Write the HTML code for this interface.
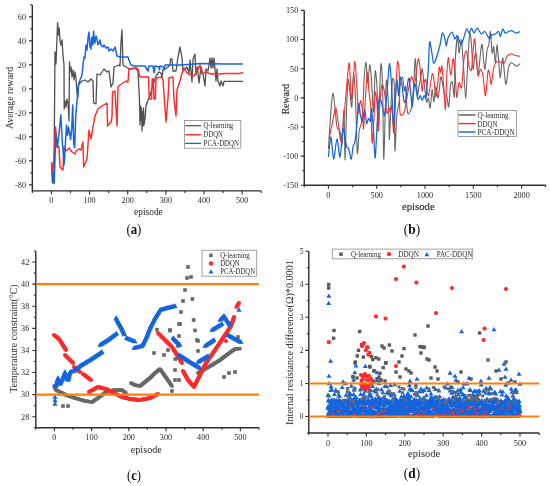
<!DOCTYPE html>
<html><head><meta charset="utf-8"><style>
html,body{margin:0;padding:0;background:#fff;width:550px;height:486px;overflow:hidden}
svg{display:block;filter:blur(0.25px)}
text{font-family:'Liberation Serif', serif}
</style></head><body>
<svg width="550" height="486" viewBox="0 0 550 486">
<path d="M32.33 4.90V190.90H261.23" fill="none" stroke="#2e2e2e" stroke-width="1.4"/>
<text x="26.00" y="187.70" font-size="8.2" text-anchor="end" fill="#2a2a2a">-80</text>
<text x="26.00" y="163.70" font-size="8.2" text-anchor="end" fill="#2a2a2a">-60</text>
<text x="26.00" y="139.70" font-size="8.2" text-anchor="end" fill="#2a2a2a">-40</text>
<text x="26.00" y="115.70" font-size="8.2" text-anchor="end" fill="#2a2a2a">-20</text>
<text x="26.00" y="91.70" font-size="8.2" text-anchor="end" fill="#2a2a2a">0</text>
<text x="26.00" y="67.70" font-size="8.2" text-anchor="end" fill="#2a2a2a">20</text>
<text x="26.00" y="43.70" font-size="8.2" text-anchor="end" fill="#2a2a2a">40</text>
<text x="26.00" y="19.70" font-size="8.2" text-anchor="end" fill="#2a2a2a">60</text>
<text x="51.40" y="203.30" font-size="8.2" text-anchor="middle" fill="#2a2a2a">0</text>
<text x="89.55" y="203.30" font-size="8.2" text-anchor="middle" fill="#2a2a2a">100</text>
<text x="127.70" y="203.30" font-size="8.2" text-anchor="middle" fill="#2a2a2a">200</text>
<text x="165.85" y="203.30" font-size="8.2" text-anchor="middle" fill="#2a2a2a">300</text>
<text x="204.00" y="203.30" font-size="8.2" text-anchor="middle" fill="#2a2a2a">400</text>
<text x="242.15" y="203.30" font-size="8.2" text-anchor="middle" fill="#2a2a2a">500</text>
<path d="M32.33 184.90h-3.5 M32.33 172.90h-2.0 M32.33 160.90h-3.5 M32.33 148.90h-2.0 M32.33 136.90h-3.5 M32.33 124.90h-2.0 M32.33 112.90h-3.5 M32.33 100.90h-2.0 M32.33 88.90h-3.5 M32.33 76.90h-2.0 M32.33 64.90h-3.5 M32.33 52.90h-2.0 M32.33 40.90h-3.5 M32.33 28.90h-2.0 M32.33 16.90h-3.5 M32.33 4.90h-2.0 M32.33 190.90v2.0 M51.40 190.90v3.5 M70.47 190.90v2.0 M89.55 190.90v3.5 M108.62 190.90v2.0 M127.70 190.90v3.5 M146.78 190.90v2.0 M165.85 190.90v3.5 M184.93 190.90v2.0 M204.00 190.90v3.5 M223.08 190.90v2.0 M242.15 190.90v3.5 M261.23 190.90v2.0" stroke="#2e2e2e" stroke-width="1.1" fill="none"/>
<text x="13.10" y="97.90" font-size="9.6" text-anchor="middle" font-weight="normal" fill="#2a2a2a" transform="rotate(-90 13.10 97.90)" textLength="62.3" lengthAdjust="spacingAndGlyphs">Average reward</text>
<text x="148.40" y="214.50" font-size="9.6" text-anchor="middle" font-weight="normal" fill="#2a2a2a" textLength="28.8" lengthAdjust="spacingAndGlyphs">episode</text>
<text x="133.90" y="234.40" font-size="13.6" text-anchor="middle" font-weight="normal" fill="#111" textLength="15" lengthAdjust="spacingAndGlyphs">(<tspan font-weight='bold'>a</tspan>)</text>
<path d="M51.6 163.0 L52.4 183.0 L53.0 177.0 L54.0 170.0 L55.0 52.0 L55.5 60.0 L56.0 64.0 L57.6 22.6 L58.4 35.0 L59.2 28.0 L60.0 41.0 L61.0 45.0 L62.0 40.0 L63.0 55.0 L64.0 65.0 L64.2 109.0 L65.0 101.0 L66.0 107.0 L67.0 99.0 L68.0 103.0 L69.0 121.0 L69.5 62.0 L70.0 72.0 L71.0 67.0 L72.0 77.0 L73.0 70.0 L74.0 80.0 L75.0 72.0 L76.0 78.0 L77.0 94.0 L78.0 88.0 L79.0 84.0 L82.0 81.0 L85.0 80.0 L88.0 82.0 L91.0 79.0 L93.0 81.0 L93.6 103.0 L96.0 104.0 L97.0 74.0 L100.0 75.0 L104.0 69.0 L107.0 72.0 L109.0 71.0 L111.0 87.0 L113.0 83.0 L114.0 67.0 L119.0 65.0 L120.0 66.0 L121.0 42.0 L122.0 30.0 L123.0 65.0 L126.0 67.0 L128.0 68.0 L129.0 69.0 L136.0 68.0 L138.0 72.0 L139.5 100.0 L140.0 125.0 L140.5 106.0 L141.0 120.0 L141.5 108.0 L142.0 131.0 L142.5 112.0 L143.0 126.0 L143.5 108.0 L144.0 125.0 L145.0 119.0 L146.0 106.0 L148.0 100.0 L150.0 96.0 L152.0 88.0 L154.0 82.0 L156.0 76.0 L159.0 72.0 L161.0 73.0 L162.0 77.0 L163.0 69.0 L165.0 69.0 L167.0 68.0 L170.0 65.0 L170.5 59.0 L172.0 59.0 L173.0 71.0 L176.0 71.0 L178.0 57.0 L180.0 47.0 L182.0 58.0 L183.0 71.0 L185.0 69.0 L187.0 67.0 L189.0 73.0 L190.0 60.0 L192.0 82.0 L193.0 59.0 L195.0 54.0 L196.0 75.0 L197.4 67.0 L199.0 83.0 L201.0 67.0 L203.0 74.0 L205.0 86.0 L206.0 69.0 L208.0 71.0 L210.0 58.0 L211.0 68.0 L212.0 58.0 L213.0 68.0 L214.0 58.0 L215.0 69.0 L216.0 81.0 L217.0 69.0 L218.0 81.0 L220.0 86.0 L221.0 81.0 L223.0 86.0 L224.0 81.3 L243.0 81.3" fill="none" stroke="#505050" stroke-width="1.3" stroke-linejoin="round"/>
<path d="M51.6 162.0 L52.4 177.0 L54.0 157.0 L55.6 127.0 L57.0 145.0 L59.0 147.0 L60.0 167.0 L63.0 170.0 L64.0 147.0 L66.0 151.0 L69.0 148.0 L72.0 152.0 L75.0 154.0 L76.0 151.0 L79.0 149.0 L81.0 150.0 L83.0 142.0 L83.6 167.0 L87.0 159.0 L89.0 130.0 L91.0 139.0 L93.0 127.0 L95.0 116.0 L98.0 109.0 L102.0 106.0 L107.0 103.0 L107.6 126.0 L111.0 122.0 L112.0 117.0 L112.5 92.0 L115.0 91.0 L117.0 126.0 L118.0 87.0 L120.0 85.0 L126.0 81.0 L128.0 82.0 L129.0 69.0 L137.0 68.0 L138.0 69.0 L140.0 77.0 L145.0 77.0 L148.5 77.0 L149.2 99.0 L151.6 99.0 L152.2 79.0 L153.4 79.0 L154.0 99.0 L155.4 99.0 L156.0 78.0 L162.0 77.0 L163.0 80.0 L166.0 122.0 L168.0 98.0 L169.0 78.0 L173.0 77.0 L174.0 100.0 L176.0 116.0 L177.0 90.0 L180.0 81.0 L182.0 73.0 L184.0 68.0 L187.0 73.0 L191.0 75.0 L194.0 76.0 L198.0 69.0 L200.0 65.0 L202.0 74.0 L205.0 72.0 L211.0 74.0 L215.0 74.0 L219.0 74.0 L225.0 73.5 L240.0 73.5 L243.0 72.5" fill="none" stroke="#ff2a2a" stroke-width="1.45" stroke-linejoin="round"/>
<path d="M52.1 172.3 L54.2 183.6 L55.2 151.7 L56.2 135.3 L57.3 147.6 L59.3 131.2 L60.8 114.7 L62.4 143.5 L63.4 155.0 L64.0 165.0 L64.5 160.0 L65.5 141.4 L66.5 125.0 L67.5 135.3 L68.6 127.0 L70.6 139.4 L71.7 129.0 L72.7 105.0 L73.7 143.5 L74.7 147.6 L75.8 114.7 L77.8 92.0 L78.0 97.0 L78.5 85.0 L80.0 80.0 L82.0 75.0 L83.0 65.0 L84.0 57.0 L85.0 58.0 L86.0 45.0 L87.0 50.0 L88.0 38.0 L89.0 32.0 L90.0 47.0 L91.0 49.0 L91.6 38.0 L92.4 37.0 L93.0 45.0 L93.6 31.0 L94.4 41.0 L95.0 43.0 L96.0 36.0 L97.0 39.0 L98.0 45.0 L99.0 43.0 L100.0 40.0 L101.0 45.0 L103.0 47.0 L104.0 45.0 L106.0 48.0 L108.0 47.0 L109.0 51.0 L111.0 49.0 L113.0 51.0 L115.0 47.0 L117.0 56.0 L120.0 57.0 L128.0 57.0 L129.0 60.0 L131.0 65.0 L134.0 66.0 L145.0 66.0 L148.0 71.0 L149.0 66.0 L153.0 66.0 L154.0 73.0 L155.0 66.0 L159.0 67.0 L159.5 70.0 L160.0 66.0 L164.0 67.0 L164.5 70.0 L165.0 65.0 L181.0 65.0 L200.0 63.5 L225.0 64.0 L243.0 64.0" fill="none" stroke="#1565dc" stroke-width="1.5" stroke-linejoin="round"/>
<rect x="184.5" y="120.5" width="56.3" height="27.7" fill="#fff" stroke="#8a8a8a" stroke-width="0.8"/>
<path d="M185.2 125.7H201.2" stroke="#5a5a5a" stroke-width="1.3"/>
<text x="203.60" y="128.30" font-size="7.5" text-anchor="start" font-weight="normal" fill="#2a2a2a" textLength="29.7" lengthAdjust="spacingAndGlyphs">Q-learning</text>
<path d="M185.2 134.7H201.2" stroke="#ff2a2a" stroke-width="1.3"/>
<text x="203.60" y="137.30" font-size="7.5" text-anchor="start" font-weight="normal" fill="#2a2a2a" textLength="19.2" lengthAdjust="spacingAndGlyphs">DDQN</text>
<path d="M185.2 143.4H201.2" stroke="#1565dc" stroke-width="1.3"/>
<text x="203.60" y="146.00" font-size="7.5" text-anchor="start" font-weight="normal" fill="#2a2a2a" textLength="35.3" lengthAdjust="spacingAndGlyphs">PCA-DDQN</text>
<path d="M304.25 10.40V185.30H545.75" fill="none" stroke="#2e2e2e" stroke-width="1.4"/>
<text x="298.30" y="188.10" font-size="8.2" text-anchor="end" fill="#2a2a2a">-150</text>
<text x="298.30" y="158.95" font-size="8.2" text-anchor="end" fill="#2a2a2a">-100</text>
<text x="298.30" y="129.80" font-size="8.2" text-anchor="end" fill="#2a2a2a">-50</text>
<text x="298.30" y="100.65" font-size="8.2" text-anchor="end" fill="#2a2a2a">0</text>
<text x="298.30" y="71.50" font-size="8.2" text-anchor="end" fill="#2a2a2a">50</text>
<text x="298.30" y="42.35" font-size="8.2" text-anchor="end" fill="#2a2a2a">100</text>
<text x="298.30" y="13.20" font-size="8.2" text-anchor="end" fill="#2a2a2a">150</text>
<text x="328.40" y="198.10" font-size="8.2" text-anchor="middle" fill="#2a2a2a">0</text>
<text x="376.70" y="198.10" font-size="8.2" text-anchor="middle" fill="#2a2a2a">500</text>
<text x="425.00" y="198.10" font-size="8.2" text-anchor="middle" fill="#2a2a2a">1000</text>
<text x="473.30" y="198.10" font-size="8.2" text-anchor="middle" fill="#2a2a2a">1500</text>
<text x="521.60" y="198.10" font-size="8.2" text-anchor="middle" fill="#2a2a2a">2000</text>
<path d="M304.25 185.30h-3.5 M304.25 170.72h-2.0 M304.25 156.15h-3.5 M304.25 141.57h-2.0 M304.25 127.00h-3.5 M304.25 112.42h-2.0 M304.25 97.85h-3.5 M304.25 83.27h-2.0 M304.25 68.70h-3.5 M304.25 54.12h-2.0 M304.25 39.55h-3.5 M304.25 24.97h-2.0 M304.25 10.40h-3.5 M304.25 185.30v2.0 M328.40 185.30v3.5 M352.55 185.30v2.0 M376.70 185.30v3.5 M400.85 185.30v2.0 M425.00 185.30v3.5 M449.15 185.30v2.0 M473.30 185.30v3.5 M497.45 185.30v2.0 M521.60 185.30v3.5 M545.75 185.30v2.0" stroke="#2e2e2e" stroke-width="1.1" fill="none"/>
<text x="288.80" y="99.10" font-size="9.8" text-anchor="middle" font-weight="normal" fill="#2a2a2a" transform="rotate(-90 288.80 99.10)" textLength="30.4" lengthAdjust="spacingAndGlyphs" stroke="#2a2a2a" stroke-width="0.12">Reward</text>
<text x="418.30" y="209.90" font-size="10.5" text-anchor="middle" font-weight="normal" fill="#2a2a2a" textLength="32.8" lengthAdjust="spacingAndGlyphs" stroke="#2a2a2a" stroke-width="0.15">episode</text>
<text x="412.00" y="234.30" font-size="13.6" text-anchor="middle" font-weight="normal" fill="#111" textLength="16.3" lengthAdjust="spacingAndGlyphs">(<tspan font-weight='bold'>b</tspan>)</text>
<path d="M328.4 149.0 C328.7 143.8 330.4 117.5 331.0 110.0 C331.6 102.5 332.5 93.3 333.0 93.0 C333.5 92.7 334.5 103.5 335.0 108.0 C335.5 112.5 336.3 123.9 337.0 127.0 C337.7 130.1 339.3 128.6 340.0 131.0 C340.7 133.4 341.5 147.8 342.0 145.0 C342.5 142.2 343.6 108.0 344.0 110.0 C344.4 112.0 344.7 159.7 345.0 160.0 C345.3 160.3 346.1 122.7 346.5 112.0 C346.9 101.3 347.6 82.4 348.1 79.7 C348.6 77.0 349.4 88.4 349.9 92.0 C350.4 95.6 351.3 109.3 351.8 106.8 C352.3 104.3 353.1 74.6 353.6 73.5 C354.1 72.4 355.0 87.6 355.5 98.2 C356.0 108.8 356.8 148.7 357.3 153.0 C357.8 157.3 358.7 134.6 359.2 130.8 C359.7 127.0 360.5 127.7 361.0 124.7 C361.5 121.7 362.5 114.8 362.9 108.6 C363.3 102.4 363.7 84.6 364.1 78.4 C364.5 72.2 365.5 61.7 366.0 62.4 C366.5 63.1 367.3 83.1 367.8 83.4 C368.3 83.7 369.2 65.4 369.7 64.9 C370.2 64.4 371.0 73.5 371.5 79.7 C372.0 85.9 372.9 112.9 373.4 111.7 C373.9 110.5 374.7 74.0 375.2 71.0 C375.7 68.0 376.7 81.5 377.1 89.5 C377.5 97.5 377.8 134.1 378.3 130.8 C378.8 127.5 380.2 70.7 380.8 64.9 C381.4 59.1 382.2 74.4 382.6 87.0 C383.0 99.6 383.3 160.0 383.8 159.2 C384.3 158.4 385.6 87.1 386.3 80.9 C387.0 74.7 388.4 105.2 388.8 113.0 C389.2 120.8 389.1 141.2 389.4 139.5 C389.7 137.8 390.8 108.0 391.2 100.0 C391.6 92.0 392.1 81.6 392.5 79.7 C392.9 77.8 394.0 76.3 394.3 85.8 C394.6 95.3 394.6 146.6 394.9 150.6 C395.2 154.6 396.2 122.7 396.8 116.0 C397.4 109.3 398.9 103.9 399.3 100.0 C399.7 96.1 399.6 90.0 400.0 87.0 C400.4 84.0 401.9 76.7 402.5 77.2 C403.1 77.7 403.9 89.5 404.3 90.8 C404.7 92.1 405.1 84.2 405.5 87.0 C405.9 89.8 406.9 108.2 407.4 111.7 C407.9 115.2 408.6 113.7 409.2 113.0 C409.8 112.3 411.1 110.4 411.7 106.8 C412.3 103.2 413.1 92.2 413.6 85.8 C414.1 79.4 414.9 57.5 415.4 58.7 C415.9 59.9 416.8 90.9 417.3 94.5 C417.8 98.1 418.6 88.3 419.1 85.8 C419.6 83.3 420.6 78.3 421.0 76.0 C421.4 73.7 421.8 67.8 422.2 68.6 C422.6 69.4 423.4 77.7 424.0 82.1 C424.6 86.5 425.9 99.8 426.5 101.9 C427.1 104.0 427.9 97.2 428.4 98.0 C428.9 98.8 429.7 109.1 430.2 108.0 C430.7 106.9 431.6 90.3 432.1 89.5 C432.6 88.7 433.4 102.2 433.9 101.9 C434.4 101.6 435.2 87.5 435.8 87.0 C436.4 86.5 437.5 99.3 438.2 98.0 C438.9 96.7 440.1 79.1 440.7 77.2 C441.3 75.3 442.0 81.1 442.5 83.4 C443.0 85.7 443.8 92.7 444.4 94.5 C445.0 96.3 446.3 95.3 446.9 96.9 C447.5 98.5 448.2 108.4 448.7 106.8 C449.2 105.2 450.1 87.9 450.6 84.6 C451.1 81.3 451.9 80.5 452.4 82.1 C452.9 83.7 454.0 99.2 454.3 96.9 C454.6 94.6 454.6 72.6 455.0 64.5 C455.4 56.4 457.0 38.0 457.5 36.5 C458.0 35.0 458.6 52.6 459.1 53.0 C459.6 53.4 460.8 38.7 461.3 39.8 C461.8 40.9 462.6 53.3 463.2 61.2 C463.8 69.1 465.1 99.0 465.7 99.0 C466.3 99.0 467.3 69.8 467.8 61.0 C468.3 52.2 469.3 35.4 469.8 33.2 C470.3 31.0 471.1 39.9 471.5 44.7 C471.9 49.5 472.6 68.3 473.1 69.4 C473.6 70.5 474.9 52.3 475.6 53.0 C476.3 53.7 477.4 74.4 478.1 74.4 C478.8 74.4 480.0 57.0 480.5 53.0 C481.0 49.0 481.6 42.5 482.2 44.7 C482.8 46.9 484.0 68.7 484.7 69.4 C485.4 70.1 486.6 53.0 487.1 49.7 C487.6 46.4 488.4 47.4 488.8 45.0 C489.2 42.6 490.0 30.4 490.4 31.5 C490.8 32.6 491.7 51.0 492.1 53.0 C492.5 55.0 493.3 45.1 493.7 46.4 C494.1 47.7 495.0 63.0 495.4 62.8 C495.8 62.6 496.6 44.9 497.0 44.7 C497.4 44.5 498.3 56.8 498.7 61.2 C499.1 65.6 499.8 78.1 500.3 77.7 C500.8 77.3 502.1 57.0 502.8 57.9 C503.5 58.8 504.9 83.0 505.7 84.3 C506.5 85.6 507.8 70.7 508.5 67.8 C509.2 64.9 510.2 63.2 511.0 62.8 C511.8 62.4 513.5 64.1 514.3 64.5 C515.1 64.9 516.0 66.2 516.8 66.1 C517.6 66.0 519.6 64.0 520.0 63.7" fill="none" stroke="#666666" stroke-width="1.1" stroke-linejoin="round"/>
<path d="M329.0 139.0 C329.4 137.1 331.1 129.1 332.0 125.0 C332.9 120.9 334.8 108.5 335.6 108.0 C336.4 107.5 337.3 116.6 338.0 121.0 C338.7 125.4 340.1 142.3 341.0 141.0 C341.9 139.7 343.7 118.5 344.5 111.0 C345.3 103.5 346.2 91.0 346.8 84.6 C347.4 78.2 348.7 61.0 349.3 63.0 C349.9 65.0 350.7 96.7 351.2 99.4 C351.7 102.1 352.5 88.5 353.0 83.4 C353.5 78.3 354.4 61.0 354.9 61.2 C355.4 61.4 356.2 77.7 356.7 84.6 C357.2 91.5 358.1 110.9 358.6 113.0 C359.1 115.1 359.9 101.1 360.4 100.6 C360.9 100.1 361.9 105.5 362.3 109.3 C362.7 113.1 363.1 130.2 363.5 129.0 C363.9 127.8 364.8 107.6 365.3 100.0 C365.8 92.4 366.7 73.4 367.2 72.3 C367.7 71.2 368.5 87.2 369.0 92.0 C369.5 96.8 370.5 101.2 370.9 108.0 C371.3 114.8 371.7 141.6 372.1 143.0 C372.5 144.4 373.6 125.3 374.0 118.5 C374.4 111.7 374.8 93.9 375.2 92.0 C375.6 90.1 376.7 99.1 377.1 104.3 C377.5 109.5 377.9 131.4 378.3 130.8 C378.7 130.2 379.6 106.2 380.1 100.0 C380.6 93.8 381.4 85.7 382.0 84.6 C382.6 83.5 383.8 88.2 384.5 92.0 C385.2 95.8 386.2 110.9 386.9 113.0 C387.6 115.1 388.9 108.1 389.4 108.0 C389.9 107.9 390.3 112.3 390.6 112.0 C390.9 111.7 391.6 103.2 392.0 106.0 C392.4 108.8 393.2 133.8 393.7 133.0 C394.2 132.2 395.0 109.5 395.5 100.0 C396.0 90.5 396.9 65.5 397.4 62.0 C397.9 58.5 399.0 66.7 399.3 73.5 C399.6 80.3 399.3 107.9 400.0 113.0 C400.7 118.1 403.5 113.5 404.3 112.0 C405.1 110.5 405.7 104.6 406.2 101.9 C406.7 99.2 407.5 94.7 408.0 92.0 C408.5 89.3 409.4 84.1 409.9 82.0 C410.4 79.9 411.3 76.7 411.7 76.6 C412.1 76.5 412.7 79.6 413.0 81.0 C413.3 82.4 413.9 87.2 414.2 87.0 C414.5 86.8 415.1 82.0 415.4 79.7 C415.7 77.4 416.2 72.6 416.6 69.8 C417.0 67.0 417.8 59.4 418.2 58.7 C418.6 58.0 419.3 62.1 419.7 64.9 C420.1 67.7 420.7 76.1 421.0 79.7 C421.3 83.3 421.9 92.0 422.2 92.0 C422.5 92.0 423.1 81.0 423.4 79.7 C423.7 78.4 424.4 82.0 424.7 82.0 C425.0 82.0 425.6 78.4 425.9 79.7 C426.2 81.0 426.7 89.9 427.1 92.0 C427.5 94.1 428.2 96.5 428.6 95.7 C429.0 94.9 429.7 88.8 430.2 85.8 C430.7 82.8 431.8 74.3 432.3 73.5 C432.8 72.7 433.4 76.6 433.9 79.7 C434.4 82.8 435.3 96.2 435.8 96.9 C436.3 97.6 437.1 88.5 437.6 84.6 C438.1 80.7 438.8 68.9 439.2 67.3 C439.6 65.7 440.3 72.5 440.7 72.3 C441.1 72.1 441.5 64.1 441.9 66.1 C442.3 68.1 443.3 81.2 443.8 87.0 C444.3 92.8 445.0 111.1 445.4 109.3 C445.8 107.5 446.5 80.4 446.9 73.5 C447.3 66.6 447.9 58.0 448.3 57.5 C448.7 57.0 449.5 67.5 449.9 69.8 C450.3 72.1 450.8 76.2 451.2 74.7 C451.6 73.2 452.5 59.4 453.0 58.7 C453.5 58.0 454.5 64.2 455.0 69.4 C455.5 74.6 456.1 95.6 456.6 97.4 C457.1 99.2 458.4 83.9 459.1 82.6 C459.8 81.3 460.9 90.8 461.6 87.5 C462.3 84.2 463.4 62.7 464.1 57.9 C464.8 53.1 465.8 50.2 466.5 51.3 C467.2 52.4 468.3 63.7 469.0 66.1 C469.7 68.5 470.8 73.0 471.5 69.4 C472.2 65.8 473.7 40.2 474.4 38.9 C475.1 37.6 475.9 54.6 476.4 59.5 C476.9 64.4 477.6 74.7 478.1 76.0 C478.6 77.3 479.8 69.4 480.5 69.4 C481.2 69.4 482.3 72.5 483.0 76.0 C483.7 79.5 484.8 96.5 485.5 95.8 C486.2 95.1 487.5 73.9 488.0 71.0 C488.5 68.1 489.2 72.2 489.6 74.0 C490.0 75.8 490.7 85.1 491.2 84.3 C491.7 83.5 492.9 70.9 493.7 67.8 C494.5 64.7 496.1 62.0 497.0 61.2 C497.9 60.4 499.3 61.8 500.3 62.0 C501.3 62.2 503.3 63.6 504.2 62.8 C505.1 62.0 506.2 57.4 507.2 56.2 C508.2 55.0 510.7 53.9 511.7 53.8 C512.7 53.7 513.9 55.2 515.0 55.5 C516.1 55.8 519.3 56.1 520.0 56.2" fill="none" stroke="#ff2a2a" stroke-width="1.1" stroke-linejoin="round"/>
<path d="M328.4 157.0 C328.7 154.3 330.3 136.7 331.0 137.0 C331.7 137.3 332.8 158.7 333.6 159.0 C334.4 159.3 336.1 139.3 337.0 139.0 C337.9 138.7 339.2 158.3 340.0 157.0 C340.8 155.7 342.3 131.5 343.0 129.0 C343.7 126.5 344.5 135.8 345.0 138.2 C345.5 140.6 346.3 145.5 346.8 146.9 C347.3 148.3 348.1 147.4 348.7 149.0 C349.3 150.6 350.6 159.5 351.2 159.2 C351.8 158.9 352.5 149.2 353.0 146.9 C353.5 144.6 354.4 144.5 354.9 141.9 C355.4 139.3 356.2 132.2 356.7 127.1 C357.2 122.0 358.1 105.3 358.6 103.7 C359.1 102.1 359.9 112.5 360.4 114.8 C360.9 117.1 361.7 121.7 362.3 121.0 C362.9 120.3 364.1 109.6 364.7 109.9 C365.3 110.2 366.1 122.3 366.6 123.4 C367.1 124.5 367.9 118.8 368.4 118.5 C368.9 118.2 369.9 122.3 370.3 121.0 C370.7 119.7 371.1 107.5 371.5 108.6 C371.9 109.7 372.9 123.0 373.4 129.6 C373.9 136.2 374.7 158.7 375.2 158.0 C375.7 157.3 376.6 132.4 377.1 124.7 C377.6 117.0 378.4 103.3 378.9 100.0 C379.4 96.7 380.2 98.6 380.8 100.0 C381.4 101.4 382.7 108.4 383.2 110.5 C383.7 112.6 384.2 116.5 384.5 116.0 C384.8 115.5 385.3 110.8 385.7 106.8 C386.1 102.8 387.0 91.6 387.5 85.8 C388.0 80.0 388.9 64.4 389.4 63.6 C389.9 62.8 390.8 74.2 391.2 79.7 C391.6 85.2 392.2 98.8 392.5 105.0 C392.8 111.2 393.3 126.7 393.7 126.0 C394.1 125.3 394.8 106.2 395.2 100.0 C395.6 93.8 396.3 80.3 396.8 79.7 C397.3 79.1 398.2 96.0 398.6 95.7 C399.0 95.4 399.6 78.8 400.0 77.2 C400.4 75.6 401.3 80.4 401.8 83.4 C402.3 86.4 403.2 96.9 403.7 99.4 C404.2 101.9 405.0 103.9 405.5 101.9 C406.0 99.9 406.9 87.7 407.4 84.6 C407.9 81.5 408.7 76.7 409.2 78.4 C409.7 80.1 410.7 93.2 411.1 97.0 C411.5 100.8 411.9 108.1 412.3 106.8 C412.7 105.5 413.8 90.0 414.2 87.0 C414.6 84.0 415.0 83.3 415.4 84.6 C415.8 85.9 416.9 95.0 417.3 97.0 C417.7 99.0 418.1 99.6 418.5 99.4 C418.9 99.2 419.8 95.5 420.3 95.7 C420.8 95.9 421.7 100.6 422.2 100.6 C422.7 100.6 423.5 96.0 424.0 95.7 C424.5 95.4 425.5 99.5 425.9 98.2 C426.3 96.9 426.8 89.9 427.1 85.8 C427.4 81.7 428.1 73.1 428.4 67.3 C428.7 61.5 429.2 44.2 429.6 42.0 C430.0 39.8 431.1 48.2 431.6 51.0 C432.1 53.8 433.0 61.9 433.6 63.0 C434.2 64.1 435.1 61.4 436.0 59.0 C436.9 56.6 439.1 48.5 440.0 45.0 C440.9 41.5 441.7 33.8 442.4 33.0 C443.1 32.2 444.5 37.3 445.0 39.0 C445.5 40.7 446.0 46.1 446.4 46.0 C446.8 45.9 447.3 39.9 448.0 38.0 C448.7 36.1 451.2 32.1 452.0 32.0 C452.8 31.9 453.6 36.1 454.0 37.0 C454.4 37.9 454.5 39.1 455.0 38.9 C455.5 38.7 456.7 34.9 457.5 35.7 C458.3 36.5 460.0 44.2 460.8 44.7 C461.6 45.2 462.4 41.9 463.2 39.8 C464.0 37.7 465.7 30.0 466.5 29.1 C467.3 28.2 468.3 33.3 469.0 33.2 C469.7 33.1 470.8 28.2 471.5 28.2 C472.2 28.2 473.2 33.0 474.0 33.0 C474.8 33.0 476.2 28.1 477.2 28.2 C478.2 28.3 480.4 33.6 481.4 34.0 C482.4 34.4 483.8 31.2 484.7 31.5 C485.6 31.8 487.3 35.5 488.0 36.5 C488.7 37.5 489.1 39.1 489.6 38.9 C490.1 38.7 491.3 35.5 492.1 34.8 C492.9 34.1 494.5 34.4 495.4 34.0 C496.3 33.6 498.0 31.2 498.7 31.5 C499.4 31.8 499.8 36.8 500.3 36.5 C500.8 36.2 502.1 29.5 502.8 29.1 C503.5 28.7 504.4 32.9 505.2 33.2 C506.0 33.5 507.6 31.8 508.5 31.5 C509.4 31.2 510.8 30.5 511.8 30.7 C512.8 30.9 514.9 33.1 516.0 33.2 C517.1 33.3 519.5 31.7 520.0 31.5" fill="none" stroke="#1565dc" stroke-width="1.25" stroke-linejoin="round"/>
<rect x="458" y="110.6" width="58.6" height="25.8" fill="#fff" stroke="#8a8a8a" stroke-width="0.8"/>
<path d="M458.6 115.0H475.5" stroke="#5a5a5a" stroke-width="1.4"/>
<text x="477.60" y="117.90" font-size="7.6" text-anchor="start" font-weight="normal" fill="#2a2a2a" textLength="31.0" lengthAdjust="spacingAndGlyphs">Q-learning</text>
<path d="M458.6 123.6H475.5" stroke="#ff2a2a" stroke-width="1.4"/>
<text x="477.60" y="126.50" font-size="7.6" text-anchor="start" font-weight="normal" fill="#2a2a2a" textLength="20.0" lengthAdjust="spacingAndGlyphs">DDQN</text>
<path d="M458.6 132.0H475.5" stroke="#1565dc" stroke-width="1.4"/>
<text x="477.60" y="134.90" font-size="7.6" text-anchor="start" font-weight="normal" fill="#2a2a2a" textLength="37.1" lengthAdjust="spacingAndGlyphs">PCA-DDQN</text>
<path d="M35.80 251.00V427.80H259.00" fill="none" stroke="#2e2e2e" stroke-width="1.4"/>
<text x="29.30" y="419.55" font-size="8.2" text-anchor="end" fill="#2a2a2a">28</text>
<text x="29.30" y="397.45" font-size="8.2" text-anchor="end" fill="#2a2a2a">30</text>
<text x="29.30" y="375.35" font-size="8.2" text-anchor="end" fill="#2a2a2a">32</text>
<text x="29.30" y="353.25" font-size="8.2" text-anchor="end" fill="#2a2a2a">34</text>
<text x="29.30" y="331.15" font-size="8.2" text-anchor="end" fill="#2a2a2a">36</text>
<text x="29.30" y="309.05" font-size="8.2" text-anchor="end" fill="#2a2a2a">38</text>
<text x="29.30" y="286.95" font-size="8.2" text-anchor="end" fill="#2a2a2a">40</text>
<text x="29.30" y="264.85" font-size="8.2" text-anchor="end" fill="#2a2a2a">42</text>
<text x="54.40" y="439.50" font-size="8.2" text-anchor="middle" fill="#2a2a2a">0</text>
<text x="91.60" y="439.50" font-size="8.2" text-anchor="middle" fill="#2a2a2a">100</text>
<text x="128.80" y="439.50" font-size="8.2" text-anchor="middle" fill="#2a2a2a">200</text>
<text x="166.00" y="439.50" font-size="8.2" text-anchor="middle" fill="#2a2a2a">300</text>
<text x="203.20" y="439.50" font-size="8.2" text-anchor="middle" fill="#2a2a2a">400</text>
<text x="240.40" y="439.50" font-size="8.2" text-anchor="middle" fill="#2a2a2a">500</text>
<path d="M35.80 427.80h-2.0 M35.80 416.75h-3.5 M35.80 405.70h-2.0 M35.80 394.65h-3.5 M35.80 383.60h-2.0 M35.80 372.55h-3.5 M35.80 361.50h-2.0 M35.80 350.45h-3.5 M35.80 339.40h-2.0 M35.80 328.35h-3.5 M35.80 317.30h-2.0 M35.80 306.25h-3.5 M35.80 295.20h-2.0 M35.80 284.15h-3.5 M35.80 273.10h-2.0 M35.80 262.05h-3.5 M35.80 251.00h-2.0 M35.80 427.80v2.0 M54.40 427.80v3.5 M73.00 427.80v2.0 M91.60 427.80v3.5 M110.20 427.80v2.0 M128.80 427.80v3.5 M147.40 427.80v2.0 M166.00 427.80v3.5 M184.60 427.80v2.0 M203.20 427.80v3.5 M221.80 427.80v2.0 M240.40 427.80v3.5 M259.00 427.80v2.0" stroke="#2e2e2e" stroke-width="1.1" fill="none"/>
<text x="17.00" y="338.60" font-size="9.4" text-anchor="middle" font-weight="normal" fill="#2a2a2a" transform="rotate(-90 17.00 338.60)" textLength="108.4" lengthAdjust="spacingAndGlyphs">Temperature constraint(°C)</text>
<text x="146.30" y="452.50" font-size="10.1" text-anchor="middle" font-weight="normal" fill="#2a2a2a" textLength="31" lengthAdjust="spacingAndGlyphs">episode</text>
<text x="134.00" y="479.50" font-size="13.6" text-anchor="middle" font-weight="normal" fill="#111" textLength="14.1" lengthAdjust="spacingAndGlyphs">(<tspan font-weight='bold'>c</tspan>)</text>
<rect x="52.4" y="384.4" width="3.3" height="3.3" fill="#686868"/><rect x="52.9" y="385.4" width="3.3" height="3.3" fill="#686868"/><rect x="53.4" y="386.4" width="3.3" height="3.3" fill="#686868"/><rect x="53.9" y="387.4" width="3.3" height="3.3" fill="#686868"/><rect x="54.4" y="388.4" width="3.3" height="3.3" fill="#686868"/><rect x="55.4" y="388.9" width="3.3" height="3.3" fill="#686868"/><rect x="56.4" y="389.4" width="3.3" height="3.3" fill="#686868"/><rect x="57.4" y="389.9" width="3.3" height="3.3" fill="#686868"/><rect x="58.4" y="390.4" width="3.3" height="3.3" fill="#686868"/><rect x="59.2" y="390.8" width="3.3" height="3.3" fill="#686868"/><rect x="60.1" y="391.2" width="3.3" height="3.3" fill="#686868"/><rect x="60.9" y="391.6" width="3.3" height="3.3" fill="#686868"/><rect x="61.8" y="392.1" width="3.3" height="3.3" fill="#686868"/><rect x="62.6" y="392.5" width="3.3" height="3.3" fill="#686868"/><rect x="63.5" y="392.9" width="3.3" height="3.3" fill="#686868"/><rect x="64.3" y="393.4" width="3.3" height="3.3" fill="#686868"/><rect x="65.2" y="393.7" width="3.3" height="3.3" fill="#686868"/><rect x="66.1" y="394.0" width="3.3" height="3.3" fill="#686868"/><rect x="67.0" y="394.2" width="3.3" height="3.3" fill="#686868"/><rect x="67.9" y="394.6" width="3.3" height="3.3" fill="#686868"/><rect x="68.8" y="394.9" width="3.3" height="3.3" fill="#686868"/><rect x="69.8" y="395.2" width="3.3" height="3.3" fill="#686868"/><rect x="70.6" y="395.5" width="3.3" height="3.3" fill="#686868"/><rect x="71.5" y="395.8" width="3.3" height="3.3" fill="#686868"/><rect x="72.4" y="396.1" width="3.3" height="3.3" fill="#686868"/><rect x="73.3" y="396.4" width="3.3" height="3.3" fill="#686868"/><rect x="74.3" y="396.6" width="3.3" height="3.3" fill="#686868"/><rect x="75.2" y="396.9" width="3.3" height="3.3" fill="#686868"/><rect x="76.1" y="397.2" width="3.3" height="3.3" fill="#686868"/><rect x="77.0" y="397.4" width="3.3" height="3.3" fill="#686868"/><rect x="77.9" y="397.7" width="3.3" height="3.3" fill="#686868"/><rect x="78.8" y="398.0" width="3.3" height="3.3" fill="#686868"/><rect x="79.7" y="398.3" width="3.3" height="3.3" fill="#686868"/><rect x="80.6" y="398.5" width="3.3" height="3.3" fill="#686868"/><rect x="81.5" y="398.8" width="3.3" height="3.3" fill="#686868"/><rect x="82.4" y="399.1" width="3.3" height="3.3" fill="#686868"/><rect x="83.3" y="399.4" width="3.3" height="3.3" fill="#686868"/><rect x="84.3" y="399.5" width="3.3" height="3.3" fill="#686868"/><rect x="85.3" y="399.6" width="3.3" height="3.3" fill="#686868"/><rect x="86.3" y="399.8" width="3.3" height="3.3" fill="#686868"/><rect x="87.3" y="399.9" width="3.3" height="3.3" fill="#686868"/><rect x="88.3" y="400.1" width="3.3" height="3.3" fill="#686868"/><rect x="89.3" y="400.2" width="3.3" height="3.3" fill="#686868"/><rect x="90.3" y="400.4" width="3.3" height="3.3" fill="#686868"/><rect x="91.1" y="399.9" width="3.3" height="3.3" fill="#686868"/><rect x="91.8" y="399.4" width="3.3" height="3.3" fill="#686868"/><rect x="92.6" y="398.9" width="3.3" height="3.3" fill="#686868"/><rect x="93.3" y="398.4" width="3.3" height="3.3" fill="#686868"/><rect x="94.1" y="397.9" width="3.3" height="3.3" fill="#686868"/><rect x="94.8" y="397.4" width="3.3" height="3.3" fill="#686868"/><rect x="95.6" y="396.9" width="3.3" height="3.3" fill="#686868"/><rect x="96.3" y="396.4" width="3.3" height="3.3" fill="#686868"/><rect x="97.1" y="395.8" width="3.3" height="3.3" fill="#686868"/><rect x="97.8" y="395.3" width="3.3" height="3.3" fill="#686868"/><rect x="98.5" y="394.7" width="3.3" height="3.3" fill="#686868"/><rect x="99.3" y="394.2" width="3.3" height="3.3" fill="#686868"/><rect x="100.0" y="393.6" width="3.3" height="3.3" fill="#686868"/><rect x="100.7" y="393.1" width="3.3" height="3.3" fill="#686868"/><rect x="101.4" y="392.5" width="3.3" height="3.3" fill="#686868"/><rect x="102.2" y="392.0" width="3.3" height="3.3" fill="#686868"/><rect x="102.9" y="391.4" width="3.3" height="3.3" fill="#686868"/><rect x="103.6" y="390.9" width="3.3" height="3.3" fill="#686868"/><rect x="104.3" y="390.4" width="3.3" height="3.3" fill="#686868"/><rect x="105.2" y="390.1" width="3.3" height="3.3" fill="#686868"/><rect x="106.1" y="389.9" width="3.3" height="3.3" fill="#686868"/><rect x="107.0" y="389.7" width="3.3" height="3.3" fill="#686868"/><rect x="107.9" y="389.5" width="3.3" height="3.3" fill="#686868"/><rect x="108.8" y="389.2" width="3.3" height="3.3" fill="#686868"/><rect x="109.7" y="389.0" width="3.3" height="3.3" fill="#686868"/><rect x="110.6" y="388.8" width="3.3" height="3.3" fill="#686868"/><rect x="111.5" y="388.6" width="3.3" height="3.3" fill="#686868"/><rect x="112.3" y="388.4" width="3.3" height="3.3" fill="#686868"/><rect x="113.3" y="388.4" width="3.3" height="3.3" fill="#686868"/><rect x="114.3" y="388.4" width="3.3" height="3.3" fill="#686868"/><rect x="115.3" y="388.4" width="3.3" height="3.3" fill="#686868"/><rect x="116.3" y="388.4" width="3.3" height="3.3" fill="#686868"/><rect x="117.3" y="388.4" width="3.3" height="3.3" fill="#686868"/><rect x="118.3" y="388.4" width="3.3" height="3.3" fill="#686868"/><rect x="119.3" y="388.4" width="3.3" height="3.3" fill="#686868"/><rect x="120.3" y="388.4" width="3.3" height="3.3" fill="#686868"/><rect x="121.1" y="389.0" width="3.3" height="3.3" fill="#686868"/><rect x="121.9" y="389.6" width="3.3" height="3.3" fill="#686868"/><rect x="122.8" y="390.2" width="3.3" height="3.3" fill="#686868"/><rect x="123.5" y="390.8" width="3.3" height="3.3" fill="#686868"/><rect x="124.3" y="391.4" width="3.3" height="3.3" fill="#686868"/>
<rect x="129.3" y="381.4" width="3.3" height="3.3" fill="#686868"/><rect x="130.3" y="381.9" width="3.3" height="3.3" fill="#686868"/><rect x="131.3" y="382.4" width="3.3" height="3.3" fill="#686868"/><rect x="132.3" y="382.9" width="3.3" height="3.3" fill="#686868"/><rect x="133.3" y="383.4" width="3.3" height="3.3" fill="#686868"/><rect x="134.3" y="383.6" width="3.3" height="3.3" fill="#686868"/><rect x="135.3" y="383.8" width="3.3" height="3.3" fill="#686868"/><rect x="136.3" y="384.0" width="3.3" height="3.3" fill="#686868"/><rect x="137.3" y="384.2" width="3.3" height="3.3" fill="#686868"/><rect x="138.3" y="384.4" width="3.3" height="3.3" fill="#686868"/><rect x="139.1" y="383.8" width="3.3" height="3.3" fill="#686868"/><rect x="139.8" y="383.2" width="3.3" height="3.3" fill="#686868"/><rect x="140.5" y="382.6" width="3.3" height="3.3" fill="#686868"/><rect x="141.2" y="382.1" width="3.3" height="3.3" fill="#686868"/><rect x="141.9" y="381.5" width="3.3" height="3.3" fill="#686868"/><rect x="142.6" y="380.9" width="3.3" height="3.3" fill="#686868"/><rect x="143.3" y="380.4" width="3.3" height="3.3" fill="#686868"/><rect x="144.1" y="379.8" width="3.3" height="3.3" fill="#686868"/><rect x="144.8" y="379.2" width="3.3" height="3.3" fill="#686868"/><rect x="145.5" y="378.6" width="3.3" height="3.3" fill="#686868"/><rect x="146.2" y="378.1" width="3.3" height="3.3" fill="#686868"/><rect x="146.9" y="377.5" width="3.3" height="3.3" fill="#686868"/><rect x="147.6" y="376.9" width="3.3" height="3.3" fill="#686868"/><rect x="148.3" y="376.4" width="3.3" height="3.3" fill="#686868"/><rect x="149.1" y="375.6" width="3.3" height="3.3" fill="#686868"/><rect x="149.8" y="374.9" width="3.3" height="3.3" fill="#686868"/><rect x="150.5" y="374.2" width="3.3" height="3.3" fill="#686868"/><rect x="151.2" y="373.5" width="3.3" height="3.3" fill="#686868"/><rect x="151.9" y="372.8" width="3.3" height="3.3" fill="#686868"/><rect x="152.6" y="372.1" width="3.3" height="3.3" fill="#686868"/><rect x="153.3" y="371.4" width="3.3" height="3.3" fill="#686868"/><rect x="154.1" y="370.8" width="3.3" height="3.3" fill="#686868"/><rect x="154.8" y="370.2" width="3.3" height="3.3" fill="#686868"/><rect x="155.5" y="369.6" width="3.3" height="3.3" fill="#686868"/><rect x="156.2" y="369.1" width="3.3" height="3.3" fill="#686868"/><rect x="156.9" y="368.5" width="3.3" height="3.3" fill="#686868"/><rect x="157.6" y="367.9" width="3.3" height="3.3" fill="#686868"/><rect x="158.3" y="367.4" width="3.3" height="3.3" fill="#686868"/><rect x="158.9" y="368.1" width="3.3" height="3.3" fill="#686868"/><rect x="159.5" y="368.9" width="3.3" height="3.3" fill="#686868"/><rect x="160.0" y="369.7" width="3.3" height="3.3" fill="#686868"/><rect x="160.6" y="370.5" width="3.3" height="3.3" fill="#686868"/><rect x="161.1" y="371.2" width="3.3" height="3.3" fill="#686868"/><rect x="161.7" y="372.0" width="3.3" height="3.3" fill="#686868"/><rect x="162.2" y="372.8" width="3.3" height="3.3" fill="#686868"/><rect x="162.8" y="373.6" width="3.3" height="3.3" fill="#686868"/><rect x="163.3" y="374.4" width="3.3" height="3.3" fill="#686868"/><rect x="163.9" y="375.1" width="3.3" height="3.3" fill="#686868"/><rect x="164.4" y="375.9" width="3.3" height="3.3" fill="#686868"/><rect x="165.0" y="376.7" width="3.3" height="3.3" fill="#686868"/><rect x="165.5" y="377.4" width="3.3" height="3.3" fill="#686868"/><rect x="166.0" y="378.2" width="3.3" height="3.3" fill="#686868"/><rect x="166.6" y="379.0" width="3.3" height="3.3" fill="#686868"/><rect x="167.1" y="379.7" width="3.3" height="3.3" fill="#686868"/><rect x="167.7" y="380.5" width="3.3" height="3.3" fill="#686868"/><rect x="168.2" y="381.3" width="3.3" height="3.3" fill="#686868"/><rect x="168.7" y="382.0" width="3.3" height="3.3" fill="#686868"/><rect x="169.3" y="382.8" width="3.3" height="3.3" fill="#686868"/><rect x="169.8" y="383.6" width="3.3" height="3.3" fill="#686868"/><rect x="170.3" y="384.4" width="3.3" height="3.3" fill="#686868"/>
<rect x="196.3" y="371.4" width="3.3" height="3.3" fill="#686868"/><rect x="197.2" y="370.9" width="3.3" height="3.3" fill="#686868"/><rect x="198.1" y="370.4" width="3.3" height="3.3" fill="#686868"/><rect x="199.0" y="369.9" width="3.3" height="3.3" fill="#686868"/><rect x="199.8" y="369.4" width="3.3" height="3.3" fill="#686868"/><rect x="200.7" y="368.9" width="3.3" height="3.3" fill="#686868"/><rect x="201.6" y="368.4" width="3.3" height="3.3" fill="#686868"/><rect x="202.5" y="367.9" width="3.3" height="3.3" fill="#686868"/><rect x="203.3" y="367.4" width="3.3" height="3.3" fill="#686868"/><rect x="204.2" y="366.9" width="3.3" height="3.3" fill="#686868"/><rect x="205.1" y="366.4" width="3.3" height="3.3" fill="#686868"/><rect x="206.0" y="365.9" width="3.3" height="3.3" fill="#686868"/><rect x="206.8" y="365.4" width="3.3" height="3.3" fill="#686868"/><rect x="207.7" y="364.9" width="3.3" height="3.3" fill="#686868"/><rect x="208.6" y="364.4" width="3.3" height="3.3" fill="#686868"/><rect x="209.5" y="363.9" width="3.3" height="3.3" fill="#686868"/><rect x="210.3" y="363.4" width="3.3" height="3.3" fill="#686868"/><rect x="211.2" y="362.9" width="3.3" height="3.3" fill="#686868"/><rect x="211.9" y="362.4" width="3.3" height="3.3" fill="#686868"/><rect x="212.8" y="361.9" width="3.3" height="3.3" fill="#686868"/><rect x="213.5" y="361.4" width="3.3" height="3.3" fill="#686868"/><rect x="214.3" y="360.9" width="3.3" height="3.3" fill="#686868"/><rect x="215.2" y="360.4" width="3.3" height="3.3" fill="#686868"/><rect x="215.9" y="359.9" width="3.3" height="3.3" fill="#686868"/><rect x="216.8" y="359.4" width="3.3" height="3.3" fill="#686868"/><rect x="217.5" y="358.9" width="3.3" height="3.3" fill="#686868"/><rect x="218.3" y="358.4" width="3.3" height="3.3" fill="#686868"/><rect x="219.1" y="357.8" width="3.3" height="3.3" fill="#686868"/><rect x="219.8" y="357.3" width="3.3" height="3.3" fill="#686868"/><rect x="220.5" y="356.7" width="3.3" height="3.3" fill="#686868"/><rect x="221.3" y="356.2" width="3.3" height="3.3" fill="#686868"/><rect x="222.0" y="355.6" width="3.3" height="3.3" fill="#686868"/><rect x="222.7" y="355.1" width="3.3" height="3.3" fill="#686868"/><rect x="223.4" y="354.5" width="3.3" height="3.3" fill="#686868"/><rect x="224.2" y="354.0" width="3.3" height="3.3" fill="#686868"/><rect x="224.9" y="353.4" width="3.3" height="3.3" fill="#686868"/><rect x="225.6" y="352.9" width="3.3" height="3.3" fill="#686868"/><rect x="226.3" y="352.4" width="3.3" height="3.3" fill="#686868"/><rect x="227.1" y="351.8" width="3.3" height="3.3" fill="#686868"/><rect x="227.9" y="351.2" width="3.3" height="3.3" fill="#686868"/><rect x="228.7" y="350.7" width="3.3" height="3.3" fill="#686868"/><rect x="229.5" y="350.1" width="3.3" height="3.3" fill="#686868"/><rect x="230.2" y="349.6" width="3.3" height="3.3" fill="#686868"/><rect x="231.0" y="349.0" width="3.3" height="3.3" fill="#686868"/><rect x="231.8" y="348.5" width="3.3" height="3.3" fill="#686868"/><rect x="232.6" y="347.9" width="3.3" height="3.3" fill="#686868"/><rect x="233.3" y="347.4" width="3.3" height="3.3" fill="#686868"/><rect x="234.3" y="347.2" width="3.3" height="3.3" fill="#686868"/><rect x="235.3" y="347.2" width="3.3" height="3.3" fill="#686868"/><rect x="236.3" y="347.1" width="3.3" height="3.3" fill="#686868"/><rect x="237.3" y="347.0" width="3.3" height="3.3" fill="#686868"/><rect x="238.3" y="346.9" width="3.3" height="3.3" fill="#686868"/>
<rect x="173.5" y="357.2" width="3.6" height="3.6" fill="#666"/><rect x="61.2" y="404.2" width="3.6" height="3.6" fill="#666"/><rect x="66.2" y="404.2" width="3.6" height="3.6" fill="#666"/><rect x="186.2" y="265.2" width="3.6" height="3.6" fill="#666"/><rect x="185.2" y="276.2" width="3.6" height="3.6" fill="#666"/><rect x="189.2" y="275.2" width="3.6" height="3.6" fill="#666"/><rect x="183.2" y="288.2" width="3.6" height="3.6" fill="#666"/><rect x="181.2" y="299.2" width="3.6" height="3.6" fill="#666"/><rect x="190.6" y="297.2" width="3.6" height="3.6" fill="#666"/><rect x="179.2" y="310.2" width="3.6" height="3.6" fill="#666"/><rect x="191.8" y="318.2" width="3.6" height="3.6" fill="#666"/><rect x="178.2" y="322.2" width="3.6" height="3.6" fill="#666"/><rect x="155.2" y="327.8" width="3.6" height="3.6" fill="#666"/><rect x="168.2" y="328.8" width="3.6" height="3.6" fill="#666"/><rect x="193.2" y="328.6" width="3.6" height="3.6" fill="#666"/><rect x="177.2" y="334.2" width="3.6" height="3.6" fill="#666"/><rect x="196.2" y="339.2" width="3.6" height="3.6" fill="#666"/><rect x="236.2" y="335.2" width="3.6" height="3.6" fill="#666"/><rect x="170.2" y="389.2" width="3.6" height="3.6" fill="#666"/><rect x="173.2" y="378.2" width="3.6" height="3.6" fill="#666"/><rect x="177.2" y="378.2" width="3.6" height="3.6" fill="#666"/><rect x="173.2" y="368.2" width="3.6" height="3.6" fill="#666"/><rect x="176.2" y="344.2" width="3.6" height="3.6" fill="#666"/><rect x="152.2" y="351.2" width="3.6" height="3.6" fill="#666"/><rect x="162.2" y="353.2" width="3.6" height="3.6" fill="#666"/><rect x="166.2" y="348.2" width="3.6" height="3.6" fill="#666"/><rect x="168.2" y="328.2" width="3.6" height="3.6" fill="#666"/><rect x="177.2" y="322.2" width="3.6" height="3.6" fill="#666"/><rect x="195.2" y="338.2" width="3.6" height="3.6" fill="#666"/><rect x="196.2" y="349.2" width="3.6" height="3.6" fill="#666"/><rect x="222.2" y="375.2" width="3.6" height="3.6" fill="#666"/><rect x="227.2" y="371.2" width="3.6" height="3.6" fill="#666"/><rect x="233.2" y="370.2" width="3.6" height="3.6" fill="#666"/>
<circle cx="54.0" cy="335.0" r="2.05" fill="#ff2a2a"/><circle cx="54.7" cy="335.6" r="2.05" fill="#ff2a2a"/><circle cx="55.4" cy="336.1" r="2.05" fill="#ff2a2a"/><circle cx="56.1" cy="336.7" r="2.05" fill="#ff2a2a"/><circle cx="56.9" cy="337.3" r="2.05" fill="#ff2a2a"/><circle cx="57.6" cy="337.9" r="2.05" fill="#ff2a2a"/><circle cx="58.3" cy="338.4" r="2.05" fill="#ff2a2a"/><circle cx="59.0" cy="339.0" r="2.05" fill="#ff2a2a"/><circle cx="59.5" cy="339.8" r="2.05" fill="#ff2a2a"/><circle cx="60.0" cy="340.6" r="2.05" fill="#ff2a2a"/><circle cx="60.5" cy="341.4" r="2.05" fill="#ff2a2a"/><circle cx="61.0" cy="342.1" r="2.05" fill="#ff2a2a"/><circle cx="61.5" cy="342.9" r="2.05" fill="#ff2a2a"/><circle cx="62.0" cy="343.7" r="2.05" fill="#ff2a2a"/><circle cx="62.5" cy="344.5" r="2.05" fill="#ff2a2a"/><circle cx="63.0" cy="345.3" r="2.05" fill="#ff2a2a"/><circle cx="63.5" cy="346.1" r="2.05" fill="#ff2a2a"/><circle cx="64.0" cy="346.9" r="2.05" fill="#ff2a2a"/><circle cx="64.5" cy="347.6" r="2.05" fill="#ff2a2a"/><circle cx="65.0" cy="348.4" r="2.05" fill="#ff2a2a"/><circle cx="65.5" cy="349.2" r="2.05" fill="#ff2a2a"/><circle cx="66.0" cy="350.0" r="2.05" fill="#ff2a2a"/>
<circle cx="65.0" cy="355.0" r="2.05" fill="#ff2a2a"/><circle cx="65.7" cy="355.7" r="2.05" fill="#ff2a2a"/><circle cx="66.3" cy="356.3" r="2.05" fill="#ff2a2a"/><circle cx="67.0" cy="357.0" r="2.05" fill="#ff2a2a"/><circle cx="67.7" cy="357.7" r="2.05" fill="#ff2a2a"/><circle cx="68.3" cy="358.3" r="2.05" fill="#ff2a2a"/><circle cx="69.0" cy="359.0" r="2.05" fill="#ff2a2a"/><circle cx="69.7" cy="359.7" r="2.05" fill="#ff2a2a"/><circle cx="70.3" cy="360.3" r="2.05" fill="#ff2a2a"/><circle cx="71.0" cy="361.0" r="2.05" fill="#ff2a2a"/><circle cx="71.7" cy="361.7" r="2.05" fill="#ff2a2a"/><circle cx="72.3" cy="362.3" r="2.05" fill="#ff2a2a"/><circle cx="73.0" cy="363.0" r="2.05" fill="#ff2a2a"/>
<circle cx="74.0" cy="367.0" r="2.05" fill="#ff2a2a"/><circle cx="74.8" cy="367.6" r="2.05" fill="#ff2a2a"/><circle cx="75.5" cy="368.2" r="2.05" fill="#ff2a2a"/><circle cx="76.2" cy="368.9" r="2.05" fill="#ff2a2a"/><circle cx="77.0" cy="369.5" r="2.05" fill="#ff2a2a"/><circle cx="77.8" cy="370.1" r="2.05" fill="#ff2a2a"/><circle cx="78.5" cy="370.8" r="2.05" fill="#ff2a2a"/><circle cx="79.2" cy="371.4" r="2.05" fill="#ff2a2a"/><circle cx="80.0" cy="372.0" r="2.05" fill="#ff2a2a"/>
<circle cx="83.0" cy="374.0" r="2.05" fill="#ff2a2a"/><circle cx="83.7" cy="374.5" r="2.05" fill="#ff2a2a"/><circle cx="84.5" cy="375.1" r="2.05" fill="#ff2a2a"/><circle cx="85.2" cy="375.6" r="2.05" fill="#ff2a2a"/><circle cx="85.9" cy="376.2" r="2.05" fill="#ff2a2a"/><circle cx="86.6" cy="376.7" r="2.05" fill="#ff2a2a"/><circle cx="87.4" cy="377.3" r="2.05" fill="#ff2a2a"/><circle cx="88.1" cy="377.8" r="2.05" fill="#ff2a2a"/><circle cx="88.8" cy="378.4" r="2.05" fill="#ff2a2a"/><circle cx="89.5" cy="378.9" r="2.05" fill="#ff2a2a"/><circle cx="90.3" cy="379.5" r="2.05" fill="#ff2a2a"/><circle cx="91.0" cy="380.0" r="2.05" fill="#ff2a2a"/>
<circle cx="89.0" cy="392.0" r="2.05" fill="#ff2a2a"/><circle cx="89.8" cy="391.5" r="2.05" fill="#ff2a2a"/><circle cx="90.6" cy="391.1" r="2.05" fill="#ff2a2a"/><circle cx="91.5" cy="390.6" r="2.05" fill="#ff2a2a"/><circle cx="92.3" cy="390.2" r="2.05" fill="#ff2a2a"/><circle cx="93.1" cy="389.7" r="2.05" fill="#ff2a2a"/><circle cx="93.9" cy="389.3" r="2.05" fill="#ff2a2a"/><circle cx="94.7" cy="388.8" r="2.05" fill="#ff2a2a"/><circle cx="95.5" cy="388.4" r="2.05" fill="#ff2a2a"/><circle cx="96.4" cy="387.9" r="2.05" fill="#ff2a2a"/><circle cx="97.2" cy="387.5" r="2.05" fill="#ff2a2a"/><circle cx="98.0" cy="387.0" r="2.05" fill="#ff2a2a"/><circle cx="98.9" cy="387.2" r="2.05" fill="#ff2a2a"/><circle cx="99.8" cy="387.4" r="2.05" fill="#ff2a2a"/><circle cx="100.7" cy="387.7" r="2.05" fill="#ff2a2a"/><circle cx="101.6" cy="387.9" r="2.05" fill="#ff2a2a"/><circle cx="102.4" cy="388.1" r="2.05" fill="#ff2a2a"/><circle cx="103.3" cy="388.3" r="2.05" fill="#ff2a2a"/><circle cx="104.2" cy="388.6" r="2.05" fill="#ff2a2a"/><circle cx="105.1" cy="388.8" r="2.05" fill="#ff2a2a"/><circle cx="106.0" cy="389.0" r="2.05" fill="#ff2a2a"/><circle cx="106.9" cy="389.4" r="2.05" fill="#ff2a2a"/><circle cx="107.8" cy="389.9" r="2.05" fill="#ff2a2a"/><circle cx="108.7" cy="390.3" r="2.05" fill="#ff2a2a"/><circle cx="109.6" cy="390.8" r="2.05" fill="#ff2a2a"/><circle cx="110.4" cy="391.2" r="2.05" fill="#ff2a2a"/><circle cx="111.3" cy="391.7" r="2.05" fill="#ff2a2a"/><circle cx="112.2" cy="392.1" r="2.05" fill="#ff2a2a"/><circle cx="113.1" cy="392.6" r="2.05" fill="#ff2a2a"/><circle cx="114.0" cy="393.0" r="2.05" fill="#ff2a2a"/><circle cx="114.9" cy="393.4" r="2.05" fill="#ff2a2a"/><circle cx="115.8" cy="393.9" r="2.05" fill="#ff2a2a"/><circle cx="116.7" cy="394.3" r="2.05" fill="#ff2a2a"/><circle cx="117.6" cy="394.8" r="2.05" fill="#ff2a2a"/><circle cx="118.4" cy="395.2" r="2.05" fill="#ff2a2a"/><circle cx="119.3" cy="395.7" r="2.05" fill="#ff2a2a"/><circle cx="120.2" cy="396.1" r="2.05" fill="#ff2a2a"/><circle cx="121.1" cy="396.6" r="2.05" fill="#ff2a2a"/><circle cx="122.0" cy="397.0" r="2.05" fill="#ff2a2a"/><circle cx="122.9" cy="397.2" r="2.05" fill="#ff2a2a"/><circle cx="123.8" cy="397.4" r="2.05" fill="#ff2a2a"/><circle cx="124.7" cy="397.7" r="2.05" fill="#ff2a2a"/><circle cx="125.6" cy="397.9" r="2.05" fill="#ff2a2a"/><circle cx="126.4" cy="398.1" r="2.05" fill="#ff2a2a"/><circle cx="127.3" cy="398.3" r="2.05" fill="#ff2a2a"/><circle cx="128.2" cy="398.6" r="2.05" fill="#ff2a2a"/><circle cx="129.1" cy="398.8" r="2.05" fill="#ff2a2a"/><circle cx="130.0" cy="399.0" r="2.05" fill="#ff2a2a"/><circle cx="130.9" cy="399.1" r="2.05" fill="#ff2a2a"/><circle cx="131.8" cy="399.2" r="2.05" fill="#ff2a2a"/><circle cx="132.7" cy="399.3" r="2.05" fill="#ff2a2a"/><circle cx="133.6" cy="399.4" r="2.05" fill="#ff2a2a"/><circle cx="134.5" cy="399.5" r="2.05" fill="#ff2a2a"/><circle cx="135.5" cy="399.5" r="2.05" fill="#ff2a2a"/><circle cx="136.4" cy="399.6" r="2.05" fill="#ff2a2a"/><circle cx="137.3" cy="399.7" r="2.05" fill="#ff2a2a"/><circle cx="138.2" cy="399.8" r="2.05" fill="#ff2a2a"/><circle cx="139.1" cy="399.9" r="2.05" fill="#ff2a2a"/><circle cx="140.0" cy="400.0" r="2.05" fill="#ff2a2a"/><circle cx="140.9" cy="399.8" r="2.05" fill="#ff2a2a"/><circle cx="141.8" cy="399.6" r="2.05" fill="#ff2a2a"/><circle cx="142.7" cy="399.5" r="2.05" fill="#ff2a2a"/><circle cx="143.6" cy="399.3" r="2.05" fill="#ff2a2a"/><circle cx="144.5" cy="399.1" r="2.05" fill="#ff2a2a"/><circle cx="145.5" cy="398.9" r="2.05" fill="#ff2a2a"/><circle cx="146.4" cy="398.7" r="2.05" fill="#ff2a2a"/><circle cx="147.3" cy="398.5" r="2.05" fill="#ff2a2a"/><circle cx="148.2" cy="398.4" r="2.05" fill="#ff2a2a"/><circle cx="149.1" cy="398.2" r="2.05" fill="#ff2a2a"/><circle cx="150.0" cy="398.0" r="2.05" fill="#ff2a2a"/><circle cx="150.9" cy="397.6" r="2.05" fill="#ff2a2a"/><circle cx="151.8" cy="397.1" r="2.05" fill="#ff2a2a"/><circle cx="152.7" cy="396.7" r="2.05" fill="#ff2a2a"/><circle cx="153.6" cy="396.2" r="2.05" fill="#ff2a2a"/><circle cx="154.4" cy="395.8" r="2.05" fill="#ff2a2a"/><circle cx="155.3" cy="395.3" r="2.05" fill="#ff2a2a"/><circle cx="156.2" cy="394.9" r="2.05" fill="#ff2a2a"/><circle cx="157.1" cy="394.4" r="2.05" fill="#ff2a2a"/><circle cx="158.0" cy="394.0" r="2.05" fill="#ff2a2a"/>
<circle cx="158.0" cy="333.0" r="2.05" fill="#ff2a2a"/><circle cx="158.7" cy="333.7" r="2.05" fill="#ff2a2a"/><circle cx="159.4" cy="334.4" r="2.05" fill="#ff2a2a"/><circle cx="160.1" cy="335.1" r="2.05" fill="#ff2a2a"/><circle cx="160.8" cy="335.8" r="2.05" fill="#ff2a2a"/><circle cx="161.5" cy="336.5" r="2.05" fill="#ff2a2a"/><circle cx="162.2" cy="337.2" r="2.05" fill="#ff2a2a"/><circle cx="162.9" cy="337.9" r="2.05" fill="#ff2a2a"/><circle cx="163.6" cy="338.6" r="2.05" fill="#ff2a2a"/><circle cx="164.3" cy="339.3" r="2.05" fill="#ff2a2a"/><circle cx="165.0" cy="340.0" r="2.05" fill="#ff2a2a"/><circle cx="165.7" cy="340.7" r="2.05" fill="#ff2a2a"/><circle cx="166.4" cy="341.4" r="2.05" fill="#ff2a2a"/><circle cx="167.1" cy="342.1" r="2.05" fill="#ff2a2a"/><circle cx="167.8" cy="342.8" r="2.05" fill="#ff2a2a"/><circle cx="168.5" cy="343.5" r="2.05" fill="#ff2a2a"/><circle cx="169.2" cy="344.2" r="2.05" fill="#ff2a2a"/><circle cx="169.9" cy="344.9" r="2.05" fill="#ff2a2a"/><circle cx="170.6" cy="345.6" r="2.05" fill="#ff2a2a"/><circle cx="171.3" cy="346.3" r="2.05" fill="#ff2a2a"/><circle cx="172.0" cy="347.0" r="2.05" fill="#ff2a2a"/><circle cx="172.5" cy="347.8" r="2.05" fill="#ff2a2a"/><circle cx="173.0" cy="348.6" r="2.05" fill="#ff2a2a"/><circle cx="173.5" cy="349.4" r="2.05" fill="#ff2a2a"/><circle cx="174.0" cy="350.2" r="2.05" fill="#ff2a2a"/><circle cx="174.5" cy="351.0" r="2.05" fill="#ff2a2a"/><circle cx="175.0" cy="351.8" r="2.05" fill="#ff2a2a"/><circle cx="175.5" cy="352.6" r="2.05" fill="#ff2a2a"/><circle cx="176.0" cy="353.4" r="2.05" fill="#ff2a2a"/><circle cx="176.5" cy="354.2" r="2.05" fill="#ff2a2a"/><circle cx="177.0" cy="355.0" r="2.05" fill="#ff2a2a"/><circle cx="177.5" cy="355.8" r="2.05" fill="#ff2a2a"/><circle cx="178.0" cy="356.6" r="2.05" fill="#ff2a2a"/><circle cx="178.5" cy="357.4" r="2.05" fill="#ff2a2a"/><circle cx="179.0" cy="358.2" r="2.05" fill="#ff2a2a"/><circle cx="179.5" cy="359.0" r="2.05" fill="#ff2a2a"/><circle cx="180.0" cy="359.8" r="2.05" fill="#ff2a2a"/><circle cx="180.5" cy="360.6" r="2.05" fill="#ff2a2a"/><circle cx="181.0" cy="361.4" r="2.05" fill="#ff2a2a"/><circle cx="181.5" cy="362.2" r="2.05" fill="#ff2a2a"/><circle cx="182.0" cy="363.0" r="2.05" fill="#ff2a2a"/>
<circle cx="183.0" cy="371.0" r="2.05" fill="#ff2a2a"/><circle cx="183.5" cy="371.8" r="2.05" fill="#ff2a2a"/><circle cx="183.9" cy="372.6" r="2.05" fill="#ff2a2a"/><circle cx="184.4" cy="373.5" r="2.05" fill="#ff2a2a"/><circle cx="184.8" cy="374.3" r="2.05" fill="#ff2a2a"/><circle cx="185.3" cy="375.1" r="2.05" fill="#ff2a2a"/><circle cx="185.7" cy="375.9" r="2.05" fill="#ff2a2a"/><circle cx="186.2" cy="376.7" r="2.05" fill="#ff2a2a"/><circle cx="186.6" cy="377.5" r="2.05" fill="#ff2a2a"/><circle cx="187.1" cy="378.4" r="2.05" fill="#ff2a2a"/><circle cx="187.5" cy="379.2" r="2.05" fill="#ff2a2a"/><circle cx="188.0" cy="380.0" r="2.05" fill="#ff2a2a"/><circle cx="188.6" cy="380.7" r="2.05" fill="#ff2a2a"/><circle cx="189.2" cy="381.4" r="2.05" fill="#ff2a2a"/><circle cx="189.8" cy="382.1" r="2.05" fill="#ff2a2a"/><circle cx="190.4" cy="382.8" r="2.05" fill="#ff2a2a"/><circle cx="191.0" cy="383.5" r="2.05" fill="#ff2a2a"/><circle cx="191.6" cy="384.2" r="2.05" fill="#ff2a2a"/><circle cx="192.2" cy="384.9" r="2.05" fill="#ff2a2a"/><circle cx="192.8" cy="385.6" r="2.05" fill="#ff2a2a"/><circle cx="193.4" cy="386.3" r="2.05" fill="#ff2a2a"/><circle cx="194.0" cy="387.0" r="2.05" fill="#ff2a2a"/><circle cx="194.4" cy="386.1" r="2.05" fill="#ff2a2a"/><circle cx="194.9" cy="385.3" r="2.05" fill="#ff2a2a"/><circle cx="195.3" cy="384.4" r="2.05" fill="#ff2a2a"/><circle cx="195.7" cy="383.6" r="2.05" fill="#ff2a2a"/><circle cx="196.1" cy="382.7" r="2.05" fill="#ff2a2a"/><circle cx="196.6" cy="381.9" r="2.05" fill="#ff2a2a"/><circle cx="197.0" cy="381.0" r="2.05" fill="#ff2a2a"/><circle cx="197.4" cy="380.1" r="2.05" fill="#ff2a2a"/><circle cx="197.9" cy="379.3" r="2.05" fill="#ff2a2a"/><circle cx="198.3" cy="378.4" r="2.05" fill="#ff2a2a"/><circle cx="198.7" cy="377.6" r="2.05" fill="#ff2a2a"/><circle cx="199.1" cy="376.7" r="2.05" fill="#ff2a2a"/><circle cx="199.6" cy="375.9" r="2.05" fill="#ff2a2a"/><circle cx="200.0" cy="375.0" r="2.05" fill="#ff2a2a"/><circle cx="200.4" cy="374.1" r="2.05" fill="#ff2a2a"/><circle cx="200.9" cy="373.3" r="2.05" fill="#ff2a2a"/><circle cx="201.3" cy="372.4" r="2.05" fill="#ff2a2a"/><circle cx="201.7" cy="371.6" r="2.05" fill="#ff2a2a"/><circle cx="202.1" cy="370.7" r="2.05" fill="#ff2a2a"/><circle cx="202.6" cy="369.9" r="2.05" fill="#ff2a2a"/><circle cx="203.0" cy="369.0" r="2.05" fill="#ff2a2a"/><circle cx="203.4" cy="368.1" r="2.05" fill="#ff2a2a"/><circle cx="203.9" cy="367.3" r="2.05" fill="#ff2a2a"/><circle cx="204.3" cy="366.4" r="2.05" fill="#ff2a2a"/><circle cx="204.7" cy="365.6" r="2.05" fill="#ff2a2a"/><circle cx="205.1" cy="364.7" r="2.05" fill="#ff2a2a"/><circle cx="205.6" cy="363.9" r="2.05" fill="#ff2a2a"/><circle cx="206.0" cy="363.0" r="2.05" fill="#ff2a2a"/><circle cx="206.5" cy="362.2" r="2.05" fill="#ff2a2a"/><circle cx="207.1" cy="361.5" r="2.05" fill="#ff2a2a"/><circle cx="207.6" cy="360.7" r="2.05" fill="#ff2a2a"/><circle cx="208.1" cy="359.9" r="2.05" fill="#ff2a2a"/><circle cx="208.6" cy="359.2" r="2.05" fill="#ff2a2a"/><circle cx="209.2" cy="358.4" r="2.05" fill="#ff2a2a"/><circle cx="209.7" cy="357.6" r="2.05" fill="#ff2a2a"/><circle cx="210.2" cy="356.9" r="2.05" fill="#ff2a2a"/><circle cx="210.8" cy="356.1" r="2.05" fill="#ff2a2a"/><circle cx="211.3" cy="355.4" r="2.05" fill="#ff2a2a"/><circle cx="211.8" cy="354.6" r="2.05" fill="#ff2a2a"/><circle cx="212.4" cy="353.8" r="2.05" fill="#ff2a2a"/><circle cx="212.9" cy="353.1" r="2.05" fill="#ff2a2a"/><circle cx="213.4" cy="352.3" r="2.05" fill="#ff2a2a"/><circle cx="213.9" cy="351.5" r="2.05" fill="#ff2a2a"/><circle cx="214.5" cy="350.8" r="2.05" fill="#ff2a2a"/><circle cx="215.0" cy="350.0" r="2.05" fill="#ff2a2a"/><circle cx="215.5" cy="349.2" r="2.05" fill="#ff2a2a"/><circle cx="216.0" cy="348.5" r="2.05" fill="#ff2a2a"/><circle cx="216.5" cy="347.8" r="2.05" fill="#ff2a2a"/><circle cx="217.0" cy="347.0" r="2.05" fill="#ff2a2a"/><circle cx="217.5" cy="346.2" r="2.05" fill="#ff2a2a"/><circle cx="218.0" cy="345.5" r="2.05" fill="#ff2a2a"/><circle cx="218.5" cy="344.8" r="2.05" fill="#ff2a2a"/><circle cx="219.0" cy="344.0" r="2.05" fill="#ff2a2a"/><circle cx="219.5" cy="343.2" r="2.05" fill="#ff2a2a"/><circle cx="220.0" cy="342.5" r="2.05" fill="#ff2a2a"/><circle cx="220.5" cy="341.8" r="2.05" fill="#ff2a2a"/><circle cx="221.0" cy="341.0" r="2.05" fill="#ff2a2a"/><circle cx="221.5" cy="340.2" r="2.05" fill="#ff2a2a"/><circle cx="222.0" cy="339.5" r="2.05" fill="#ff2a2a"/><circle cx="222.5" cy="338.8" r="2.05" fill="#ff2a2a"/><circle cx="223.0" cy="338.0" r="2.05" fill="#ff2a2a"/><circle cx="223.5" cy="337.2" r="2.05" fill="#ff2a2a"/><circle cx="224.0" cy="336.5" r="2.05" fill="#ff2a2a"/><circle cx="224.5" cy="335.8" r="2.05" fill="#ff2a2a"/><circle cx="225.0" cy="335.0" r="2.05" fill="#ff2a2a"/><circle cx="225.5" cy="334.2" r="2.05" fill="#ff2a2a"/><circle cx="226.0" cy="333.5" r="2.05" fill="#ff2a2a"/><circle cx="226.5" cy="332.8" r="2.05" fill="#ff2a2a"/><circle cx="227.0" cy="332.0" r="2.05" fill="#ff2a2a"/><circle cx="227.5" cy="331.2" r="2.05" fill="#ff2a2a"/><circle cx="228.0" cy="330.5" r="2.05" fill="#ff2a2a"/><circle cx="228.5" cy="329.8" r="2.05" fill="#ff2a2a"/><circle cx="229.0" cy="329.0" r="2.05" fill="#ff2a2a"/><circle cx="229.5" cy="328.2" r="2.05" fill="#ff2a2a"/><circle cx="230.0" cy="327.5" r="2.05" fill="#ff2a2a"/><circle cx="230.5" cy="326.8" r="2.05" fill="#ff2a2a"/><circle cx="231.0" cy="326.0" r="2.05" fill="#ff2a2a"/><circle cx="231.3" cy="325.1" r="2.05" fill="#ff2a2a"/><circle cx="231.6" cy="324.2" r="2.05" fill="#ff2a2a"/><circle cx="231.9" cy="323.3" r="2.05" fill="#ff2a2a"/><circle cx="232.2" cy="322.4" r="2.05" fill="#ff2a2a"/><circle cx="232.5" cy="321.5" r="2.05" fill="#ff2a2a"/><circle cx="232.8" cy="320.6" r="2.05" fill="#ff2a2a"/><circle cx="233.1" cy="319.7" r="2.05" fill="#ff2a2a"/><circle cx="233.4" cy="318.8" r="2.05" fill="#ff2a2a"/><circle cx="233.7" cy="317.9" r="2.05" fill="#ff2a2a"/><circle cx="234.0" cy="317.0" r="2.05" fill="#ff2a2a"/>
<circle cx="236.5" cy="307.0" r="2.05" fill="#ff2a2a"/><circle cx="237.0" cy="306.2" r="2.05" fill="#ff2a2a"/><circle cx="237.5" cy="305.4" r="2.05" fill="#ff2a2a"/><circle cx="238.0" cy="304.6" r="2.05" fill="#ff2a2a"/><circle cx="238.5" cy="303.8" r="2.05" fill="#ff2a2a"/><circle cx="239.0" cy="303.0" r="2.05" fill="#ff2a2a"/>
<circle cx="226.0" cy="341.0" r="2.1" fill="#ff2a2a"/>
<path d="M56.0 383.3L58.6 387.8H53.4Z" fill="#1565dc"/><path d="M56.2 382.4L58.8 386.9H53.6Z" fill="#1565dc"/><path d="M56.4 381.5L59.0 386.0H53.8Z" fill="#1565dc"/><path d="M56.7 380.6L59.3 385.1H54.1Z" fill="#1565dc"/><path d="M56.9 379.7L59.5 384.2H54.3Z" fill="#1565dc"/><path d="M57.1 378.9L59.7 383.4H54.5Z" fill="#1565dc"/><path d="M57.3 378.0L59.9 382.5H54.7Z" fill="#1565dc"/><path d="M57.6 377.1L60.2 381.6H55.0Z" fill="#1565dc"/><path d="M57.8 376.2L60.4 380.7H55.2Z" fill="#1565dc"/><path d="M58.0 375.3L60.6 379.8H55.4Z" fill="#1565dc"/><path d="M58.3 376.2L60.9 380.7H55.7Z" fill="#1565dc"/><path d="M58.6 377.0L61.2 381.5H56.0Z" fill="#1565dc"/><path d="M58.9 377.9L61.5 382.4H56.3Z" fill="#1565dc"/><path d="M59.1 378.7L61.7 383.2H56.5Z" fill="#1565dc"/><path d="M59.4 379.6L62.0 384.1H56.8Z" fill="#1565dc"/><path d="M59.7 380.4L62.3 384.9H57.1Z" fill="#1565dc"/><path d="M60.0 381.3L62.6 385.8H57.4Z" fill="#1565dc"/><path d="M60.5 380.3L63.1 384.8H57.9Z" fill="#1565dc"/><path d="M61.0 379.3L63.6 383.8H58.4Z" fill="#1565dc"/><path d="M61.5 378.3L64.1 382.8H58.9Z" fill="#1565dc"/><path d="M62.0 377.3L64.6 381.8H59.4Z" fill="#1565dc"/><path d="M62.3 376.4L64.9 380.9H59.7Z" fill="#1565dc"/><path d="M62.7 375.5L65.3 380.0H60.1Z" fill="#1565dc"/><path d="M63.0 374.6L65.6 379.1H60.4Z" fill="#1565dc"/><path d="M63.3 373.7L65.9 378.2H60.7Z" fill="#1565dc"/><path d="M63.7 372.9L66.3 377.4H61.1Z" fill="#1565dc"/><path d="M64.0 372.0L66.6 376.5H61.4Z" fill="#1565dc"/><path d="M64.3 371.1L66.9 375.6H61.7Z" fill="#1565dc"/><path d="M64.7 370.2L67.3 374.7H62.1Z" fill="#1565dc"/><path d="M65.0 369.3L67.6 373.8H62.4Z" fill="#1565dc"/><path d="M65.3 370.2L67.9 374.7H62.7Z" fill="#1565dc"/><path d="M65.7 371.1L68.3 375.6H63.1Z" fill="#1565dc"/><path d="M66.0 372.0L68.6 376.5H63.4Z" fill="#1565dc"/><path d="M66.3 372.9L68.9 377.4H63.7Z" fill="#1565dc"/><path d="M66.7 373.7L69.3 378.2H64.1Z" fill="#1565dc"/><path d="M67.0 374.6L69.6 379.1H64.4Z" fill="#1565dc"/><path d="M67.3 375.5L69.9 380.0H64.7Z" fill="#1565dc"/><path d="M67.7 376.4L70.3 380.9H65.1Z" fill="#1565dc"/><path d="M68.0 377.3L70.6 381.8H65.4Z" fill="#1565dc"/><path d="M68.2 376.4L70.8 380.9H65.6Z" fill="#1565dc"/><path d="M68.4 375.5L71.0 380.0H65.8Z" fill="#1565dc"/><path d="M68.7 374.6L71.3 379.1H66.1Z" fill="#1565dc"/><path d="M68.9 373.7L71.5 378.2H66.3Z" fill="#1565dc"/><path d="M69.1 372.9L71.7 377.4H66.5Z" fill="#1565dc"/><path d="M69.3 372.0L71.9 376.5H66.7Z" fill="#1565dc"/><path d="M69.6 371.1L72.2 375.6H67.0Z" fill="#1565dc"/><path d="M69.8 370.2L72.4 374.7H67.2Z" fill="#1565dc"/><path d="M70.0 369.3L72.6 373.8H67.4Z" fill="#1565dc"/><path d="M71.0 369.1L73.6 373.6H68.4Z" fill="#1565dc"/><path d="M72.0 368.8L74.6 373.3H69.4Z" fill="#1565dc"/><path d="M73.0 368.6L75.6 373.1H70.4Z" fill="#1565dc"/><path d="M74.0 368.3L76.6 372.8H71.4Z" fill="#1565dc"/><path d="M74.8 367.7L77.3 372.2H72.2Z" fill="#1565dc"/><path d="M75.5 367.1L78.1 371.6H72.9Z" fill="#1565dc"/><path d="M76.2 366.4L78.8 370.9H73.7Z" fill="#1565dc"/><path d="M77.0 365.8L79.6 370.3H74.4Z" fill="#1565dc"/><path d="M77.8 365.2L80.3 369.7H75.2Z" fill="#1565dc"/><path d="M78.5 364.6L81.1 369.1H75.9Z" fill="#1565dc"/><path d="M79.2 363.9L81.8 368.4H76.7Z" fill="#1565dc"/><path d="M80.0 363.3L82.6 367.8H77.4Z" fill="#1565dc"/><path d="M80.8 362.8L83.4 367.3H78.2Z" fill="#1565dc"/><path d="M81.7 362.3L84.3 366.8H79.1Z" fill="#1565dc"/><path d="M82.5 361.8L85.1 366.3H79.9Z" fill="#1565dc"/><path d="M83.3 361.3L85.9 365.8H80.7Z" fill="#1565dc"/><path d="M84.2 360.8L86.8 365.3H81.6Z" fill="#1565dc"/><path d="M85.0 360.3L87.6 364.8H82.4Z" fill="#1565dc"/><path d="M85.8 359.8L88.4 364.3H83.2Z" fill="#1565dc"/><path d="M86.7 359.3L89.3 363.8H84.1Z" fill="#1565dc"/><path d="M87.5 358.8L90.1 363.3H84.9Z" fill="#1565dc"/><path d="M88.3 358.3L90.9 362.8H85.7Z" fill="#1565dc"/><path d="M89.2 357.8L91.8 362.3H86.6Z" fill="#1565dc"/><path d="M90.0 357.3L92.6 361.8H87.4Z" fill="#1565dc"/><path d="M90.8 356.8L93.3 361.3H88.2Z" fill="#1565dc"/><path d="M91.5 356.3L94.1 360.8H88.9Z" fill="#1565dc"/><path d="M92.2 355.8L94.8 360.3H89.7Z" fill="#1565dc"/><path d="M93.0 355.3L95.6 359.8H90.4Z" fill="#1565dc"/><path d="M93.8 354.8L96.3 359.3H91.2Z" fill="#1565dc"/><path d="M94.5 354.3L97.1 358.8H91.9Z" fill="#1565dc"/><path d="M95.2 353.8L97.8 358.3H92.7Z" fill="#1565dc"/><path d="M96.0 353.3L98.6 357.8H93.4Z" fill="#1565dc"/><path d="M96.8 352.8L99.3 357.3H94.2Z" fill="#1565dc"/><path d="M97.5 352.3L100.1 356.8H94.9Z" fill="#1565dc"/><path d="M98.2 351.8L100.8 356.3H95.7Z" fill="#1565dc"/><path d="M99.0 351.3L101.6 355.8H96.4Z" fill="#1565dc"/><path d="M99.8 350.8L102.3 355.3H97.2Z" fill="#1565dc"/><path d="M100.5 350.3L103.1 354.8H97.9Z" fill="#1565dc"/><path d="M101.2 349.8L103.8 354.3H98.7Z" fill="#1565dc"/><path d="M102.0 349.3L104.6 353.8H99.4Z" fill="#1565dc"/>
<path d="M100.0 342.3L102.6 346.8H97.4Z" fill="#1565dc"/><path d="M100.8 341.8L103.4 346.3H98.2Z" fill="#1565dc"/><path d="M101.6 341.3L104.2 345.8H99.0Z" fill="#1565dc"/><path d="M102.4 340.8L105.0 345.3H99.8Z" fill="#1565dc"/><path d="M103.2 340.3L105.8 344.8H100.6Z" fill="#1565dc"/><path d="M104.0 339.8L106.6 344.3H101.4Z" fill="#1565dc"/><path d="M104.8 339.3L107.4 343.8H102.2Z" fill="#1565dc"/><path d="M105.6 338.8L108.2 343.3H103.0Z" fill="#1565dc"/><path d="M106.4 338.3L109.0 342.8H103.8Z" fill="#1565dc"/><path d="M107.2 337.8L109.8 342.3H104.6Z" fill="#1565dc"/><path d="M108.0 337.3L110.6 341.8H105.4Z" fill="#1565dc"/><path d="M108.8 336.7L111.4 341.2H106.2Z" fill="#1565dc"/><path d="M109.5 336.1L112.1 340.6H106.9Z" fill="#1565dc"/><path d="M110.3 335.5L112.9 340.0H107.7Z" fill="#1565dc"/><path d="M111.1 334.9L113.7 339.4H108.5Z" fill="#1565dc"/><path d="M111.9 334.3L114.5 338.8H109.3Z" fill="#1565dc"/><path d="M112.6 333.8L115.2 338.3H110.0Z" fill="#1565dc"/><path d="M113.4 333.2L116.0 337.7H110.8Z" fill="#1565dc"/><path d="M114.2 332.6L116.8 337.1H111.6Z" fill="#1565dc"/><path d="M115.0 332.0L117.6 336.5H112.4Z" fill="#1565dc"/><path d="M115.7 331.4L118.3 335.9H113.1Z" fill="#1565dc"/><path d="M116.5 330.8L119.1 335.3H113.9Z" fill="#1565dc"/>
<path d="M116.0 315.3L118.6 319.8H113.4Z" fill="#1565dc"/><path d="M116.5 316.1L119.1 320.6H113.9Z" fill="#1565dc"/><path d="M116.9 316.9L119.5 321.4H114.3Z" fill="#1565dc"/><path d="M117.4 317.8L120.0 322.3H114.8Z" fill="#1565dc"/><path d="M117.8 318.6L120.4 323.1H115.2Z" fill="#1565dc"/><path d="M118.3 319.4L120.9 323.9H115.7Z" fill="#1565dc"/><path d="M118.7 320.2L121.3 324.7H116.1Z" fill="#1565dc"/><path d="M119.2 321.0L121.8 325.5H116.6Z" fill="#1565dc"/><path d="M119.6 321.8L122.2 326.3H117.0Z" fill="#1565dc"/><path d="M120.1 322.7L122.7 327.2H117.5Z" fill="#1565dc"/><path d="M120.5 323.5L123.1 328.0H117.9Z" fill="#1565dc"/><path d="M121.0 324.3L123.6 328.8H118.4Z" fill="#1565dc"/><path d="M121.4 325.1L124.0 329.6H118.8Z" fill="#1565dc"/><path d="M121.8 326.0L124.4 330.5H119.2Z" fill="#1565dc"/><path d="M122.2 326.8L124.8 331.3H119.6Z" fill="#1565dc"/><path d="M122.6 327.6L125.2 332.1H120.0Z" fill="#1565dc"/><path d="M122.9 328.5L125.5 333.0H120.3Z" fill="#1565dc"/><path d="M123.3 329.3L125.9 333.8H120.7Z" fill="#1565dc"/><path d="M123.7 330.1L126.3 334.6H121.1Z" fill="#1565dc"/><path d="M124.1 331.0L126.7 335.5H121.5Z" fill="#1565dc"/><path d="M124.5 331.8L127.1 336.3H121.9Z" fill="#1565dc"/>
<path d="M126.5 335.3L129.1 339.8H123.9Z" fill="#1565dc"/><path d="M127.4 335.7L130.0 340.2H124.8Z" fill="#1565dc"/><path d="M128.2 336.1L130.8 340.6H125.7Z" fill="#1565dc"/><path d="M129.1 336.4L131.7 340.9H126.5Z" fill="#1565dc"/><path d="M130.0 336.8L132.6 341.3H127.4Z" fill="#1565dc"/><path d="M131.0 337.2L133.6 341.7H128.4Z" fill="#1565dc"/><path d="M132.0 337.6L134.6 342.1H129.4Z" fill="#1565dc"/><path d="M133.0 338.0L135.6 342.5H130.4Z" fill="#1565dc"/><path d="M134.0 338.4L136.6 342.9H131.4Z" fill="#1565dc"/><path d="M135.0 338.8L137.6 343.3H132.4Z" fill="#1565dc"/>
<path d="M134.0 345.3L136.6 349.8H131.4Z" fill="#1565dc"/><path d="M135.0 345.1L137.6 349.6H132.4Z" fill="#1565dc"/><path d="M136.0 344.8L138.6 349.3H133.4Z" fill="#1565dc"/><path d="M137.0 344.6L139.6 349.1H134.4Z" fill="#1565dc"/><path d="M138.0 344.3L140.6 348.8H135.4Z" fill="#1565dc"/><path d="M139.0 344.1L141.6 348.6H136.4Z" fill="#1565dc"/><path d="M140.0 343.8L142.6 348.3H137.4Z" fill="#1565dc"/><path d="M141.0 343.6L143.6 348.1H138.4Z" fill="#1565dc"/><path d="M142.0 343.3L144.6 347.8H139.4Z" fill="#1565dc"/><path d="M142.4 342.4L145.0 346.9H139.8Z" fill="#1565dc"/><path d="M142.9 341.5L145.5 346.0H140.3Z" fill="#1565dc"/><path d="M143.3 340.6L145.9 345.1H140.7Z" fill="#1565dc"/><path d="M143.8 339.7L146.4 344.2H141.2Z" fill="#1565dc"/><path d="M144.2 338.9L146.8 343.4H141.6Z" fill="#1565dc"/><path d="M144.7 338.0L147.3 342.5H142.1Z" fill="#1565dc"/><path d="M145.1 337.1L147.7 341.6H142.5Z" fill="#1565dc"/><path d="M145.6 336.2L148.2 340.7H143.0Z" fill="#1565dc"/><path d="M146.0 335.3L148.6 339.8H143.4Z" fill="#1565dc"/><path d="M146.4 334.4L149.0 338.9H143.8Z" fill="#1565dc"/><path d="M146.7 333.5L149.3 338.0H144.1Z" fill="#1565dc"/><path d="M147.1 332.6L149.7 337.1H144.5Z" fill="#1565dc"/><path d="M147.5 331.7L150.1 336.2H144.9Z" fill="#1565dc"/><path d="M147.8 330.8L150.4 335.3H145.2Z" fill="#1565dc"/><path d="M148.2 329.8L150.8 334.3H145.6Z" fill="#1565dc"/><path d="M148.5 328.9L151.1 333.4H145.9Z" fill="#1565dc"/><path d="M148.9 328.0L151.5 332.5H146.3Z" fill="#1565dc"/><path d="M149.3 327.1L151.9 331.6H146.7Z" fill="#1565dc"/><path d="M149.6 326.2L152.2 330.7H147.0Z" fill="#1565dc"/><path d="M150.0 325.3L152.6 329.8H147.4Z" fill="#1565dc"/><path d="M150.4 324.5L153.0 329.0H147.8Z" fill="#1565dc"/><path d="M150.8 323.6L153.4 328.1H148.2Z" fill="#1565dc"/><path d="M151.2 322.8L153.8 327.3H148.7Z" fill="#1565dc"/><path d="M151.7 322.0L154.3 326.5H149.1Z" fill="#1565dc"/><path d="M152.1 321.1L154.7 325.6H149.5Z" fill="#1565dc"/><path d="M152.5 320.3L155.1 324.8H149.9Z" fill="#1565dc"/><path d="M152.9 319.5L155.5 324.0H150.3Z" fill="#1565dc"/><path d="M153.3 318.6L155.9 323.1H150.7Z" fill="#1565dc"/><path d="M153.8 317.8L156.3 322.3H151.2Z" fill="#1565dc"/><path d="M154.2 317.0L156.8 321.5H151.6Z" fill="#1565dc"/><path d="M154.6 316.1L157.2 320.6H152.0Z" fill="#1565dc"/><path d="M155.0 315.3L157.6 319.8H152.4Z" fill="#1565dc"/><path d="M155.5 314.5L158.1 319.0H152.9Z" fill="#1565dc"/><path d="M156.0 313.7L158.6 318.2H153.4Z" fill="#1565dc"/><path d="M156.5 312.9L159.1 317.4H153.9Z" fill="#1565dc"/><path d="M157.0 312.1L159.6 316.6H154.4Z" fill="#1565dc"/><path d="M157.5 311.3L160.1 315.8H154.9Z" fill="#1565dc"/><path d="M158.0 310.5L160.6 315.0H155.4Z" fill="#1565dc"/><path d="M158.5 309.7L161.1 314.2H155.9Z" fill="#1565dc"/><path d="M159.0 308.9L161.6 313.4H156.4Z" fill="#1565dc"/><path d="M159.5 308.1L162.1 312.6H156.9Z" fill="#1565dc"/><path d="M160.0 307.3L162.6 311.8H157.4Z" fill="#1565dc"/><path d="M160.9 307.1L163.5 311.6H158.3Z" fill="#1565dc"/><path d="M161.8 306.8L164.3 311.3H159.2Z" fill="#1565dc"/><path d="M162.6 306.6L165.2 311.1H160.0Z" fill="#1565dc"/><path d="M163.5 306.3L166.1 310.8H160.9Z" fill="#1565dc"/><path d="M164.4 306.1L167.0 310.6H161.8Z" fill="#1565dc"/><path d="M165.2 305.8L167.8 310.3H162.7Z" fill="#1565dc"/><path d="M166.1 305.6L168.7 310.1H163.5Z" fill="#1565dc"/><path d="M167.0 305.3L169.6 309.8H164.4Z" fill="#1565dc"/><path d="M167.9 305.1L170.5 309.6H165.3Z" fill="#1565dc"/><path d="M168.8 304.9L171.4 309.4H166.2Z" fill="#1565dc"/><path d="M169.7 304.6L172.3 309.1H167.1Z" fill="#1565dc"/><path d="M170.6 304.4L173.2 308.9H168.0Z" fill="#1565dc"/><path d="M171.4 304.2L174.0 308.7H168.8Z" fill="#1565dc"/><path d="M172.3 304.0L174.9 308.5H169.7Z" fill="#1565dc"/><path d="M173.2 303.7L175.8 308.2H170.6Z" fill="#1565dc"/><path d="M174.1 303.5L176.7 308.0H171.5Z" fill="#1565dc"/><path d="M175.0 303.3L177.6 307.8H172.4Z" fill="#1565dc"/>
<path d="M173.0 335.3L175.6 339.8H170.4Z" fill="#1565dc"/><path d="M173.7 336.0L176.3 340.5H171.1Z" fill="#1565dc"/><path d="M174.4 336.7L177.0 341.2H171.8Z" fill="#1565dc"/><path d="M175.1 337.4L177.7 341.9H172.5Z" fill="#1565dc"/><path d="M175.8 338.1L178.4 342.6H173.2Z" fill="#1565dc"/><path d="M176.5 338.8L179.1 343.3H173.9Z" fill="#1565dc"/><path d="M177.2 339.5L179.8 344.0H174.6Z" fill="#1565dc"/><path d="M177.9 340.2L180.5 344.7H175.3Z" fill="#1565dc"/><path d="M178.6 340.9L181.2 345.4H176.0Z" fill="#1565dc"/><path d="M179.3 341.6L181.9 346.1H176.7Z" fill="#1565dc"/><path d="M180.0 342.3L182.6 346.8H177.4Z" fill="#1565dc"/>
<path d="M179.0 352.3L181.6 356.8H176.4Z" fill="#1565dc"/><path d="M179.8 352.8L182.4 357.3H177.2Z" fill="#1565dc"/><path d="M180.6 353.3L183.2 357.8H178.0Z" fill="#1565dc"/><path d="M181.4 353.8L184.0 358.3H178.8Z" fill="#1565dc"/><path d="M182.1 354.3L184.7 358.8H179.5Z" fill="#1565dc"/><path d="M182.9 354.8L185.5 359.3H180.3Z" fill="#1565dc"/><path d="M183.7 355.3L186.3 359.8H181.1Z" fill="#1565dc"/><path d="M184.5 355.8L187.1 360.3H181.9Z" fill="#1565dc"/><path d="M185.3 356.3L187.9 360.8H182.7Z" fill="#1565dc"/><path d="M186.1 356.8L188.7 361.3H183.5Z" fill="#1565dc"/><path d="M186.9 357.3L189.5 361.8H184.3Z" fill="#1565dc"/><path d="M187.6 357.8L190.2 362.3H185.0Z" fill="#1565dc"/><path d="M188.4 358.3L191.0 362.8H185.8Z" fill="#1565dc"/><path d="M189.2 358.8L191.8 363.3H186.6Z" fill="#1565dc"/><path d="M190.0 359.3L192.6 363.8H187.4Z" fill="#1565dc"/><path d="M190.8 359.8L193.4 364.3H188.2Z" fill="#1565dc"/><path d="M191.7 360.3L194.3 364.8H189.1Z" fill="#1565dc"/><path d="M192.5 360.8L195.1 365.3H189.9Z" fill="#1565dc"/><path d="M193.3 361.3L195.9 365.8H190.7Z" fill="#1565dc"/><path d="M194.2 361.8L196.8 366.3H191.6Z" fill="#1565dc"/><path d="M195.0 362.3L197.6 366.8H192.4Z" fill="#1565dc"/><path d="M195.8 362.8L198.4 367.3H193.2Z" fill="#1565dc"/><path d="M196.7 363.3L199.3 367.8H194.1Z" fill="#1565dc"/><path d="M197.5 363.8L200.1 368.3H194.9Z" fill="#1565dc"/><path d="M198.3 364.3L200.9 368.8H195.7Z" fill="#1565dc"/><path d="M199.2 364.8L201.8 369.3H196.6Z" fill="#1565dc"/><path d="M200.0 365.3L202.6 369.8H197.4Z" fill="#1565dc"/>
<path d="M198.0 359.3L200.6 363.8H195.4Z" fill="#1565dc"/><path d="M198.8 358.8L201.4 363.3H196.2Z" fill="#1565dc"/><path d="M199.7 358.3L202.3 362.8H197.1Z" fill="#1565dc"/><path d="M200.5 357.8L203.1 362.3H197.9Z" fill="#1565dc"/><path d="M201.3 357.3L203.9 361.8H198.7Z" fill="#1565dc"/><path d="M202.2 356.8L204.8 361.3H199.6Z" fill="#1565dc"/><path d="M203.0 356.3L205.6 360.8H200.4Z" fill="#1565dc"/><path d="M203.8 355.8L206.4 360.3H201.2Z" fill="#1565dc"/><path d="M204.7 355.3L207.3 359.8H202.1Z" fill="#1565dc"/><path d="M205.5 354.8L208.1 359.3H202.9Z" fill="#1565dc"/><path d="M206.3 354.3L208.9 358.8H203.7Z" fill="#1565dc"/><path d="M207.2 353.8L209.8 358.3H204.6Z" fill="#1565dc"/><path d="M208.0 353.3L210.6 357.8H205.4Z" fill="#1565dc"/>
<path d="M205.0 343.3L207.6 347.8H202.4Z" fill="#1565dc"/><path d="M205.8 342.8L208.3 347.3H203.2Z" fill="#1565dc"/><path d="M206.5 342.3L209.1 346.8H203.9Z" fill="#1565dc"/><path d="M207.2 341.8L209.8 346.3H204.7Z" fill="#1565dc"/><path d="M208.0 341.3L210.6 345.8H205.4Z" fill="#1565dc"/><path d="M208.8 340.8L211.3 345.3H206.2Z" fill="#1565dc"/><path d="M209.5 340.3L212.1 344.8H206.9Z" fill="#1565dc"/><path d="M210.2 339.8L212.8 344.3H207.7Z" fill="#1565dc"/><path d="M211.0 339.3L213.6 343.8H208.4Z" fill="#1565dc"/><path d="M211.8 338.8L214.3 343.3H209.2Z" fill="#1565dc"/><path d="M212.5 338.3L215.1 342.8H209.9Z" fill="#1565dc"/><path d="M213.2 337.8L215.8 342.3H210.7Z" fill="#1565dc"/><path d="M214.0 337.3L216.6 341.8H211.4Z" fill="#1565dc"/>
<path d="M212.0 327.3L214.6 331.8H209.4Z" fill="#1565dc"/><path d="M212.8 326.8L215.4 331.3H210.2Z" fill="#1565dc"/><path d="M213.7 326.3L216.3 330.8H211.1Z" fill="#1565dc"/><path d="M214.5 325.8L217.1 330.3H211.9Z" fill="#1565dc"/><path d="M215.3 325.3L217.9 329.8H212.7Z" fill="#1565dc"/><path d="M216.2 324.8L218.8 329.3H213.6Z" fill="#1565dc"/><path d="M217.0 324.3L219.6 328.8H214.4Z" fill="#1565dc"/><path d="M217.8 323.8L220.4 328.3H215.2Z" fill="#1565dc"/><path d="M218.7 323.3L221.3 327.8H216.1Z" fill="#1565dc"/><path d="M219.5 322.8L222.1 327.3H216.9Z" fill="#1565dc"/><path d="M220.3 322.3L222.9 326.8H217.7Z" fill="#1565dc"/><path d="M221.2 321.8L223.8 326.3H218.6Z" fill="#1565dc"/><path d="M222.0 321.3L224.6 325.8H219.4Z" fill="#1565dc"/>
<path d="M220.0 317.3L222.6 321.8H217.4Z" fill="#1565dc"/><path d="M220.7 316.6L223.3 321.1H218.1Z" fill="#1565dc"/><path d="M221.3 316.0L223.9 320.5H218.7Z" fill="#1565dc"/><path d="M222.0 315.3L224.6 319.8H219.4Z" fill="#1565dc"/><path d="M222.7 314.6L225.3 319.1H220.1Z" fill="#1565dc"/><path d="M223.3 314.0L225.9 318.5H220.7Z" fill="#1565dc"/><path d="M224.0 313.3L226.6 317.8H221.4Z" fill="#1565dc"/><path d="M224.5 314.1L227.1 318.6H221.9Z" fill="#1565dc"/><path d="M225.0 314.8L227.6 319.3H222.4Z" fill="#1565dc"/><path d="M225.5 315.6L228.1 320.1H222.9Z" fill="#1565dc"/><path d="M226.0 316.3L228.6 320.8H223.4Z" fill="#1565dc"/><path d="M226.5 317.1L229.1 321.6H223.9Z" fill="#1565dc"/><path d="M227.0 317.8L229.6 322.3H224.4Z" fill="#1565dc"/><path d="M227.5 318.6L230.1 323.1H224.9Z" fill="#1565dc"/><path d="M228.0 319.3L230.6 323.8H225.4Z" fill="#1565dc"/><path d="M228.5 320.1L231.1 324.6H225.9Z" fill="#1565dc"/><path d="M229.0 320.8L231.6 325.3H226.4Z" fill="#1565dc"/><path d="M229.5 321.6L232.1 326.1H226.9Z" fill="#1565dc"/><path d="M230.0 322.3L232.6 326.8H227.4Z" fill="#1565dc"/>
<path d="M228.0 332.3L230.6 336.8H225.4Z" fill="#1565dc"/><path d="M228.9 332.8L231.5 337.3H226.3Z" fill="#1565dc"/><path d="M229.8 333.3L232.3 337.8H227.2Z" fill="#1565dc"/><path d="M230.6 333.8L233.2 338.3H228.0Z" fill="#1565dc"/><path d="M231.5 334.3L234.1 338.8H228.9Z" fill="#1565dc"/><path d="M232.4 334.8L235.0 339.3H229.8Z" fill="#1565dc"/><path d="M233.2 335.3L235.8 339.8H230.7Z" fill="#1565dc"/><path d="M234.1 335.8L236.7 340.3H231.5Z" fill="#1565dc"/><path d="M235.0 336.3L237.6 340.8H232.4Z" fill="#1565dc"/><path d="M235.9 336.7L238.5 341.2H233.3Z" fill="#1565dc"/><path d="M236.7 337.2L239.3 341.7H234.1Z" fill="#1565dc"/><path d="M237.6 337.6L240.2 342.1H235.0Z" fill="#1565dc"/><path d="M238.4 338.0L241.0 342.5H235.8Z" fill="#1565dc"/><path d="M239.3 338.4L241.9 342.9H236.7Z" fill="#1565dc"/><path d="M240.1 338.9L242.7 343.4H237.5Z" fill="#1565dc"/><path d="M241.0 339.3L243.6 343.8H238.4Z" fill="#1565dc"/>
<path d="M55.0 394.3L57.6 398.8H52.4Z" fill="#1565dc"/><path d="M55.0 397.8L57.6 402.3H52.4Z" fill="#1565dc"/><path d="M55.0 401.3L57.6 405.8H52.4Z" fill="#1565dc"/><path d="M239.0 307.3L241.6 311.8H236.4Z" fill="#1565dc"/>
<path d="M36.2 284.15H259 M36.2 394.65H259" stroke="#ff7f0a" stroke-width="2.1"/>
<rect x="202.1" y="250.2" width="54.6" height="26" fill="#fff" stroke="#8a8a8a" stroke-width="0.8"/>
<rect x="209.2" y="253.6" width="3.5" height="3.5" fill="#666"/><circle cx="211.0" cy="263.5" r="2.2" fill="#ff2a2a"/><path d="M211.0 269.3L213.5 273.6H208.5Z" fill="#1565dc"/>
<text x="220.20" y="257.90" font-size="7.5" text-anchor="start" font-weight="normal" fill="#2a2a2a" textLength="29.5" lengthAdjust="spacingAndGlyphs">Q-learning</text>
<text x="220.20" y="266.10" font-size="7.5" text-anchor="start" font-weight="normal" fill="#2a2a2a" textLength="19.5" lengthAdjust="spacingAndGlyphs">DDQN</text>
<text x="220.20" y="274.30" font-size="7.5" text-anchor="start" font-weight="normal" fill="#2a2a2a" textLength="34.9" lengthAdjust="spacingAndGlyphs">PCA-DDQN</text>
<path d="M308.80 251.20V433.03H539.20" fill="none" stroke="#2e2e2e" stroke-width="1.4"/>
<text x="303.40" y="419.06" font-size="7.5" text-anchor="end" fill="#2a2a2a">0</text>
<text x="303.40" y="386.00" font-size="7.5" text-anchor="end" fill="#2a2a2a">1</text>
<text x="303.40" y="352.94" font-size="7.5" text-anchor="end" fill="#2a2a2a">2</text>
<text x="303.40" y="319.88" font-size="7.5" text-anchor="end" fill="#2a2a2a">3</text>
<text x="303.40" y="286.82" font-size="7.5" text-anchor="end" fill="#2a2a2a">4</text>
<text x="303.40" y="253.76" font-size="7.5" text-anchor="end" fill="#2a2a2a">5</text>
<text x="328.00" y="445.80" font-size="8.2" text-anchor="middle" fill="#2a2a2a">0</text>
<text x="366.40" y="445.80" font-size="8.2" text-anchor="middle" fill="#2a2a2a">100</text>
<text x="404.80" y="445.80" font-size="8.2" text-anchor="middle" fill="#2a2a2a">200</text>
<text x="443.20" y="445.80" font-size="8.2" text-anchor="middle" fill="#2a2a2a">300</text>
<text x="481.60" y="445.80" font-size="8.2" text-anchor="middle" fill="#2a2a2a">400</text>
<text x="520.00" y="445.80" font-size="8.2" text-anchor="middle" fill="#2a2a2a">500</text>
<path d="M308.80 433.03h-2.0 M308.80 416.50h-3.5 M308.80 399.97h-2.0 M308.80 383.44h-3.5 M308.80 366.91h-2.0 M308.80 350.38h-3.5 M308.80 333.85h-2.0 M308.80 317.32h-3.5 M308.80 300.79h-2.0 M308.80 284.26h-3.5 M308.80 267.73h-2.0 M308.80 251.20h-3.5 M308.80 433.03v2.0 M328.00 433.03v3.5 M347.20 433.03v2.0 M366.40 433.03v3.5 M385.60 433.03v2.0 M404.80 433.03v3.5 M424.00 433.03v2.0 M443.20 433.03v3.5 M462.40 433.03v2.0 M481.60 433.03v3.5 M500.80 433.03v2.0 M520.00 433.03v3.5 M539.20 433.03v2.0" stroke="#2e2e2e" stroke-width="1.1" fill="none"/>
<text x="293.40" y="342.60" font-size="10.1" text-anchor="middle" font-weight="normal" fill="#2a2a2a" transform="rotate(-90 293.40 342.60)" textLength="164.8" lengthAdjust="spacingAndGlyphs">Internal resistance difference(Ω)*0.0001</text>
<text x="424.10" y="456.90" font-size="10.4" text-anchor="middle" font-weight="normal" fill="#2a2a2a" textLength="32" lengthAdjust="spacingAndGlyphs">episode</text>
<text x="412.00" y="478.00" font-size="13.6" text-anchor="middle" font-weight="normal" fill="#111" textLength="16.3" lengthAdjust="spacingAndGlyphs">(<tspan font-weight='bold'>d</tspan>)</text>
<circle cx="328.0" cy="415.6" r="1.8" fill="#ff2a2a"/><circle cx="328.4" cy="416.0" r="1.8" fill="#ff2a2a"/><circle cx="328.8" cy="416.5" r="1.8" fill="#ff2a2a"/><circle cx="329.9" cy="414.9" r="1.8" fill="#ff2a2a"/><circle cx="330.3" cy="415.5" r="1.8" fill="#ff2a2a"/><circle cx="330.7" cy="416.3" r="1.8" fill="#ff2a2a"/><circle cx="331.1" cy="415.8" r="1.8" fill="#ff2a2a"/><circle cx="331.8" cy="416.4" r="1.8" fill="#ff2a2a"/><circle cx="333.0" cy="414.9" r="1.8" fill="#ff2a2a"/><circle cx="333.8" cy="416.2" r="1.8" fill="#ff2a2a"/><circle cx="334.5" cy="415.4" r="1.8" fill="#ff2a2a"/><circle cx="335.3" cy="415.2" r="1.8" fill="#ff2a2a"/><circle cx="336.8" cy="415.0" r="1.8" fill="#ff2a2a"/><circle cx="337.2" cy="415.5" r="1.8" fill="#ff2a2a"/><circle cx="337.6" cy="416.2" r="1.8" fill="#ff2a2a"/><circle cx="338.4" cy="415.2" r="1.8" fill="#ff2a2a"/><circle cx="339.9" cy="415.6" r="1.8" fill="#ff2a2a"/><circle cx="343.7" cy="416.2" r="1.8" fill="#ff2a2a"/><circle cx="344.5" cy="416.2" r="1.8" fill="#ff2a2a"/><circle cx="345.7" cy="415.3" r="1.8" fill="#ff2a2a"/><circle cx="346.8" cy="416.2" r="1.8" fill="#ff2a2a"/><circle cx="347.6" cy="415.7" r="1.8" fill="#ff2a2a"/><circle cx="348.4" cy="415.0" r="1.8" fill="#ff2a2a"/><circle cx="349.9" cy="416.4" r="1.8" fill="#ff2a2a"/><circle cx="350.7" cy="415.7" r="1.8" fill="#ff2a2a"/><circle cx="351.0" cy="415.4" r="1.8" fill="#ff2a2a"/><circle cx="351.4" cy="415.0" r="1.8" fill="#ff2a2a"/><circle cx="353.3" cy="415.4" r="1.8" fill="#ff2a2a"/><circle cx="355.6" cy="415.3" r="1.8" fill="#ff2a2a"/><circle cx="356.4" cy="416.0" r="1.8" fill="#ff2a2a"/><circle cx="356.8" cy="415.9" r="1.8" fill="#ff2a2a"/><circle cx="358.3" cy="415.9" r="1.8" fill="#ff2a2a"/><circle cx="358.7" cy="415.1" r="1.8" fill="#ff2a2a"/><circle cx="359.5" cy="416.2" r="1.8" fill="#ff2a2a"/><circle cx="359.9" cy="416.4" r="1.8" fill="#ff2a2a"/><circle cx="361.0" cy="416.4" r="1.8" fill="#ff2a2a"/><circle cx="361.8" cy="416.0" r="1.8" fill="#ff2a2a"/><circle cx="362.6" cy="415.7" r="1.8" fill="#ff2a2a"/><circle cx="362.9" cy="415.0" r="1.8" fill="#ff2a2a"/><circle cx="363.3" cy="416.0" r="1.8" fill="#ff2a2a"/><circle cx="364.5" cy="416.2" r="1.8" fill="#ff2a2a"/><circle cx="364.9" cy="416.3" r="1.8" fill="#ff2a2a"/><circle cx="365.2" cy="416.2" r="1.8" fill="#ff2a2a"/><circle cx="370.2" cy="414.9" r="1.8" fill="#ff2a2a"/><circle cx="371.4" cy="415.4" r="1.8" fill="#ff2a2a"/><circle cx="372.2" cy="415.2" r="1.8" fill="#ff2a2a"/><circle cx="373.7" cy="415.0" r="1.8" fill="#ff2a2a"/><circle cx="374.5" cy="415.4" r="1.8" fill="#ff2a2a"/><circle cx="375.6" cy="415.6" r="1.8" fill="#ff2a2a"/><circle cx="376.8" cy="415.8" r="1.8" fill="#ff2a2a"/><circle cx="377.2" cy="416.4" r="1.8" fill="#ff2a2a"/><circle cx="377.5" cy="416.1" r="1.8" fill="#ff2a2a"/><circle cx="377.9" cy="416.0" r="1.8" fill="#ff2a2a"/><circle cx="378.3" cy="416.2" r="1.8" fill="#ff2a2a"/><circle cx="378.7" cy="415.7" r="1.8" fill="#ff2a2a"/><circle cx="379.5" cy="416.1" r="1.8" fill="#ff2a2a"/><circle cx="379.8" cy="415.8" r="1.8" fill="#ff2a2a"/><circle cx="380.2" cy="415.9" r="1.8" fill="#ff2a2a"/><circle cx="380.6" cy="416.1" r="1.8" fill="#ff2a2a"/><circle cx="381.0" cy="416.4" r="1.8" fill="#ff2a2a"/><circle cx="381.8" cy="416.0" r="1.8" fill="#ff2a2a"/><circle cx="382.1" cy="416.4" r="1.8" fill="#ff2a2a"/><circle cx="382.5" cy="415.3" r="1.8" fill="#ff2a2a"/><circle cx="384.1" cy="416.2" r="1.8" fill="#ff2a2a"/><circle cx="384.4" cy="415.5" r="1.8" fill="#ff2a2a"/><circle cx="386.4" cy="415.4" r="1.8" fill="#ff2a2a"/><circle cx="387.5" cy="416.0" r="1.8" fill="#ff2a2a"/><circle cx="387.9" cy="416.4" r="1.8" fill="#ff2a2a"/><circle cx="388.7" cy="415.9" r="1.8" fill="#ff2a2a"/><circle cx="389.4" cy="415.4" r="1.8" fill="#ff2a2a"/><circle cx="389.8" cy="416.0" r="1.8" fill="#ff2a2a"/><circle cx="390.2" cy="416.0" r="1.8" fill="#ff2a2a"/><circle cx="390.6" cy="415.4" r="1.8" fill="#ff2a2a"/><circle cx="391.0" cy="416.0" r="1.8" fill="#ff2a2a"/><circle cx="391.4" cy="416.4" r="1.8" fill="#ff2a2a"/><circle cx="392.1" cy="414.9" r="1.8" fill="#ff2a2a"/><circle cx="392.5" cy="416.2" r="1.8" fill="#ff2a2a"/><circle cx="392.9" cy="415.6" r="1.8" fill="#ff2a2a"/><circle cx="393.7" cy="415.9" r="1.8" fill="#ff2a2a"/><circle cx="394.0" cy="415.9" r="1.8" fill="#ff2a2a"/><circle cx="394.4" cy="415.9" r="1.8" fill="#ff2a2a"/><circle cx="396.4" cy="416.1" r="1.8" fill="#ff2a2a"/><circle cx="397.9" cy="415.1" r="1.8" fill="#ff2a2a"/><circle cx="398.3" cy="415.4" r="1.8" fill="#ff2a2a"/><circle cx="400.2" cy="414.9" r="1.8" fill="#ff2a2a"/><circle cx="400.6" cy="415.8" r="1.8" fill="#ff2a2a"/><circle cx="401.0" cy="415.3" r="1.8" fill="#ff2a2a"/><circle cx="402.1" cy="415.9" r="1.8" fill="#ff2a2a"/><circle cx="402.5" cy="415.9" r="1.8" fill="#ff2a2a"/><circle cx="402.9" cy="415.7" r="1.8" fill="#ff2a2a"/><circle cx="403.6" cy="414.9" r="1.8" fill="#ff2a2a"/><circle cx="404.8" cy="415.6" r="1.8" fill="#ff2a2a"/><circle cx="407.1" cy="415.3" r="1.8" fill="#ff2a2a"/><circle cx="407.5" cy="415.6" r="1.8" fill="#ff2a2a"/><circle cx="408.6" cy="416.3" r="1.8" fill="#ff2a2a"/><circle cx="409.4" cy="415.2" r="1.8" fill="#ff2a2a"/><circle cx="409.8" cy="415.3" r="1.8" fill="#ff2a2a"/><circle cx="410.2" cy="415.8" r="1.8" fill="#ff2a2a"/><circle cx="411.7" cy="415.9" r="1.8" fill="#ff2a2a"/><circle cx="413.2" cy="416.0" r="1.8" fill="#ff2a2a"/><circle cx="414.0" cy="415.2" r="1.8" fill="#ff2a2a"/><circle cx="414.8" cy="416.1" r="1.8" fill="#ff2a2a"/><circle cx="415.9" cy="415.3" r="1.8" fill="#ff2a2a"/><circle cx="416.3" cy="415.0" r="1.8" fill="#ff2a2a"/><circle cx="419.4" cy="415.9" r="1.8" fill="#ff2a2a"/><circle cx="420.9" cy="415.9" r="1.8" fill="#ff2a2a"/><circle cx="421.7" cy="416.4" r="1.8" fill="#ff2a2a"/><circle cx="422.8" cy="416.0" r="1.8" fill="#ff2a2a"/><circle cx="423.2" cy="416.1" r="1.8" fill="#ff2a2a"/><circle cx="424.8" cy="415.7" r="1.8" fill="#ff2a2a"/><circle cx="425.2" cy="416.0" r="1.8" fill="#ff2a2a"/><circle cx="425.9" cy="416.3" r="1.8" fill="#ff2a2a"/><circle cx="426.3" cy="415.7" r="1.8" fill="#ff2a2a"/><circle cx="428.2" cy="416.1" r="1.8" fill="#ff2a2a"/><circle cx="429.0" cy="415.4" r="1.8" fill="#ff2a2a"/><circle cx="429.8" cy="416.2" r="1.8" fill="#ff2a2a"/><circle cx="430.1" cy="416.2" r="1.8" fill="#ff2a2a"/><circle cx="430.9" cy="415.1" r="1.8" fill="#ff2a2a"/><circle cx="431.3" cy="416.4" r="1.8" fill="#ff2a2a"/><circle cx="432.1" cy="415.6" r="1.8" fill="#ff2a2a"/><circle cx="432.8" cy="415.7" r="1.8" fill="#ff2a2a"/><circle cx="433.2" cy="415.8" r="1.8" fill="#ff2a2a"/><circle cx="433.6" cy="416.4" r="1.8" fill="#ff2a2a"/><circle cx="434.0" cy="415.5" r="1.8" fill="#ff2a2a"/><circle cx="434.4" cy="415.8" r="1.8" fill="#ff2a2a"/><circle cx="434.8" cy="415.5" r="1.8" fill="#ff2a2a"/><circle cx="435.1" cy="415.0" r="1.8" fill="#ff2a2a"/><circle cx="435.9" cy="415.3" r="1.8" fill="#ff2a2a"/><circle cx="437.4" cy="415.5" r="1.8" fill="#ff2a2a"/><circle cx="438.6" cy="416.0" r="1.8" fill="#ff2a2a"/><circle cx="439.0" cy="415.7" r="1.8" fill="#ff2a2a"/><circle cx="439.7" cy="416.1" r="1.8" fill="#ff2a2a"/><circle cx="440.5" cy="415.3" r="1.8" fill="#ff2a2a"/><circle cx="441.3" cy="415.4" r="1.8" fill="#ff2a2a"/><circle cx="441.7" cy="416.0" r="1.8" fill="#ff2a2a"/><circle cx="444.4" cy="415.4" r="1.8" fill="#ff2a2a"/><circle cx="444.7" cy="415.7" r="1.8" fill="#ff2a2a"/><circle cx="445.9" cy="416.2" r="1.8" fill="#ff2a2a"/><circle cx="446.7" cy="415.7" r="1.8" fill="#ff2a2a"/><circle cx="447.0" cy="415.1" r="1.8" fill="#ff2a2a"/><circle cx="447.4" cy="416.4" r="1.8" fill="#ff2a2a"/><circle cx="447.8" cy="415.5" r="1.8" fill="#ff2a2a"/><circle cx="448.2" cy="415.3" r="1.8" fill="#ff2a2a"/><circle cx="449.0" cy="416.4" r="1.8" fill="#ff2a2a"/><circle cx="449.3" cy="415.4" r="1.8" fill="#ff2a2a"/><circle cx="449.7" cy="416.4" r="1.8" fill="#ff2a2a"/><circle cx="450.5" cy="415.3" r="1.8" fill="#ff2a2a"/><circle cx="451.6" cy="415.6" r="1.8" fill="#ff2a2a"/><circle cx="452.4" cy="416.5" r="1.8" fill="#ff2a2a"/><circle cx="452.8" cy="415.3" r="1.8" fill="#ff2a2a"/><circle cx="453.2" cy="415.4" r="1.8" fill="#ff2a2a"/><circle cx="453.6" cy="415.3" r="1.8" fill="#ff2a2a"/><circle cx="454.3" cy="415.6" r="1.8" fill="#ff2a2a"/><circle cx="455.5" cy="416.3" r="1.8" fill="#ff2a2a"/><circle cx="455.9" cy="415.0" r="1.8" fill="#ff2a2a"/><circle cx="456.3" cy="416.3" r="1.8" fill="#ff2a2a"/><circle cx="456.6" cy="415.0" r="1.8" fill="#ff2a2a"/><circle cx="457.0" cy="415.5" r="1.8" fill="#ff2a2a"/><circle cx="457.8" cy="415.4" r="1.8" fill="#ff2a2a"/><circle cx="458.2" cy="415.7" r="1.8" fill="#ff2a2a"/><circle cx="458.9" cy="416.2" r="1.8" fill="#ff2a2a"/><circle cx="459.3" cy="415.3" r="1.8" fill="#ff2a2a"/><circle cx="460.5" cy="415.9" r="1.8" fill="#ff2a2a"/><circle cx="460.9" cy="415.7" r="1.8" fill="#ff2a2a"/><circle cx="461.2" cy="416.3" r="1.8" fill="#ff2a2a"/><circle cx="461.6" cy="414.9" r="1.8" fill="#ff2a2a"/><circle cx="462.0" cy="415.6" r="1.8" fill="#ff2a2a"/><circle cx="463.2" cy="415.8" r="1.8" fill="#ff2a2a"/><circle cx="463.6" cy="415.0" r="1.8" fill="#ff2a2a"/><circle cx="463.9" cy="415.4" r="1.8" fill="#ff2a2a"/><circle cx="464.3" cy="415.1" r="1.8" fill="#ff2a2a"/><circle cx="464.7" cy="416.1" r="1.8" fill="#ff2a2a"/><circle cx="465.5" cy="415.6" r="1.8" fill="#ff2a2a"/><circle cx="465.9" cy="416.0" r="1.8" fill="#ff2a2a"/><circle cx="466.2" cy="416.5" r="1.8" fill="#ff2a2a"/><circle cx="467.4" cy="416.0" r="1.8" fill="#ff2a2a"/><circle cx="467.8" cy="416.0" r="1.8" fill="#ff2a2a"/><circle cx="468.2" cy="416.1" r="1.8" fill="#ff2a2a"/><circle cx="468.5" cy="415.7" r="1.8" fill="#ff2a2a"/><circle cx="468.9" cy="415.8" r="1.8" fill="#ff2a2a"/><circle cx="470.5" cy="415.3" r="1.8" fill="#ff2a2a"/><circle cx="470.8" cy="416.4" r="1.8" fill="#ff2a2a"/><circle cx="471.2" cy="415.0" r="1.8" fill="#ff2a2a"/><circle cx="471.6" cy="415.8" r="1.8" fill="#ff2a2a"/><circle cx="472.0" cy="415.7" r="1.8" fill="#ff2a2a"/><circle cx="474.3" cy="415.4" r="1.8" fill="#ff2a2a"/><circle cx="474.7" cy="416.5" r="1.8" fill="#ff2a2a"/><circle cx="475.1" cy="415.1" r="1.8" fill="#ff2a2a"/><circle cx="475.8" cy="415.5" r="1.8" fill="#ff2a2a"/><circle cx="476.6" cy="416.5" r="1.8" fill="#ff2a2a"/><circle cx="477.0" cy="415.5" r="1.8" fill="#ff2a2a"/><circle cx="478.9" cy="415.5" r="1.8" fill="#ff2a2a"/><circle cx="479.7" cy="415.0" r="1.8" fill="#ff2a2a"/><circle cx="480.4" cy="416.0" r="1.8" fill="#ff2a2a"/><circle cx="481.2" cy="416.1" r="1.8" fill="#ff2a2a"/><circle cx="482.4" cy="415.9" r="1.8" fill="#ff2a2a"/><circle cx="482.8" cy="416.2" r="1.8" fill="#ff2a2a"/><circle cx="483.1" cy="415.1" r="1.8" fill="#ff2a2a"/><circle cx="485.1" cy="415.7" r="1.8" fill="#ff2a2a"/><circle cx="486.6" cy="415.8" r="1.8" fill="#ff2a2a"/><circle cx="487.0" cy="415.1" r="1.8" fill="#ff2a2a"/><circle cx="487.7" cy="416.4" r="1.8" fill="#ff2a2a"/><circle cx="488.1" cy="416.5" r="1.8" fill="#ff2a2a"/><circle cx="488.5" cy="415.2" r="1.8" fill="#ff2a2a"/><circle cx="491.2" cy="416.2" r="1.8" fill="#ff2a2a"/><circle cx="491.6" cy="415.7" r="1.8" fill="#ff2a2a"/><circle cx="493.5" cy="416.2" r="1.8" fill="#ff2a2a"/><circle cx="494.3" cy="415.8" r="1.8" fill="#ff2a2a"/><circle cx="494.7" cy="414.9" r="1.8" fill="#ff2a2a"/><circle cx="495.0" cy="416.1" r="1.8" fill="#ff2a2a"/><circle cx="495.8" cy="415.1" r="1.8" fill="#ff2a2a"/><circle cx="496.6" cy="416.2" r="1.8" fill="#ff2a2a"/><circle cx="497.3" cy="415.7" r="1.8" fill="#ff2a2a"/><circle cx="497.7" cy="416.1" r="1.8" fill="#ff2a2a"/><circle cx="498.1" cy="414.9" r="1.8" fill="#ff2a2a"/><circle cx="498.9" cy="415.6" r="1.8" fill="#ff2a2a"/><circle cx="499.3" cy="415.6" r="1.8" fill="#ff2a2a"/><circle cx="503.5" cy="415.8" r="1.8" fill="#ff2a2a"/><circle cx="503.9" cy="415.8" r="1.8" fill="#ff2a2a"/><circle cx="504.3" cy="416.0" r="1.8" fill="#ff2a2a"/><circle cx="504.6" cy="416.5" r="1.8" fill="#ff2a2a"/><circle cx="505.0" cy="415.7" r="1.8" fill="#ff2a2a"/><circle cx="505.4" cy="415.5" r="1.8" fill="#ff2a2a"/><circle cx="505.8" cy="416.0" r="1.8" fill="#ff2a2a"/><circle cx="507.7" cy="415.2" r="1.8" fill="#ff2a2a"/><circle cx="508.5" cy="415.8" r="1.8" fill="#ff2a2a"/><circle cx="508.9" cy="414.9" r="1.8" fill="#ff2a2a"/><circle cx="509.6" cy="416.2" r="1.8" fill="#ff2a2a"/><circle cx="510.4" cy="415.1" r="1.8" fill="#ff2a2a"/><circle cx="511.2" cy="415.4" r="1.8" fill="#ff2a2a"/><circle cx="511.6" cy="416.5" r="1.8" fill="#ff2a2a"/><circle cx="512.3" cy="415.6" r="1.8" fill="#ff2a2a"/><circle cx="513.5" cy="415.7" r="1.8" fill="#ff2a2a"/><circle cx="514.2" cy="415.4" r="1.8" fill="#ff2a2a"/><circle cx="514.6" cy="415.3" r="1.8" fill="#ff2a2a"/><circle cx="516.2" cy="415.1" r="1.8" fill="#ff2a2a"/><circle cx="517.7" cy="415.9" r="1.8" fill="#ff2a2a"/><circle cx="518.8" cy="415.7" r="1.8" fill="#ff2a2a"/><circle cx="519.2" cy="415.5" r="1.8" fill="#ff2a2a"/><circle cx="519.6" cy="415.5" r="1.8" fill="#ff2a2a"/><circle cx="520.0" cy="416.0" r="1.8" fill="#ff2a2a"/>
<rect x="326.9" y="399.6" width="3.0" height="3.0" fill="#6a6a6a"/><rect x="329.2" y="399.8" width="3.0" height="3.0" fill="#6a6a6a"/><rect x="329.6" y="407.7" width="3.0" height="3.0" fill="#6a6a6a"/><rect x="331.5" y="401.2" width="3.0" height="3.0" fill="#6a6a6a"/><rect x="334.6" y="400.5" width="3.0" height="3.0" fill="#6a6a6a"/><rect x="336.9" y="409.7" width="3.0" height="3.0" fill="#6a6a6a"/><rect x="337.6" y="407.6" width="3.0" height="3.0" fill="#6a6a6a"/><rect x="339.9" y="409.5" width="3.0" height="3.0" fill="#6a6a6a"/><rect x="340.3" y="408.4" width="3.0" height="3.0" fill="#6a6a6a"/><rect x="341.1" y="403.7" width="3.0" height="3.0" fill="#6a6a6a"/><rect x="344.5" y="408.7" width="3.0" height="3.0" fill="#6a6a6a"/><rect x="344.9" y="410.6" width="3.0" height="3.0" fill="#6a6a6a"/><rect x="347.6" y="397.6" width="3.0" height="3.0" fill="#6a6a6a"/><rect x="348.4" y="406.1" width="3.0" height="3.0" fill="#6a6a6a"/><rect x="349.2" y="404.3" width="3.0" height="3.0" fill="#6a6a6a"/><rect x="350.3" y="403.9" width="3.0" height="3.0" fill="#6a6a6a"/><rect x="350.7" y="402.4" width="3.0" height="3.0" fill="#6a6a6a"/><rect x="352.2" y="410.8" width="3.0" height="3.0" fill="#6a6a6a"/><rect x="355.3" y="403.3" width="3.0" height="3.0" fill="#6a6a6a"/><rect x="356.1" y="403.6" width="3.0" height="3.0" fill="#6a6a6a"/><rect x="356.5" y="400.6" width="3.0" height="3.0" fill="#6a6a6a"/><rect x="358.0" y="405.4" width="3.0" height="3.0" fill="#6a6a6a"/><rect x="359.9" y="411.5" width="3.0" height="3.0" fill="#6a6a6a"/><rect x="360.7" y="400.2" width="3.0" height="3.0" fill="#6a6a6a"/><rect x="361.4" y="399.4" width="3.0" height="3.0" fill="#6a6a6a"/><rect x="362.6" y="402.5" width="3.0" height="3.0" fill="#6a6a6a"/><rect x="363.4" y="401.6" width="3.0" height="3.0" fill="#6a6a6a"/><rect x="363.7" y="405.6" width="3.0" height="3.0" fill="#6a6a6a"/><rect x="365.3" y="401.1" width="3.0" height="3.0" fill="#6a6a6a"/><rect x="367.2" y="411.2" width="3.0" height="3.0" fill="#6a6a6a"/><rect x="368.0" y="404.0" width="3.0" height="3.0" fill="#6a6a6a"/><rect x="370.7" y="403.7" width="3.0" height="3.0" fill="#6a6a6a"/><rect x="372.2" y="410.1" width="3.0" height="3.0" fill="#6a6a6a"/><rect x="373.7" y="402.8" width="3.0" height="3.0" fill="#6a6a6a"/><rect x="374.1" y="398.3" width="3.0" height="3.0" fill="#6a6a6a"/><rect x="376.4" y="407.0" width="3.0" height="3.0" fill="#6a6a6a"/><rect x="377.6" y="405.8" width="3.0" height="3.0" fill="#6a6a6a"/><rect x="380.6" y="402.8" width="3.0" height="3.0" fill="#6a6a6a"/><rect x="381.4" y="407.3" width="3.0" height="3.0" fill="#6a6a6a"/><rect x="382.2" y="402.3" width="3.0" height="3.0" fill="#6a6a6a"/><rect x="383.7" y="404.7" width="3.0" height="3.0" fill="#6a6a6a"/><rect x="384.5" y="409.7" width="3.0" height="3.0" fill="#6a6a6a"/><rect x="384.9" y="411.7" width="3.0" height="3.0" fill="#6a6a6a"/><rect x="386.4" y="401.2" width="3.0" height="3.0" fill="#6a6a6a"/><rect x="386.8" y="407.9" width="3.0" height="3.0" fill="#6a6a6a"/><rect x="387.6" y="406.1" width="3.0" height="3.0" fill="#6a6a6a"/><rect x="389.5" y="403.3" width="3.0" height="3.0" fill="#6a6a6a"/><rect x="391.0" y="410.6" width="3.0" height="3.0" fill="#6a6a6a"/><rect x="391.8" y="397.6" width="3.0" height="3.0" fill="#6a6a6a"/><rect x="393.7" y="407.6" width="3.0" height="3.0" fill="#6a6a6a"/><rect x="396.8" y="403.4" width="3.0" height="3.0" fill="#6a6a6a"/><rect x="397.5" y="409.0" width="3.0" height="3.0" fill="#6a6a6a"/><rect x="399.1" y="402.3" width="3.0" height="3.0" fill="#6a6a6a"/><rect x="399.5" y="403.1" width="3.0" height="3.0" fill="#6a6a6a"/><rect x="402.1" y="406.2" width="3.0" height="3.0" fill="#6a6a6a"/><rect x="402.9" y="406.5" width="3.0" height="3.0" fill="#6a6a6a"/><rect x="403.3" y="410.4" width="3.0" height="3.0" fill="#6a6a6a"/><rect x="404.8" y="405.5" width="3.0" height="3.0" fill="#6a6a6a"/><rect x="407.5" y="397.1" width="3.0" height="3.0" fill="#6a6a6a"/><rect x="407.9" y="402.4" width="3.0" height="3.0" fill="#6a6a6a"/><rect x="409.1" y="409.9" width="3.0" height="3.0" fill="#6a6a6a"/><rect x="410.2" y="406.5" width="3.0" height="3.0" fill="#6a6a6a"/><rect x="413.3" y="404.5" width="3.0" height="3.0" fill="#6a6a6a"/><rect x="414.8" y="403.3" width="3.0" height="3.0" fill="#6a6a6a"/><rect x="417.9" y="400.2" width="3.0" height="3.0" fill="#6a6a6a"/><rect x="418.3" y="409.5" width="3.0" height="3.0" fill="#6a6a6a"/><rect x="420.6" y="401.1" width="3.0" height="3.0" fill="#6a6a6a"/><rect x="421.3" y="409.9" width="3.0" height="3.0" fill="#6a6a6a"/><rect x="421.7" y="407.1" width="3.0" height="3.0" fill="#6a6a6a"/><rect x="422.5" y="400.3" width="3.0" height="3.0" fill="#6a6a6a"/><rect x="430.2" y="405.3" width="3.0" height="3.0" fill="#6a6a6a"/><rect x="434.4" y="405.5" width="3.0" height="3.0" fill="#6a6a6a"/><rect x="434.8" y="403.0" width="3.0" height="3.0" fill="#6a6a6a"/><rect x="437.9" y="404.6" width="3.0" height="3.0" fill="#6a6a6a"/><rect x="438.6" y="406.4" width="3.0" height="3.0" fill="#6a6a6a"/><rect x="439.0" y="401.3" width="3.0" height="3.0" fill="#6a6a6a"/><rect x="441.3" y="411.4" width="3.0" height="3.0" fill="#6a6a6a"/><rect x="442.9" y="403.3" width="3.0" height="3.0" fill="#6a6a6a"/><rect x="443.6" y="408.4" width="3.0" height="3.0" fill="#6a6a6a"/><rect x="444.0" y="402.2" width="3.0" height="3.0" fill="#6a6a6a"/><rect x="444.4" y="409.3" width="3.0" height="3.0" fill="#6a6a6a"/><rect x="446.7" y="398.8" width="3.0" height="3.0" fill="#6a6a6a"/><rect x="447.8" y="409.2" width="3.0" height="3.0" fill="#6a6a6a"/><rect x="450.1" y="400.1" width="3.0" height="3.0" fill="#6a6a6a"/><rect x="450.9" y="411.7" width="3.0" height="3.0" fill="#6a6a6a"/><rect x="451.7" y="400.0" width="3.0" height="3.0" fill="#6a6a6a"/><rect x="452.8" y="402.7" width="3.0" height="3.0" fill="#6a6a6a"/><rect x="455.5" y="397.8" width="3.0" height="3.0" fill="#6a6a6a"/><rect x="456.3" y="398.0" width="3.0" height="3.0" fill="#6a6a6a"/><rect x="456.7" y="403.6" width="3.0" height="3.0" fill="#6a6a6a"/><rect x="459.0" y="409.6" width="3.0" height="3.0" fill="#6a6a6a"/><rect x="459.4" y="407.4" width="3.0" height="3.0" fill="#6a6a6a"/><rect x="459.7" y="399.9" width="3.0" height="3.0" fill="#6a6a6a"/><rect x="460.5" y="410.3" width="3.0" height="3.0" fill="#6a6a6a"/><rect x="462.1" y="407.7" width="3.0" height="3.0" fill="#6a6a6a"/><rect x="462.4" y="409.6" width="3.0" height="3.0" fill="#6a6a6a"/><rect x="464.0" y="411.0" width="3.0" height="3.0" fill="#6a6a6a"/><rect x="466.7" y="410.9" width="3.0" height="3.0" fill="#6a6a6a"/><rect x="468.6" y="404.6" width="3.0" height="3.0" fill="#6a6a6a"/><rect x="470.9" y="408.2" width="3.0" height="3.0" fill="#6a6a6a"/><rect x="471.7" y="397.3" width="3.0" height="3.0" fill="#6a6a6a"/><rect x="472.8" y="398.3" width="3.0" height="3.0" fill="#6a6a6a"/><rect x="477.8" y="403.0" width="3.0" height="3.0" fill="#6a6a6a"/><rect x="478.6" y="401.0" width="3.0" height="3.0" fill="#6a6a6a"/><rect x="479.7" y="409.5" width="3.0" height="3.0" fill="#6a6a6a"/><rect x="480.1" y="411.3" width="3.0" height="3.0" fill="#6a6a6a"/><rect x="481.6" y="405.8" width="3.0" height="3.0" fill="#6a6a6a"/><rect x="482.0" y="408.7" width="3.0" height="3.0" fill="#6a6a6a"/><rect x="482.8" y="411.6" width="3.0" height="3.0" fill="#6a6a6a"/><rect x="483.2" y="409.7" width="3.0" height="3.0" fill="#6a6a6a"/><rect x="483.6" y="398.8" width="3.0" height="3.0" fill="#6a6a6a"/><rect x="483.9" y="406.6" width="3.0" height="3.0" fill="#6a6a6a"/><rect x="484.7" y="403.2" width="3.0" height="3.0" fill="#6a6a6a"/><rect x="485.1" y="400.0" width="3.0" height="3.0" fill="#6a6a6a"/><rect x="487.8" y="400.5" width="3.0" height="3.0" fill="#6a6a6a"/><rect x="489.7" y="403.9" width="3.0" height="3.0" fill="#6a6a6a"/><rect x="491.6" y="401.7" width="3.0" height="3.0" fill="#6a6a6a"/><rect x="492.4" y="397.2" width="3.0" height="3.0" fill="#6a6a6a"/><rect x="493.9" y="397.2" width="3.0" height="3.0" fill="#6a6a6a"/><rect x="495.8" y="397.9" width="3.0" height="3.0" fill="#6a6a6a"/><rect x="496.2" y="404.2" width="3.0" height="3.0" fill="#6a6a6a"/><rect x="497.0" y="407.8" width="3.0" height="3.0" fill="#6a6a6a"/><rect x="499.3" y="404.4" width="3.0" height="3.0" fill="#6a6a6a"/><rect x="499.7" y="408.4" width="3.0" height="3.0" fill="#6a6a6a"/><rect x="500.1" y="400.3" width="3.0" height="3.0" fill="#6a6a6a"/><rect x="503.5" y="406.1" width="3.0" height="3.0" fill="#6a6a6a"/><rect x="505.1" y="407.9" width="3.0" height="3.0" fill="#6a6a6a"/><rect x="505.8" y="400.8" width="3.0" height="3.0" fill="#6a6a6a"/><rect x="507.7" y="406.8" width="3.0" height="3.0" fill="#6a6a6a"/><rect x="508.5" y="409.6" width="3.0" height="3.0" fill="#6a6a6a"/><rect x="509.7" y="407.3" width="3.0" height="3.0" fill="#6a6a6a"/><rect x="510.1" y="411.1" width="3.0" height="3.0" fill="#6a6a6a"/><rect x="510.4" y="405.2" width="3.0" height="3.0" fill="#6a6a6a"/><rect x="510.8" y="408.1" width="3.0" height="3.0" fill="#6a6a6a"/><rect x="512.4" y="397.5" width="3.0" height="3.0" fill="#6a6a6a"/><rect x="513.5" y="399.8" width="3.0" height="3.0" fill="#6a6a6a"/><rect x="514.3" y="409.1" width="3.0" height="3.0" fill="#6a6a6a"/><rect x="516.6" y="407.5" width="3.0" height="3.0" fill="#6a6a6a"/><rect x="518.1" y="409.1" width="3.0" height="3.0" fill="#6a6a6a"/><rect x="518.5" y="410.0" width="3.0" height="3.0" fill="#6a6a6a"/>
<path d="M328.0 405.5L330.5 409.8H325.5Z" fill="#1565dc"/><path d="M328.0 404.2L330.5 408.5H325.5Z" fill="#1565dc"/><path d="M328.0 392.4L330.5 396.7H325.5Z" fill="#1565dc"/><path d="M328.4 413.2L330.9 417.5H325.9Z" fill="#1565dc"/><path d="M328.4 397.7L330.9 402.0H325.9Z" fill="#1565dc"/><path d="M328.8 410.8L331.3 415.1H326.3Z" fill="#1565dc"/><path d="M328.8 409.9L331.3 414.2H326.3Z" fill="#1565dc"/><path d="M328.8 393.3L331.3 397.6H326.3Z" fill="#1565dc"/><path d="M329.2 403.0L331.7 407.3H326.7Z" fill="#1565dc"/><path d="M329.2 406.4L331.7 410.7H326.7Z" fill="#1565dc"/><path d="M329.2 380.9L331.7 385.2H326.7Z" fill="#1565dc"/><path d="M329.5 409.1L332.0 413.4H327.0Z" fill="#1565dc"/><path d="M329.5 412.8L332.0 417.1H327.0Z" fill="#1565dc"/><path d="M329.9 410.5L332.4 414.8H327.4Z" fill="#1565dc"/><path d="M329.9 398.9L332.4 403.2H327.4Z" fill="#1565dc"/><path d="M330.3 412.5L332.8 416.8H327.8Z" fill="#1565dc"/><path d="M330.3 408.4L332.8 412.7H327.8Z" fill="#1565dc"/><path d="M330.7 404.7L333.2 409.0H328.2Z" fill="#1565dc"/><path d="M330.7 406.5L333.2 410.8H328.2Z" fill="#1565dc"/><path d="M330.7 387.7L333.2 392.0H328.2Z" fill="#1565dc"/><path d="M331.1 400.6L333.6 404.9H328.6Z" fill="#1565dc"/><path d="M331.1 383.9L333.6 388.2H328.6Z" fill="#1565dc"/><path d="M331.5 397.6L334.0 401.9H329.0Z" fill="#1565dc"/><path d="M331.5 410.4L334.0 414.7H329.0Z" fill="#1565dc"/><path d="M331.5 386.7L334.0 391.0H329.0Z" fill="#1565dc"/><path d="M331.8 404.0L334.3 408.3H329.3Z" fill="#1565dc"/><path d="M331.8 407.8L334.3 412.1H329.3Z" fill="#1565dc"/><path d="M332.2 411.4L334.7 415.7H329.7Z" fill="#1565dc"/><path d="M332.2 398.9L334.7 403.2H329.7Z" fill="#1565dc"/><path d="M332.6 398.2L335.1 402.5H330.1Z" fill="#1565dc"/><path d="M332.6 399.3L335.1 403.6H330.1Z" fill="#1565dc"/><path d="M333.0 400.3L335.5 404.6H330.5Z" fill="#1565dc"/><path d="M333.0 404.1L335.5 408.4H330.5Z" fill="#1565dc"/><path d="M333.0 397.7L335.5 402.0H330.5Z" fill="#1565dc"/><path d="M333.4 409.3L335.9 413.6H330.9Z" fill="#1565dc"/><path d="M333.4 398.8L335.9 403.1H330.9Z" fill="#1565dc"/><path d="M333.4 399.0L335.9 403.3H330.9Z" fill="#1565dc"/><path d="M333.8 411.7L336.3 416.0H331.3Z" fill="#1565dc"/><path d="M333.8 407.9L336.3 412.2H331.3Z" fill="#1565dc"/><path d="M334.1 413.3L336.6 417.6H331.6Z" fill="#1565dc"/><path d="M334.1 413.6L336.6 417.9H331.6Z" fill="#1565dc"/><path d="M334.5 408.6L337.0 412.9H332.0Z" fill="#1565dc"/><path d="M334.5 397.4L337.0 401.7H332.0Z" fill="#1565dc"/><path d="M334.5 391.7L337.0 396.0H332.0Z" fill="#1565dc"/><path d="M334.9 398.8L337.4 403.1H332.4Z" fill="#1565dc"/><path d="M334.9 408.1L337.4 412.4H332.4Z" fill="#1565dc"/><path d="M335.3 403.6L337.8 407.9H332.8Z" fill="#1565dc"/><path d="M335.3 407.6L337.8 411.9H332.8Z" fill="#1565dc"/><path d="M335.7 401.9L338.2 406.2H333.2Z" fill="#1565dc"/><path d="M335.7 387.6L338.2 391.9H333.2Z" fill="#1565dc"/><path d="M336.1 404.0L338.6 408.3H333.6Z" fill="#1565dc"/><path d="M336.1 406.0L338.6 410.3H333.6Z" fill="#1565dc"/><path d="M336.1 388.4L338.6 392.7H333.6Z" fill="#1565dc"/><path d="M336.4 408.9L338.9 413.2H333.9Z" fill="#1565dc"/><path d="M336.4 402.7L338.9 407.0H333.9Z" fill="#1565dc"/><path d="M336.4 397.8L338.9 402.1H333.9Z" fill="#1565dc"/><path d="M336.8 410.6L339.3 414.9H334.3Z" fill="#1565dc"/><path d="M336.8 406.8L339.3 411.1H334.3Z" fill="#1565dc"/><path d="M337.2 405.7L339.7 410.0H334.7Z" fill="#1565dc"/><path d="M337.2 400.1L339.7 404.4H334.7Z" fill="#1565dc"/><path d="M337.6 410.4L340.1 414.7H335.1Z" fill="#1565dc"/><path d="M337.6 407.1L340.1 411.4H335.1Z" fill="#1565dc"/><path d="M338.0 412.7L340.5 417.0H335.5Z" fill="#1565dc"/><path d="M338.0 413.4L340.5 417.7H335.5Z" fill="#1565dc"/><path d="M338.4 413.5L340.9 417.8H335.9Z" fill="#1565dc"/><path d="M338.4 400.2L340.9 404.5H335.9Z" fill="#1565dc"/><path d="M338.4 398.1L340.9 402.4H335.9Z" fill="#1565dc"/><path d="M338.8 398.1L341.3 402.4H336.3Z" fill="#1565dc"/><path d="M338.8 402.6L341.3 406.9H336.3Z" fill="#1565dc"/><path d="M338.8 393.1L341.3 397.4H336.3Z" fill="#1565dc"/><path d="M339.1 402.4L341.6 406.7H336.6Z" fill="#1565dc"/><path d="M339.1 405.3L341.6 409.6H336.6Z" fill="#1565dc"/><path d="M339.5 398.5L342.0 402.8H337.0Z" fill="#1565dc"/><path d="M339.5 402.0L342.0 406.3H337.0Z" fill="#1565dc"/><path d="M339.5 393.5L342.0 397.8H337.0Z" fill="#1565dc"/><path d="M339.9 398.3L342.4 402.6H337.4Z" fill="#1565dc"/><path d="M339.9 406.3L342.4 410.6H337.4Z" fill="#1565dc"/><path d="M340.3 410.4L342.8 414.7H337.8Z" fill="#1565dc"/><path d="M340.3 399.0L342.8 403.3H337.8Z" fill="#1565dc"/><path d="M340.7 399.8L343.2 404.1H338.2Z" fill="#1565dc"/><path d="M340.7 398.6L343.2 402.9H338.2Z" fill="#1565dc"/><path d="M341.1 400.5L343.6 404.8H338.6Z" fill="#1565dc"/><path d="M341.1 412.9L343.6 417.2H338.6Z" fill="#1565dc"/><path d="M341.4 402.0L343.9 406.3H338.9Z" fill="#1565dc"/><path d="M341.4 400.0L343.9 404.3H338.9Z" fill="#1565dc"/><path d="M341.8 409.1L344.3 413.4H339.3Z" fill="#1565dc"/><path d="M341.8 401.9L344.3 406.2H339.3Z" fill="#1565dc"/><path d="M342.2 399.9L344.7 404.2H339.7Z" fill="#1565dc"/><path d="M342.2 399.0L344.7 403.3H339.7Z" fill="#1565dc"/><path d="M342.2 384.8L344.7 389.1H339.7Z" fill="#1565dc"/><path d="M342.6 403.9L345.1 408.2H340.1Z" fill="#1565dc"/><path d="M342.6 413.5L345.1 417.8H340.1Z" fill="#1565dc"/><path d="M343.0 402.5L345.5 406.8H340.5Z" fill="#1565dc"/><path d="M343.0 412.8L345.5 417.1H340.5Z" fill="#1565dc"/><path d="M343.4 411.8L345.9 416.1H340.9Z" fill="#1565dc"/><path d="M343.4 406.8L345.9 411.1H340.9Z" fill="#1565dc"/><path d="M343.7 411.8L346.2 416.1H341.2Z" fill="#1565dc"/><path d="M344.1 403.7L346.6 408.0H341.6Z" fill="#1565dc"/><path d="M344.1 412.2L346.6 416.5H341.6Z" fill="#1565dc"/><path d="M344.5 407.7L347.0 412.0H342.0Z" fill="#1565dc"/><path d="M344.5 407.1L347.0 411.4H342.0Z" fill="#1565dc"/><path d="M344.9 399.8L347.4 404.1H342.4Z" fill="#1565dc"/><path d="M344.9 403.8L347.4 408.1H342.4Z" fill="#1565dc"/><path d="M345.3 408.7L347.8 413.0H342.8Z" fill="#1565dc"/><path d="M345.3 398.7L347.8 403.0H342.8Z" fill="#1565dc"/><path d="M345.3 380.9L347.8 385.2H342.8Z" fill="#1565dc"/><path d="M345.7 400.2L348.2 404.5H343.2Z" fill="#1565dc"/><path d="M345.7 407.0L348.2 411.3H343.2Z" fill="#1565dc"/><path d="M346.0 398.9L348.5 403.2H343.5Z" fill="#1565dc"/><path d="M346.0 397.9L348.5 402.2H343.5Z" fill="#1565dc"/><path d="M346.0 392.5L348.5 396.8H343.5Z" fill="#1565dc"/><path d="M346.4 413.3L348.9 417.6H343.9Z" fill="#1565dc"/><path d="M346.4 404.8L348.9 409.1H343.9Z" fill="#1565dc"/><path d="M346.8 398.6L349.3 402.9H344.3Z" fill="#1565dc"/><path d="M346.8 398.8L349.3 403.1H344.3Z" fill="#1565dc"/><path d="M347.2 405.4L349.7 409.7H344.7Z" fill="#1565dc"/><path d="M347.2 406.8L349.7 411.1H344.7Z" fill="#1565dc"/><path d="M347.6 410.7L350.1 415.0H345.1Z" fill="#1565dc"/><path d="M347.6 411.2L350.1 415.5H345.1Z" fill="#1565dc"/><path d="M348.0 407.2L350.5 411.5H345.5Z" fill="#1565dc"/><path d="M348.0 404.0L350.5 408.3H345.5Z" fill="#1565dc"/><path d="M348.4 400.5L350.9 404.8H345.9Z" fill="#1565dc"/><path d="M348.4 407.2L350.9 411.5H345.9Z" fill="#1565dc"/><path d="M348.7 402.0L351.2 406.3H346.2Z" fill="#1565dc"/><path d="M348.7 412.8L351.2 417.1H346.2Z" fill="#1565dc"/><path d="M348.7 393.2L351.2 397.5H346.2Z" fill="#1565dc"/><path d="M349.1 408.3L351.6 412.6H346.6Z" fill="#1565dc"/><path d="M349.1 403.0L351.6 407.3H346.6Z" fill="#1565dc"/><path d="M349.5 401.3L352.0 405.6H347.0Z" fill="#1565dc"/><path d="M349.5 397.7L352.0 402.0H347.0Z" fill="#1565dc"/><path d="M349.5 390.3L352.0 394.6H347.0Z" fill="#1565dc"/><path d="M349.9 409.8L352.4 414.1H347.4Z" fill="#1565dc"/><path d="M349.9 398.9L352.4 403.2H347.4Z" fill="#1565dc"/><path d="M350.3 400.5L352.8 404.8H347.8Z" fill="#1565dc"/><path d="M350.3 412.7L352.8 417.0H347.8Z" fill="#1565dc"/><path d="M350.7 413.0L353.2 417.3H348.2Z" fill="#1565dc"/><path d="M350.7 398.3L353.2 402.6H348.2Z" fill="#1565dc"/><path d="M350.7 392.1L353.2 396.4H348.2Z" fill="#1565dc"/><path d="M351.0 402.1L353.5 406.4H348.5Z" fill="#1565dc"/><path d="M351.0 409.0L353.5 413.3H348.5Z" fill="#1565dc"/><path d="M351.0 396.8L353.5 401.1H348.5Z" fill="#1565dc"/><path d="M351.4 397.6L353.9 401.9H348.9Z" fill="#1565dc"/><path d="M351.4 398.3L353.9 402.6H348.9Z" fill="#1565dc"/><path d="M351.4 383.4L353.9 387.7H348.9Z" fill="#1565dc"/><path d="M351.8 402.0L354.3 406.3H349.3Z" fill="#1565dc"/><path d="M352.2 410.6L354.7 414.9H349.7Z" fill="#1565dc"/><path d="M352.2 413.1L354.7 417.4H349.7Z" fill="#1565dc"/><path d="M352.6 404.3L355.1 408.6H350.1Z" fill="#1565dc"/><path d="M352.6 407.0L355.1 411.3H350.1Z" fill="#1565dc"/><path d="M353.0 412.0L355.5 416.3H350.5Z" fill="#1565dc"/><path d="M353.0 399.2L355.5 403.5H350.5Z" fill="#1565dc"/><path d="M353.3 403.5L355.8 407.8H350.8Z" fill="#1565dc"/><path d="M353.3 401.5L355.8 405.8H350.8Z" fill="#1565dc"/><path d="M353.3 396.8L355.8 401.1H350.8Z" fill="#1565dc"/><path d="M353.7 406.9L356.2 411.2H351.2Z" fill="#1565dc"/><path d="M353.7 403.6L356.2 407.9H351.2Z" fill="#1565dc"/><path d="M353.7 391.8L356.2 396.1H351.2Z" fill="#1565dc"/><path d="M354.1 406.0L356.6 410.3H351.6Z" fill="#1565dc"/><path d="M354.1 410.4L356.6 414.7H351.6Z" fill="#1565dc"/><path d="M354.1 387.4L356.6 391.7H351.6Z" fill="#1565dc"/><path d="M354.5 410.4L357.0 414.7H352.0Z" fill="#1565dc"/><path d="M354.5 406.9L357.0 411.2H352.0Z" fill="#1565dc"/><path d="M354.5 385.8L357.0 390.1H352.0Z" fill="#1565dc"/><path d="M354.9 401.6L357.4 405.9H352.4Z" fill="#1565dc"/><path d="M354.9 398.7L357.4 403.0H352.4Z" fill="#1565dc"/><path d="M354.9 395.0L357.4 399.3H352.4Z" fill="#1565dc"/><path d="M355.3 409.0L357.8 413.3H352.8Z" fill="#1565dc"/><path d="M355.3 401.1L357.8 405.4H352.8Z" fill="#1565dc"/><path d="M355.3 397.3L357.8 401.6H352.8Z" fill="#1565dc"/><path d="M355.6 411.6L358.1 415.9H353.1Z" fill="#1565dc"/><path d="M355.6 408.0L358.1 412.3H353.1Z" fill="#1565dc"/><path d="M356.0 398.4L358.5 402.7H353.5Z" fill="#1565dc"/><path d="M356.4 399.1L358.9 403.4H353.9Z" fill="#1565dc"/><path d="M356.4 395.1L358.9 399.4H353.9Z" fill="#1565dc"/><path d="M356.8 405.0L359.3 409.3H354.3Z" fill="#1565dc"/><path d="M356.8 400.1L359.3 404.4H354.3Z" fill="#1565dc"/><path d="M357.2 405.4L359.7 409.7H354.7Z" fill="#1565dc"/><path d="M357.2 404.9L359.7 409.2H354.7Z" fill="#1565dc"/><path d="M357.6 412.5L360.1 416.8H355.1Z" fill="#1565dc"/><path d="M357.6 412.6L360.1 416.9H355.1Z" fill="#1565dc"/><path d="M358.0 409.9L360.5 414.2H355.5Z" fill="#1565dc"/><path d="M358.0 410.3L360.5 414.6H355.5Z" fill="#1565dc"/><path d="M358.3 405.8L360.8 410.1H355.8Z" fill="#1565dc"/><path d="M358.3 405.0L360.8 409.3H355.8Z" fill="#1565dc"/><path d="M358.7 400.6L361.2 404.9H356.2Z" fill="#1565dc"/><path d="M359.1 400.7L361.6 405.0H356.6Z" fill="#1565dc"/><path d="M359.1 407.0L361.6 411.3H356.6Z" fill="#1565dc"/><path d="M359.1 398.0L361.6 402.3H356.6Z" fill="#1565dc"/><path d="M359.5 397.9L362.0 402.2H357.0Z" fill="#1565dc"/><path d="M359.5 412.9L362.0 417.2H357.0Z" fill="#1565dc"/><path d="M359.5 398.3L362.0 402.6H357.0Z" fill="#1565dc"/><path d="M359.9 398.9L362.4 403.2H357.4Z" fill="#1565dc"/><path d="M359.9 413.3L362.4 417.6H357.4Z" fill="#1565dc"/><path d="M359.9 397.6L362.4 401.9H357.4Z" fill="#1565dc"/><path d="M360.3 410.9L362.8 415.2H357.8Z" fill="#1565dc"/><path d="M360.3 409.3L362.8 413.6H357.8Z" fill="#1565dc"/><path d="M360.3 387.1L362.8 391.4H357.8Z" fill="#1565dc"/><path d="M360.6 399.3L363.1 403.6H358.1Z" fill="#1565dc"/><path d="M360.6 398.8L363.1 403.1H358.1Z" fill="#1565dc"/><path d="M360.6 391.7L363.1 396.0H358.1Z" fill="#1565dc"/><path d="M361.0 407.6L363.5 411.9H358.5Z" fill="#1565dc"/><path d="M361.0 405.2L363.5 409.5H358.5Z" fill="#1565dc"/><path d="M361.4 407.8L363.9 412.1H358.9Z" fill="#1565dc"/><path d="M361.4 400.7L363.9 405.0H358.9Z" fill="#1565dc"/><path d="M361.8 405.4L364.3 409.7H359.3Z" fill="#1565dc"/><path d="M362.2 400.3L364.7 404.6H359.7Z" fill="#1565dc"/><path d="M362.2 399.9L364.7 404.2H359.7Z" fill="#1565dc"/><path d="M362.6 404.2L365.1 408.5H360.1Z" fill="#1565dc"/><path d="M362.9 404.9L365.4 409.2H360.4Z" fill="#1565dc"/><path d="M362.9 405.2L365.4 409.5H360.4Z" fill="#1565dc"/><path d="M362.9 385.2L365.4 389.5H360.4Z" fill="#1565dc"/><path d="M363.3 408.0L365.8 412.3H360.8Z" fill="#1565dc"/><path d="M363.3 402.6L365.8 406.9H360.8Z" fill="#1565dc"/><path d="M363.3 394.5L365.8 398.8H360.8Z" fill="#1565dc"/><path d="M363.7 407.7L366.2 412.0H361.2Z" fill="#1565dc"/><path d="M363.7 402.2L366.2 406.5H361.2Z" fill="#1565dc"/><path d="M363.7 391.3L366.2 395.6H361.2Z" fill="#1565dc"/><path d="M364.1 407.7L366.6 412.0H361.6Z" fill="#1565dc"/><path d="M364.1 405.0L366.6 409.3H361.6Z" fill="#1565dc"/><path d="M364.1 395.5L366.6 399.8H361.6Z" fill="#1565dc"/><path d="M364.5 398.3L367.0 402.6H362.0Z" fill="#1565dc"/><path d="M364.5 404.6L367.0 408.9H362.0Z" fill="#1565dc"/><path d="M364.9 410.9L367.4 415.2H362.4Z" fill="#1565dc"/><path d="M364.9 407.3L367.4 411.6H362.4Z" fill="#1565dc"/><path d="M365.2 398.7L367.7 403.0H362.7Z" fill="#1565dc"/><path d="M365.2 406.9L367.7 411.2H362.7Z" fill="#1565dc"/><path d="M365.6 407.1L368.1 411.4H363.1Z" fill="#1565dc"/><path d="M365.6 413.7L368.1 418.0H363.1Z" fill="#1565dc"/><path d="M365.6 388.4L368.1 392.7H363.1Z" fill="#1565dc"/><path d="M366.0 408.4L368.5 412.7H363.5Z" fill="#1565dc"/><path d="M366.0 408.3L368.5 412.6H363.5Z" fill="#1565dc"/><path d="M366.4 411.3L368.9 415.6H363.9Z" fill="#1565dc"/><path d="M366.4 401.2L368.9 405.5H363.9Z" fill="#1565dc"/><path d="M366.8 405.4L369.3 409.7H364.3Z" fill="#1565dc"/><path d="M367.2 412.5L369.7 416.8H364.7Z" fill="#1565dc"/><path d="M367.2 409.9L369.7 414.2H364.7Z" fill="#1565dc"/><path d="M367.6 411.9L370.1 416.2H365.1Z" fill="#1565dc"/><path d="M367.6 397.8L370.1 402.1H365.1Z" fill="#1565dc"/><path d="M367.6 383.4L370.1 387.7H365.1Z" fill="#1565dc"/><path d="M367.9 397.5L370.4 401.8H365.4Z" fill="#1565dc"/><path d="M368.3 409.9L370.8 414.2H365.8Z" fill="#1565dc"/><path d="M368.7 397.6L371.2 401.9H366.2Z" fill="#1565dc"/><path d="M368.7 398.4L371.2 402.7H366.2Z" fill="#1565dc"/><path d="M369.1 400.6L371.6 404.9H366.6Z" fill="#1565dc"/><path d="M369.1 413.6L371.6 417.9H366.6Z" fill="#1565dc"/><path d="M369.1 393.2L371.6 397.5H366.6Z" fill="#1565dc"/><path d="M369.5 404.5L372.0 408.8H367.0Z" fill="#1565dc"/><path d="M369.5 408.4L372.0 412.7H367.0Z" fill="#1565dc"/><path d="M369.9 407.1L372.4 411.4H367.4Z" fill="#1565dc"/><path d="M369.9 403.6L372.4 407.9H367.4Z" fill="#1565dc"/><path d="M370.2 407.2L372.7 411.5H367.7Z" fill="#1565dc"/><path d="M370.2 391.3L372.7 395.6H367.7Z" fill="#1565dc"/><path d="M370.6 408.6L373.1 412.9H368.1Z" fill="#1565dc"/><path d="M370.6 387.8L373.1 392.1H368.1Z" fill="#1565dc"/><path d="M371.0 404.1L373.5 408.4H368.5Z" fill="#1565dc"/><path d="M371.0 412.8L373.5 417.1H368.5Z" fill="#1565dc"/><path d="M371.0 393.6L373.5 397.9H368.5Z" fill="#1565dc"/><path d="M371.4 408.9L373.9 413.2H368.9Z" fill="#1565dc"/><path d="M371.4 407.4L373.9 411.7H368.9Z" fill="#1565dc"/><path d="M371.4 398.7L373.9 403.0H368.9Z" fill="#1565dc"/><path d="M371.8 400.6L374.3 404.9H369.3Z" fill="#1565dc"/><path d="M371.8 410.3L374.3 414.6H369.3Z" fill="#1565dc"/><path d="M372.2 413.9L374.7 418.2H369.7Z" fill="#1565dc"/><path d="M372.2 396.1L374.7 400.4H369.7Z" fill="#1565dc"/><path d="M372.5 404.2L375.0 408.5H370.0Z" fill="#1565dc"/><path d="M372.5 413.2L375.0 417.5H370.0Z" fill="#1565dc"/><path d="M372.5 383.6L375.0 387.9H370.0Z" fill="#1565dc"/><path d="M372.9 410.5L375.4 414.8H370.4Z" fill="#1565dc"/><path d="M372.9 409.0L375.4 413.3H370.4Z" fill="#1565dc"/><path d="M373.3 411.1L375.8 415.4H370.8Z" fill="#1565dc"/><path d="M373.3 399.4L375.8 403.7H370.8Z" fill="#1565dc"/><path d="M373.7 408.7L376.2 413.0H371.2Z" fill="#1565dc"/><path d="M373.7 399.0L376.2 403.3H371.2Z" fill="#1565dc"/><path d="M374.1 412.6L376.6 416.9H371.6Z" fill="#1565dc"/><path d="M374.1 410.2L376.6 414.5H371.6Z" fill="#1565dc"/><path d="M374.1 388.2L376.6 392.5H371.6Z" fill="#1565dc"/><path d="M374.5 403.0L377.0 407.3H372.0Z" fill="#1565dc"/><path d="M374.5 399.3L377.0 403.6H372.0Z" fill="#1565dc"/><path d="M374.8 403.3L377.3 407.6H372.3Z" fill="#1565dc"/><path d="M374.8 412.4L377.3 416.7H372.3Z" fill="#1565dc"/><path d="M375.2 409.8L377.7 414.1H372.7Z" fill="#1565dc"/><path d="M375.2 400.6L377.7 404.9H372.7Z" fill="#1565dc"/><path d="M375.2 396.3L377.7 400.6H372.7Z" fill="#1565dc"/><path d="M375.6 413.4L378.1 417.7H373.1Z" fill="#1565dc"/><path d="M376.0 404.7L378.5 409.0H373.5Z" fill="#1565dc"/><path d="M376.0 403.3L378.5 407.6H373.5Z" fill="#1565dc"/><path d="M376.0 389.3L378.5 393.6H373.5Z" fill="#1565dc"/><path d="M376.4 405.3L378.9 409.6H373.9Z" fill="#1565dc"/><path d="M376.4 398.2L378.9 402.5H373.9Z" fill="#1565dc"/><path d="M376.4 386.5L378.9 390.8H373.9Z" fill="#1565dc"/><path d="M376.8 400.8L379.3 405.1H374.3Z" fill="#1565dc"/><path d="M376.8 410.0L379.3 414.3H374.3Z" fill="#1565dc"/><path d="M377.2 404.5L379.7 408.8H374.7Z" fill="#1565dc"/><path d="M377.2 399.5L379.7 403.8H374.7Z" fill="#1565dc"/><path d="M377.2 398.0L379.7 402.3H374.7Z" fill="#1565dc"/><path d="M377.5 398.9L380.0 403.2H375.0Z" fill="#1565dc"/><path d="M377.5 404.5L380.0 408.8H375.0Z" fill="#1565dc"/><path d="M377.9 405.2L380.4 409.5H375.4Z" fill="#1565dc"/><path d="M377.9 409.5L380.4 413.8H375.4Z" fill="#1565dc"/><path d="M378.3 400.9L380.8 405.2H375.8Z" fill="#1565dc"/><path d="M378.3 412.9L380.8 417.2H375.8Z" fill="#1565dc"/><path d="M378.3 395.0L380.8 399.3H375.8Z" fill="#1565dc"/><path d="M378.7 411.5L381.2 415.8H376.2Z" fill="#1565dc"/><path d="M379.1 406.9L381.6 411.2H376.6Z" fill="#1565dc"/><path d="M379.1 412.7L381.6 417.0H376.6Z" fill="#1565dc"/><path d="M379.1 381.0L381.6 385.3H376.6Z" fill="#1565dc"/><path d="M379.5 406.3L382.0 410.6H377.0Z" fill="#1565dc"/><path d="M379.5 398.5L382.0 402.8H377.0Z" fill="#1565dc"/><path d="M379.5 395.5L382.0 399.8H377.0Z" fill="#1565dc"/><path d="M379.8 408.2L382.3 412.5H377.3Z" fill="#1565dc"/><path d="M379.8 402.4L382.3 406.7H377.3Z" fill="#1565dc"/><path d="M380.2 401.0L382.7 405.3H377.7Z" fill="#1565dc"/><path d="M380.2 410.4L382.7 414.7H377.7Z" fill="#1565dc"/><path d="M380.2 397.6L382.7 401.9H377.7Z" fill="#1565dc"/><path d="M380.6 406.5L383.1 410.8H378.1Z" fill="#1565dc"/><path d="M380.6 397.5L383.1 401.8H378.1Z" fill="#1565dc"/><path d="M381.0 409.4L383.5 413.7H378.5Z" fill="#1565dc"/><path d="M381.0 413.6L383.5 417.9H378.5Z" fill="#1565dc"/><path d="M381.0 396.6L383.5 400.9H378.5Z" fill="#1565dc"/><path d="M381.4 411.4L383.9 415.7H378.9Z" fill="#1565dc"/><path d="M381.4 398.4L383.9 402.7H378.9Z" fill="#1565dc"/><path d="M381.4 386.9L383.9 391.2H378.9Z" fill="#1565dc"/><path d="M381.8 399.3L384.3 403.6H379.3Z" fill="#1565dc"/><path d="M381.8 408.5L384.3 412.8H379.3Z" fill="#1565dc"/><path d="M382.1 408.8L384.6 413.1H379.6Z" fill="#1565dc"/><path d="M382.1 406.9L384.6 411.2H379.6Z" fill="#1565dc"/><path d="M382.5 410.5L385.0 414.8H380.0Z" fill="#1565dc"/><path d="M382.5 409.3L385.0 413.6H380.0Z" fill="#1565dc"/><path d="M382.9 410.4L385.4 414.7H380.4Z" fill="#1565dc"/><path d="M382.9 413.2L385.4 417.5H380.4Z" fill="#1565dc"/><path d="M382.9 389.9L385.4 394.2H380.4Z" fill="#1565dc"/><path d="M383.3 398.7L385.8 403.0H380.8Z" fill="#1565dc"/><path d="M383.3 410.3L385.8 414.6H380.8Z" fill="#1565dc"/><path d="M383.7 406.9L386.2 411.2H381.2Z" fill="#1565dc"/><path d="M383.7 407.4L386.2 411.7H381.2Z" fill="#1565dc"/><path d="M383.7 394.7L386.2 399.0H381.2Z" fill="#1565dc"/><path d="M384.1 411.2L386.6 415.5H381.6Z" fill="#1565dc"/><path d="M384.1 402.9L386.6 407.2H381.6Z" fill="#1565dc"/><path d="M384.1 398.5L386.6 402.8H381.6Z" fill="#1565dc"/><path d="M384.4 402.3L386.9 406.6H381.9Z" fill="#1565dc"/><path d="M384.4 413.5L386.9 417.8H381.9Z" fill="#1565dc"/><path d="M384.4 395.0L386.9 399.3H381.9Z" fill="#1565dc"/><path d="M384.8 409.7L387.3 414.0H382.3Z" fill="#1565dc"/><path d="M384.8 413.5L387.3 417.8H382.3Z" fill="#1565dc"/><path d="M384.8 383.7L387.3 388.0H382.3Z" fill="#1565dc"/><path d="M385.2 398.1L387.7 402.4H382.7Z" fill="#1565dc"/><path d="M385.2 407.9L387.7 412.2H382.7Z" fill="#1565dc"/><path d="M385.6 407.1L388.1 411.4H383.1Z" fill="#1565dc"/><path d="M385.6 409.4L388.1 413.7H383.1Z" fill="#1565dc"/><path d="M386.0 408.8L388.5 413.1H383.5Z" fill="#1565dc"/><path d="M386.0 408.0L388.5 412.3H383.5Z" fill="#1565dc"/><path d="M386.4 407.4L388.9 411.7H383.9Z" fill="#1565dc"/><path d="M386.4 410.0L388.9 414.3H383.9Z" fill="#1565dc"/><path d="M386.8 397.9L389.3 402.2H384.3Z" fill="#1565dc"/><path d="M386.8 408.4L389.3 412.7H384.3Z" fill="#1565dc"/><path d="M386.8 383.9L389.3 388.2H384.3Z" fill="#1565dc"/><path d="M387.1 400.3L389.6 404.6H384.6Z" fill="#1565dc"/><path d="M387.1 390.1L389.6 394.4H384.6Z" fill="#1565dc"/><path d="M387.5 410.0L390.0 414.3H385.0Z" fill="#1565dc"/><path d="M387.5 409.8L390.0 414.1H385.0Z" fill="#1565dc"/><path d="M387.5 397.7L390.0 402.0H385.0Z" fill="#1565dc"/><path d="M387.9 406.5L390.4 410.8H385.4Z" fill="#1565dc"/><path d="M387.9 401.2L390.4 405.5H385.4Z" fill="#1565dc"/><path d="M388.3 400.8L390.8 405.1H385.8Z" fill="#1565dc"/><path d="M388.3 407.4L390.8 411.7H385.8Z" fill="#1565dc"/><path d="M388.7 400.2L391.2 404.5H386.2Z" fill="#1565dc"/><path d="M388.7 404.5L391.2 408.8H386.2Z" fill="#1565dc"/><path d="M388.7 388.2L391.2 392.5H386.2Z" fill="#1565dc"/><path d="M389.1 410.1L391.6 414.4H386.6Z" fill="#1565dc"/><path d="M389.1 410.9L391.6 415.2H386.6Z" fill="#1565dc"/><path d="M389.1 390.9L391.6 395.2H386.6Z" fill="#1565dc"/><path d="M389.4 407.4L391.9 411.7H386.9Z" fill="#1565dc"/><path d="M389.4 398.5L391.9 402.8H386.9Z" fill="#1565dc"/><path d="M389.8 411.9L392.3 416.2H387.3Z" fill="#1565dc"/><path d="M389.8 399.0L392.3 403.3H387.3Z" fill="#1565dc"/><path d="M390.2 409.2L392.7 413.5H387.7Z" fill="#1565dc"/><path d="M390.2 407.4L392.7 411.7H387.7Z" fill="#1565dc"/><path d="M390.6 411.5L393.1 415.8H388.1Z" fill="#1565dc"/><path d="M390.6 411.0L393.1 415.3H388.1Z" fill="#1565dc"/><path d="M390.6 382.6L393.1 386.9H388.1Z" fill="#1565dc"/><path d="M391.0 403.6L393.5 407.9H388.5Z" fill="#1565dc"/><path d="M391.0 409.4L393.5 413.7H388.5Z" fill="#1565dc"/><path d="M391.0 393.0L393.5 397.3H388.5Z" fill="#1565dc"/><path d="M391.4 412.6L393.9 416.9H388.9Z" fill="#1565dc"/><path d="M391.4 410.9L393.9 415.2H388.9Z" fill="#1565dc"/><path d="M391.7 400.6L394.2 404.9H389.2Z" fill="#1565dc"/><path d="M391.7 407.4L394.2 411.7H389.2Z" fill="#1565dc"/><path d="M391.7 391.6L394.2 395.9H389.2Z" fill="#1565dc"/><path d="M392.1 406.6L394.6 410.9H389.6Z" fill="#1565dc"/><path d="M392.5 401.5L395.0 405.8H390.0Z" fill="#1565dc"/><path d="M392.5 408.8L395.0 413.1H390.0Z" fill="#1565dc"/><path d="M392.9 401.8L395.4 406.1H390.4Z" fill="#1565dc"/><path d="M392.9 407.3L395.4 411.6H390.4Z" fill="#1565dc"/><path d="M393.3 402.3L395.8 406.6H390.8Z" fill="#1565dc"/><path d="M393.3 409.8L395.8 414.1H390.8Z" fill="#1565dc"/><path d="M393.7 407.9L396.2 412.2H391.2Z" fill="#1565dc"/><path d="M393.7 403.4L396.2 407.7H391.2Z" fill="#1565dc"/><path d="M393.7 396.4L396.2 400.7H391.2Z" fill="#1565dc"/><path d="M394.0 401.6L396.5 405.9H391.5Z" fill="#1565dc"/><path d="M394.0 404.9L396.5 409.2H391.5Z" fill="#1565dc"/><path d="M394.4 405.6L396.9 409.9H391.9Z" fill="#1565dc"/><path d="M394.4 407.3L396.9 411.6H391.9Z" fill="#1565dc"/><path d="M394.4 391.9L396.9 396.2H391.9Z" fill="#1565dc"/><path d="M394.8 412.1L397.3 416.4H392.3Z" fill="#1565dc"/><path d="M394.8 397.6L397.3 401.9H392.3Z" fill="#1565dc"/><path d="M394.8 381.9L397.3 386.2H392.3Z" fill="#1565dc"/><path d="M395.2 398.3L397.7 402.6H392.7Z" fill="#1565dc"/><path d="M395.2 408.6L397.7 412.9H392.7Z" fill="#1565dc"/><path d="M395.2 395.2L397.7 399.5H392.7Z" fill="#1565dc"/><path d="M395.6 410.4L398.1 414.7H393.1Z" fill="#1565dc"/><path d="M395.6 403.7L398.1 408.0H393.1Z" fill="#1565dc"/><path d="M396.0 400.1L398.5 404.4H393.5Z" fill="#1565dc"/><path d="M396.0 402.5L398.5 406.8H393.5Z" fill="#1565dc"/><path d="M396.4 405.4L398.9 409.7H393.9Z" fill="#1565dc"/><path d="M396.4 413.4L398.9 417.7H393.9Z" fill="#1565dc"/><path d="M396.7 406.2L399.2 410.5H394.2Z" fill="#1565dc"/><path d="M396.7 397.5L399.2 401.8H394.2Z" fill="#1565dc"/><path d="M397.1 411.8L399.6 416.1H394.6Z" fill="#1565dc"/><path d="M397.5 400.2L400.0 404.5H395.0Z" fill="#1565dc"/><path d="M397.9 400.6L400.4 404.9H395.4Z" fill="#1565dc"/><path d="M397.9 406.4L400.4 410.7H395.4Z" fill="#1565dc"/><path d="M398.3 405.8L400.8 410.1H395.8Z" fill="#1565dc"/><path d="M398.3 409.9L400.8 414.2H395.8Z" fill="#1565dc"/><path d="M398.7 411.4L401.2 415.7H396.2Z" fill="#1565dc"/><path d="M398.7 407.9L401.2 412.2H396.2Z" fill="#1565dc"/><path d="M398.7 398.9L401.2 403.2H396.2Z" fill="#1565dc"/><path d="M399.0 399.9L401.5 404.2H396.5Z" fill="#1565dc"/><path d="M399.0 403.7L401.5 408.0H396.5Z" fill="#1565dc"/><path d="M399.4 410.7L401.9 415.0H396.9Z" fill="#1565dc"/><path d="M399.4 402.9L401.9 407.2H396.9Z" fill="#1565dc"/><path d="M399.4 399.0L401.9 403.3H396.9Z" fill="#1565dc"/><path d="M399.8 402.4L402.3 406.7H397.3Z" fill="#1565dc"/><path d="M399.8 410.9L402.3 415.2H397.3Z" fill="#1565dc"/><path d="M399.8 388.5L402.3 392.8H397.3Z" fill="#1565dc"/><path d="M400.2 410.7L402.7 415.0H397.7Z" fill="#1565dc"/><path d="M400.2 397.5L402.7 401.8H397.7Z" fill="#1565dc"/><path d="M400.6 400.4L403.1 404.7H398.1Z" fill="#1565dc"/><path d="M400.6 407.2L403.1 411.5H398.1Z" fill="#1565dc"/><path d="M401.0 399.5L403.5 403.8H398.5Z" fill="#1565dc"/><path d="M401.0 409.2L403.5 413.5H398.5Z" fill="#1565dc"/><path d="M401.3 404.0L403.8 408.3H398.8Z" fill="#1565dc"/><path d="M401.3 406.5L403.8 410.8H398.8Z" fill="#1565dc"/><path d="M401.3 394.1L403.8 398.4H398.8Z" fill="#1565dc"/><path d="M401.7 402.8L404.2 407.1H399.2Z" fill="#1565dc"/><path d="M401.7 409.9L404.2 414.2H399.2Z" fill="#1565dc"/><path d="M401.7 398.2L404.2 402.5H399.2Z" fill="#1565dc"/><path d="M402.1 404.2L404.6 408.5H399.6Z" fill="#1565dc"/><path d="M402.5 408.2L405.0 412.5H400.0Z" fill="#1565dc"/><path d="M402.5 399.1L405.0 403.4H400.0Z" fill="#1565dc"/><path d="M402.9 403.9L405.4 408.2H400.4Z" fill="#1565dc"/><path d="M402.9 397.9L405.4 402.2H400.4Z" fill="#1565dc"/><path d="M403.3 397.4L405.8 401.7H400.8Z" fill="#1565dc"/><path d="M403.3 412.8L405.8 417.1H400.8Z" fill="#1565dc"/><path d="M403.6 407.4L406.1 411.7H401.1Z" fill="#1565dc"/><path d="M403.6 401.7L406.1 406.0H401.1Z" fill="#1565dc"/><path d="M403.6 397.8L406.1 402.1H401.1Z" fill="#1565dc"/><path d="M404.0 401.8L406.5 406.1H401.5Z" fill="#1565dc"/><path d="M404.0 401.1L406.5 405.4H401.5Z" fill="#1565dc"/><path d="M404.0 393.2L406.5 397.5H401.5Z" fill="#1565dc"/><path d="M404.4 405.1L406.9 409.4H401.9Z" fill="#1565dc"/><path d="M404.4 412.1L406.9 416.4H401.9Z" fill="#1565dc"/><path d="M404.8 409.1L407.3 413.4H402.3Z" fill="#1565dc"/><path d="M404.8 401.1L407.3 405.4H402.3Z" fill="#1565dc"/><path d="M404.8 394.2L407.3 398.5H402.3Z" fill="#1565dc"/><path d="M405.2 412.2L407.7 416.5H402.7Z" fill="#1565dc"/><path d="M405.6 399.6L408.1 403.9H403.1Z" fill="#1565dc"/><path d="M405.6 398.0L408.1 402.3H403.1Z" fill="#1565dc"/><path d="M405.6 399.0L408.1 403.3H403.1Z" fill="#1565dc"/><path d="M406.0 405.1L408.5 409.4H403.5Z" fill="#1565dc"/><path d="M406.0 413.4L408.5 417.7H403.5Z" fill="#1565dc"/><path d="M406.0 396.0L408.5 400.3H403.5Z" fill="#1565dc"/><path d="M406.3 409.6L408.8 413.9H403.8Z" fill="#1565dc"/><path d="M406.3 412.1L408.8 416.4H403.8Z" fill="#1565dc"/><path d="M406.7 404.5L409.2 408.8H404.2Z" fill="#1565dc"/><path d="M407.1 406.8L409.6 411.1H404.6Z" fill="#1565dc"/><path d="M407.1 406.0L409.6 410.3H404.6Z" fill="#1565dc"/><path d="M407.1 393.9L409.6 398.2H404.6Z" fill="#1565dc"/><path d="M407.5 410.2L410.0 414.5H405.0Z" fill="#1565dc"/><path d="M407.5 412.3L410.0 416.6H405.0Z" fill="#1565dc"/><path d="M407.5 395.8L410.0 400.1H405.0Z" fill="#1565dc"/><path d="M407.9 407.2L410.4 411.5H405.4Z" fill="#1565dc"/><path d="M407.9 397.9L410.4 402.2H405.4Z" fill="#1565dc"/><path d="M407.9 390.7L410.4 395.0H405.4Z" fill="#1565dc"/><path d="M408.3 403.8L410.8 408.1H405.8Z" fill="#1565dc"/><path d="M408.3 404.2L410.8 408.5H405.8Z" fill="#1565dc"/><path d="M408.3 392.7L410.8 397.0H405.8Z" fill="#1565dc"/><path d="M408.6 400.8L411.1 405.1H406.1Z" fill="#1565dc"/><path d="M408.6 406.9L411.1 411.2H406.1Z" fill="#1565dc"/><path d="M409.0 408.5L411.5 412.8H406.5Z" fill="#1565dc"/><path d="M409.0 408.7L411.5 413.0H406.5Z" fill="#1565dc"/><path d="M409.4 398.6L411.9 402.9H406.9Z" fill="#1565dc"/><path d="M409.4 403.4L411.9 407.7H406.9Z" fill="#1565dc"/><path d="M409.4 382.6L411.9 386.9H406.9Z" fill="#1565dc"/><path d="M409.8 397.7L412.3 402.0H407.3Z" fill="#1565dc"/><path d="M409.8 398.8L412.3 403.1H407.3Z" fill="#1565dc"/><path d="M409.8 386.5L412.3 390.8H407.3Z" fill="#1565dc"/><path d="M410.2 408.6L412.7 412.9H407.7Z" fill="#1565dc"/><path d="M410.2 401.8L412.7 406.1H407.7Z" fill="#1565dc"/><path d="M410.2 398.3L412.7 402.6H407.7Z" fill="#1565dc"/><path d="M410.6 398.2L413.1 402.5H408.1Z" fill="#1565dc"/><path d="M410.6 404.7L413.1 409.0H408.1Z" fill="#1565dc"/><path d="M410.9 399.5L413.4 403.8H408.4Z" fill="#1565dc"/><path d="M410.9 406.1L413.4 410.4H408.4Z" fill="#1565dc"/><path d="M410.9 393.9L413.4 398.2H408.4Z" fill="#1565dc"/><path d="M411.3 407.5L413.8 411.8H408.8Z" fill="#1565dc"/><path d="M411.3 401.0L413.8 405.3H408.8Z" fill="#1565dc"/><path d="M411.3 387.4L413.8 391.7H408.8Z" fill="#1565dc"/><path d="M411.7 405.3L414.2 409.6H409.2Z" fill="#1565dc"/><path d="M411.7 407.5L414.2 411.8H409.2Z" fill="#1565dc"/><path d="M412.1 408.5L414.6 412.8H409.6Z" fill="#1565dc"/><path d="M412.5 412.9L415.0 417.2H410.0Z" fill="#1565dc"/><path d="M412.5 400.3L415.0 404.6H410.0Z" fill="#1565dc"/><path d="M412.5 388.0L415.0 392.3H410.0Z" fill="#1565dc"/><path d="M412.9 406.4L415.4 410.7H410.4Z" fill="#1565dc"/><path d="M413.2 402.4L415.7 406.7H410.7Z" fill="#1565dc"/><path d="M413.2 404.5L415.7 408.8H410.7Z" fill="#1565dc"/><path d="M413.6 412.3L416.1 416.6H411.1Z" fill="#1565dc"/><path d="M413.6 401.0L416.1 405.3H411.1Z" fill="#1565dc"/><path d="M413.6 397.4L416.1 401.7H411.1Z" fill="#1565dc"/><path d="M414.0 398.6L416.5 402.9H411.5Z" fill="#1565dc"/><path d="M414.4 401.9L416.9 406.2H411.9Z" fill="#1565dc"/><path d="M414.4 396.8L416.9 401.1H411.9Z" fill="#1565dc"/><path d="M414.8 409.2L417.3 413.5H412.3Z" fill="#1565dc"/><path d="M414.8 409.3L417.3 413.6H412.3Z" fill="#1565dc"/><path d="M415.2 404.9L417.7 409.2H412.7Z" fill="#1565dc"/><path d="M415.2 401.8L417.7 406.1H412.7Z" fill="#1565dc"/><path d="M415.6 398.4L418.1 402.7H413.1Z" fill="#1565dc"/><path d="M415.6 407.9L418.1 412.2H413.1Z" fill="#1565dc"/><path d="M415.9 404.6L418.4 408.9H413.4Z" fill="#1565dc"/><path d="M415.9 408.2L418.4 412.5H413.4Z" fill="#1565dc"/><path d="M415.9 382.2L418.4 386.5H413.4Z" fill="#1565dc"/><path d="M416.3 397.6L418.8 401.9H413.8Z" fill="#1565dc"/><path d="M416.3 408.8L418.8 413.1H413.8Z" fill="#1565dc"/><path d="M416.7 399.8L419.2 404.1H414.2Z" fill="#1565dc"/><path d="M416.7 400.9L419.2 405.2H414.2Z" fill="#1565dc"/><path d="M417.1 410.7L419.6 415.0H414.6Z" fill="#1565dc"/><path d="M417.1 402.3L419.6 406.6H414.6Z" fill="#1565dc"/><path d="M417.1 392.9L419.6 397.2H414.6Z" fill="#1565dc"/><path d="M417.5 409.0L420.0 413.3H415.0Z" fill="#1565dc"/><path d="M417.5 408.4L420.0 412.7H415.0Z" fill="#1565dc"/><path d="M417.9 398.5L420.4 402.8H415.4Z" fill="#1565dc"/><path d="M417.9 392.8L420.4 397.1H415.4Z" fill="#1565dc"/><path d="M418.2 412.5L420.7 416.8H415.7Z" fill="#1565dc"/><path d="M418.6 413.4L421.1 417.7H416.1Z" fill="#1565dc"/><path d="M418.6 400.2L421.1 404.5H416.1Z" fill="#1565dc"/><path d="M419.0 412.8L421.5 417.1H416.5Z" fill="#1565dc"/><path d="M419.0 400.8L421.5 405.1H416.5Z" fill="#1565dc"/><path d="M419.4 404.2L421.9 408.5H416.9Z" fill="#1565dc"/><path d="M419.4 405.2L421.9 409.5H416.9Z" fill="#1565dc"/><path d="M419.4 389.0L421.9 393.3H416.9Z" fill="#1565dc"/><path d="M419.8 406.0L422.3 410.3H417.3Z" fill="#1565dc"/><path d="M419.8 401.0L422.3 405.3H417.3Z" fill="#1565dc"/><path d="M419.8 396.9L422.3 401.2H417.3Z" fill="#1565dc"/><path d="M420.2 410.9L422.7 415.2H417.7Z" fill="#1565dc"/><path d="M420.2 396.0L422.7 400.3H417.7Z" fill="#1565dc"/><path d="M420.5 412.6L423.0 416.9H418.0Z" fill="#1565dc"/><path d="M420.5 401.3L423.0 405.6H418.0Z" fill="#1565dc"/><path d="M420.5 397.2L423.0 401.5H418.0Z" fill="#1565dc"/><path d="M420.9 407.5L423.4 411.8H418.4Z" fill="#1565dc"/><path d="M420.9 386.3L423.4 390.6H418.4Z" fill="#1565dc"/><path d="M421.3 404.1L423.8 408.4H418.8Z" fill="#1565dc"/><path d="M421.3 401.7L423.8 406.0H418.8Z" fill="#1565dc"/><path d="M421.7 410.5L424.2 414.8H419.2Z" fill="#1565dc"/><path d="M421.7 399.4L424.2 403.7H419.2Z" fill="#1565dc"/><path d="M422.1 410.7L424.6 415.0H419.6Z" fill="#1565dc"/><path d="M422.1 388.9L424.6 393.2H419.6Z" fill="#1565dc"/><path d="M422.5 411.9L425.0 416.2H420.0Z" fill="#1565dc"/><path d="M422.5 409.4L425.0 413.7H420.0Z" fill="#1565dc"/><path d="M422.8 405.0L425.3 409.3H420.3Z" fill="#1565dc"/><path d="M422.8 404.5L425.3 408.8H420.3Z" fill="#1565dc"/><path d="M423.2 398.6L425.7 402.9H420.7Z" fill="#1565dc"/><path d="M423.2 405.6L425.7 409.9H420.7Z" fill="#1565dc"/><path d="M423.2 395.6L425.7 399.9H420.7Z" fill="#1565dc"/><path d="M423.6 404.0L426.1 408.3H421.1Z" fill="#1565dc"/><path d="M423.6 399.9L426.1 404.2H421.1Z" fill="#1565dc"/><path d="M424.0 413.1L426.5 417.4H421.5Z" fill="#1565dc"/><path d="M424.0 411.2L426.5 415.5H421.5Z" fill="#1565dc"/><path d="M424.0 387.6L426.5 391.9H421.5Z" fill="#1565dc"/><path d="M424.4 406.2L426.9 410.5H421.9Z" fill="#1565dc"/><path d="M424.4 410.9L426.9 415.2H421.9Z" fill="#1565dc"/><path d="M424.4 396.0L426.9 400.3H421.9Z" fill="#1565dc"/><path d="M424.8 408.0L427.3 412.3H422.3Z" fill="#1565dc"/><path d="M424.8 399.3L427.3 403.6H422.3Z" fill="#1565dc"/><path d="M425.2 398.5L427.7 402.8H422.7Z" fill="#1565dc"/><path d="M425.2 399.8L427.7 404.1H422.7Z" fill="#1565dc"/><path d="M425.5 402.0L428.0 406.3H423.0Z" fill="#1565dc"/><path d="M425.5 410.0L428.0 414.3H423.0Z" fill="#1565dc"/><path d="M425.9 404.7L428.4 409.0H423.4Z" fill="#1565dc"/><path d="M425.9 405.7L428.4 410.0H423.4Z" fill="#1565dc"/><path d="M426.3 403.5L428.8 407.8H423.8Z" fill="#1565dc"/><path d="M426.3 406.3L428.8 410.6H423.8Z" fill="#1565dc"/><path d="M426.3 392.7L428.8 397.0H423.8Z" fill="#1565dc"/><path d="M426.7 412.5L429.2 416.8H424.2Z" fill="#1565dc"/><path d="M426.7 400.7L429.2 405.0H424.2Z" fill="#1565dc"/><path d="M426.7 385.3L429.2 389.6H424.2Z" fill="#1565dc"/><path d="M427.1 404.7L429.6 409.0H424.6Z" fill="#1565dc"/><path d="M427.1 398.3L429.6 402.6H424.6Z" fill="#1565dc"/><path d="M427.5 410.7L430.0 415.0H425.0Z" fill="#1565dc"/><path d="M427.5 410.4L430.0 414.7H425.0Z" fill="#1565dc"/><path d="M427.8 402.2L430.3 406.5H425.3Z" fill="#1565dc"/><path d="M427.8 400.5L430.3 404.8H425.3Z" fill="#1565dc"/><path d="M428.2 405.5L430.7 409.8H425.7Z" fill="#1565dc"/><path d="M428.2 408.2L430.7 412.5H425.7Z" fill="#1565dc"/><path d="M428.6 402.9L431.1 407.2H426.1Z" fill="#1565dc"/><path d="M428.6 412.1L431.1 416.4H426.1Z" fill="#1565dc"/><path d="M429.0 403.6L431.5 407.9H426.5Z" fill="#1565dc"/><path d="M429.0 387.8L431.5 392.1H426.5Z" fill="#1565dc"/><path d="M429.4 398.3L431.9 402.6H426.9Z" fill="#1565dc"/><path d="M429.4 403.4L431.9 407.7H426.9Z" fill="#1565dc"/><path d="M429.8 403.1L432.3 407.4H427.3Z" fill="#1565dc"/><path d="M429.8 401.1L432.3 405.4H427.3Z" fill="#1565dc"/><path d="M430.1 398.3L432.6 402.6H427.6Z" fill="#1565dc"/><path d="M430.1 408.5L432.6 412.8H427.6Z" fill="#1565dc"/><path d="M430.5 401.1L433.0 405.4H428.0Z" fill="#1565dc"/><path d="M430.5 396.4L433.0 400.7H428.0Z" fill="#1565dc"/><path d="M430.9 401.6L433.4 405.9H428.4Z" fill="#1565dc"/><path d="M430.9 409.8L433.4 414.1H428.4Z" fill="#1565dc"/><path d="M430.9 391.0L433.4 395.3H428.4Z" fill="#1565dc"/><path d="M431.3 398.2L433.8 402.5H428.8Z" fill="#1565dc"/><path d="M431.3 403.3L433.8 407.6H428.8Z" fill="#1565dc"/><path d="M431.3 394.3L433.8 398.6H428.8Z" fill="#1565dc"/><path d="M431.7 401.3L434.2 405.6H429.2Z" fill="#1565dc"/><path d="M431.7 404.7L434.2 409.0H429.2Z" fill="#1565dc"/><path d="M432.1 410.8L434.6 415.1H429.6Z" fill="#1565dc"/><path d="M432.1 401.3L434.6 405.6H429.6Z" fill="#1565dc"/><path d="M432.1 398.0L434.6 402.3H429.6Z" fill="#1565dc"/><path d="M432.4 401.2L434.9 405.5H429.9Z" fill="#1565dc"/><path d="M432.4 403.2L434.9 407.5H429.9Z" fill="#1565dc"/><path d="M432.8 413.0L435.3 417.3H430.3Z" fill="#1565dc"/><path d="M432.8 396.5L435.3 400.8H430.3Z" fill="#1565dc"/><path d="M433.2 407.3L435.7 411.6H430.7Z" fill="#1565dc"/><path d="M433.2 403.2L435.7 407.5H430.7Z" fill="#1565dc"/><path d="M433.6 412.7L436.1 417.0H431.1Z" fill="#1565dc"/><path d="M433.6 407.5L436.1 411.8H431.1Z" fill="#1565dc"/><path d="M434.0 411.9L436.5 416.2H431.5Z" fill="#1565dc"/><path d="M434.0 397.2L436.5 401.5H431.5Z" fill="#1565dc"/><path d="M434.4 400.8L436.9 405.1H431.9Z" fill="#1565dc"/><path d="M434.4 402.2L436.9 406.5H431.9Z" fill="#1565dc"/><path d="M434.4 395.0L436.9 399.3H431.9Z" fill="#1565dc"/><path d="M434.8 401.1L437.3 405.4H432.3Z" fill="#1565dc"/><path d="M434.8 406.4L437.3 410.7H432.3Z" fill="#1565dc"/><path d="M435.1 407.3L437.6 411.6H432.6Z" fill="#1565dc"/><path d="M435.1 402.8L437.6 407.1H432.6Z" fill="#1565dc"/><path d="M435.5 406.7L438.0 411.0H433.0Z" fill="#1565dc"/><path d="M435.5 403.1L438.0 407.4H433.0Z" fill="#1565dc"/><path d="M435.5 386.7L438.0 391.0H433.0Z" fill="#1565dc"/><path d="M435.9 409.6L438.4 413.9H433.4Z" fill="#1565dc"/><path d="M435.9 403.8L438.4 408.1H433.4Z" fill="#1565dc"/><path d="M435.9 394.5L438.4 398.8H433.4Z" fill="#1565dc"/><path d="M436.3 400.1L438.8 404.4H433.8Z" fill="#1565dc"/><path d="M436.3 407.5L438.8 411.8H433.8Z" fill="#1565dc"/><path d="M436.7 402.3L439.2 406.6H434.2Z" fill="#1565dc"/><path d="M436.7 404.6L439.2 408.9H434.2Z" fill="#1565dc"/><path d="M437.1 398.2L439.6 402.5H434.6Z" fill="#1565dc"/><path d="M437.1 409.4L439.6 413.7H434.6Z" fill="#1565dc"/><path d="M437.4 409.1L439.9 413.4H434.9Z" fill="#1565dc"/><path d="M437.4 400.6L439.9 404.9H434.9Z" fill="#1565dc"/><path d="M437.4 398.0L439.9 402.3H434.9Z" fill="#1565dc"/><path d="M437.8 398.2L440.3 402.5H435.3Z" fill="#1565dc"/><path d="M437.8 408.1L440.3 412.4H435.3Z" fill="#1565dc"/><path d="M438.2 409.4L440.7 413.7H435.7Z" fill="#1565dc"/><path d="M438.2 408.0L440.7 412.3H435.7Z" fill="#1565dc"/><path d="M438.6 409.8L441.1 414.1H436.1Z" fill="#1565dc"/><path d="M438.6 398.3L441.1 402.6H436.1Z" fill="#1565dc"/><path d="M439.0 400.4L441.5 404.7H436.5Z" fill="#1565dc"/><path d="M439.0 399.7L441.5 404.0H436.5Z" fill="#1565dc"/><path d="M439.0 388.3L441.5 392.6H436.5Z" fill="#1565dc"/><path d="M439.4 406.6L441.9 410.9H436.9Z" fill="#1565dc"/><path d="M439.4 400.5L441.9 404.8H436.9Z" fill="#1565dc"/><path d="M439.7 398.0L442.2 402.3H437.2Z" fill="#1565dc"/><path d="M439.7 408.3L442.2 412.6H437.2Z" fill="#1565dc"/><path d="M439.7 393.9L442.2 398.2H437.2Z" fill="#1565dc"/><path d="M440.1 410.3L442.6 414.6H437.6Z" fill="#1565dc"/><path d="M440.1 399.3L442.6 403.6H437.6Z" fill="#1565dc"/><path d="M440.5 400.0L443.0 404.3H438.0Z" fill="#1565dc"/><path d="M440.5 404.9L443.0 409.2H438.0Z" fill="#1565dc"/><path d="M440.9 412.9L443.4 417.2H438.4Z" fill="#1565dc"/><path d="M440.9 399.0L443.4 403.3H438.4Z" fill="#1565dc"/><path d="M441.3 406.2L443.8 410.5H438.8Z" fill="#1565dc"/><path d="M441.3 409.1L443.8 413.4H438.8Z" fill="#1565dc"/><path d="M441.7 408.8L444.2 413.1H439.2Z" fill="#1565dc"/><path d="M441.7 404.1L444.2 408.4H439.2Z" fill="#1565dc"/><path d="M441.7 398.4L444.2 402.7H439.2Z" fill="#1565dc"/><path d="M442.0 401.5L444.5 405.8H439.5Z" fill="#1565dc"/><path d="M442.4 405.6L444.9 409.9H439.9Z" fill="#1565dc"/><path d="M442.4 406.2L444.9 410.5H439.9Z" fill="#1565dc"/><path d="M442.8 413.4L445.3 417.7H440.3Z" fill="#1565dc"/><path d="M442.8 400.8L445.3 405.1H440.3Z" fill="#1565dc"/><path d="M443.2 402.5L445.7 406.8H440.7Z" fill="#1565dc"/><path d="M443.2 401.6L445.7 405.9H440.7Z" fill="#1565dc"/><path d="M443.6 400.1L446.1 404.4H441.1Z" fill="#1565dc"/><path d="M443.6 396.8L446.1 401.1H441.1Z" fill="#1565dc"/><path d="M444.0 405.4L446.5 409.7H441.5Z" fill="#1565dc"/><path d="M444.4 406.7L446.9 411.0H441.9Z" fill="#1565dc"/><path d="M444.7 410.3L447.2 414.6H442.2Z" fill="#1565dc"/><path d="M444.7 406.5L447.2 410.8H442.2Z" fill="#1565dc"/><path d="M445.1 410.4L447.6 414.7H442.6Z" fill="#1565dc"/><path d="M445.1 412.7L447.6 417.0H442.6Z" fill="#1565dc"/><path d="M445.5 400.5L448.0 404.8H443.0Z" fill="#1565dc"/><path d="M445.5 401.9L448.0 406.2H443.0Z" fill="#1565dc"/><path d="M445.9 398.1L448.4 402.4H443.4Z" fill="#1565dc"/><path d="M445.9 408.6L448.4 412.9H443.4Z" fill="#1565dc"/><path d="M445.9 385.3L448.4 389.6H443.4Z" fill="#1565dc"/><path d="M446.3 404.6L448.8 408.9H443.8Z" fill="#1565dc"/><path d="M446.3 407.6L448.8 411.9H443.8Z" fill="#1565dc"/><path d="M446.7 409.3L449.2 413.6H444.2Z" fill="#1565dc"/><path d="M446.7 398.8L449.2 403.1H444.2Z" fill="#1565dc"/><path d="M447.0 402.9L449.5 407.2H444.5Z" fill="#1565dc"/><path d="M447.4 405.1L449.9 409.4H444.9Z" fill="#1565dc"/><path d="M447.4 413.1L449.9 417.4H444.9Z" fill="#1565dc"/><path d="M447.4 381.3L449.9 385.6H444.9Z" fill="#1565dc"/><path d="M447.8 405.7L450.3 410.0H445.3Z" fill="#1565dc"/><path d="M447.8 405.7L450.3 410.0H445.3Z" fill="#1565dc"/><path d="M448.2 410.8L450.7 415.1H445.7Z" fill="#1565dc"/><path d="M448.2 406.2L450.7 410.5H445.7Z" fill="#1565dc"/><path d="M448.6 400.3L451.1 404.6H446.1Z" fill="#1565dc"/><path d="M448.6 411.5L451.1 415.8H446.1Z" fill="#1565dc"/><path d="M448.6 398.9L451.1 403.2H446.1Z" fill="#1565dc"/><path d="M449.0 398.8L451.5 403.1H446.5Z" fill="#1565dc"/><path d="M449.0 413.3L451.5 417.6H446.5Z" fill="#1565dc"/><path d="M449.0 396.3L451.5 400.6H446.5Z" fill="#1565dc"/><path d="M449.3 407.7L451.8 412.0H446.8Z" fill="#1565dc"/><path d="M449.3 411.4L451.8 415.7H446.8Z" fill="#1565dc"/><path d="M449.7 408.4L452.2 412.7H447.2Z" fill="#1565dc"/><path d="M449.7 413.8L452.2 418.1H447.2Z" fill="#1565dc"/><path d="M450.1 407.6L452.6 411.9H447.6Z" fill="#1565dc"/><path d="M450.1 402.2L452.6 406.5H447.6Z" fill="#1565dc"/><path d="M450.1 388.2L452.6 392.5H447.6Z" fill="#1565dc"/><path d="M450.5 398.6L453.0 402.9H448.0Z" fill="#1565dc"/><path d="M450.5 410.9L453.0 415.2H448.0Z" fill="#1565dc"/><path d="M450.5 384.7L453.0 389.0H448.0Z" fill="#1565dc"/><path d="M450.9 407.9L453.4 412.2H448.4Z" fill="#1565dc"/><path d="M451.3 400.0L453.8 404.3H448.8Z" fill="#1565dc"/><path d="M451.6 403.5L454.1 407.8H449.1Z" fill="#1565dc"/><path d="M451.6 409.3L454.1 413.6H449.1Z" fill="#1565dc"/><path d="M451.6 390.4L454.1 394.7H449.1Z" fill="#1565dc"/><path d="M452.0 407.9L454.5 412.2H449.5Z" fill="#1565dc"/><path d="M452.0 402.5L454.5 406.8H449.5Z" fill="#1565dc"/><path d="M452.0 384.8L454.5 389.1H449.5Z" fill="#1565dc"/><path d="M452.4 409.4L454.9 413.7H449.9Z" fill="#1565dc"/><path d="M452.4 397.5L454.9 401.8H449.9Z" fill="#1565dc"/><path d="M452.8 407.0L455.3 411.3H450.3Z" fill="#1565dc"/><path d="M452.8 394.5L455.3 398.8H450.3Z" fill="#1565dc"/><path d="M453.2 410.6L455.7 414.9H450.7Z" fill="#1565dc"/><path d="M453.6 397.9L456.1 402.2H451.1Z" fill="#1565dc"/><path d="M453.6 413.0L456.1 417.3H451.1Z" fill="#1565dc"/><path d="M453.6 398.9L456.1 403.2H451.1Z" fill="#1565dc"/><path d="M454.0 407.8L456.5 412.1H451.5Z" fill="#1565dc"/><path d="M454.0 389.7L456.5 394.0H451.5Z" fill="#1565dc"/><path d="M454.3 408.2L456.8 412.5H451.8Z" fill="#1565dc"/><path d="M454.3 411.9L456.8 416.2H451.8Z" fill="#1565dc"/><path d="M454.7 402.7L457.2 407.0H452.2Z" fill="#1565dc"/><path d="M455.1 406.0L457.6 410.3H452.6Z" fill="#1565dc"/><path d="M455.1 409.6L457.6 413.9H452.6Z" fill="#1565dc"/><path d="M455.5 397.5L458.0 401.8H453.0Z" fill="#1565dc"/><path d="M455.5 400.8L458.0 405.1H453.0Z" fill="#1565dc"/><path d="M455.5 393.4L458.0 397.7H453.0Z" fill="#1565dc"/><path d="M455.9 406.0L458.4 410.3H453.4Z" fill="#1565dc"/><path d="M455.9 408.0L458.4 412.3H453.4Z" fill="#1565dc"/><path d="M456.3 401.3L458.8 405.6H453.8Z" fill="#1565dc"/><path d="M456.3 406.6L458.8 410.9H453.8Z" fill="#1565dc"/><path d="M456.3 395.0L458.8 399.3H453.8Z" fill="#1565dc"/><path d="M456.6 411.7L459.1 416.0H454.1Z" fill="#1565dc"/><path d="M456.6 399.2L459.1 403.5H454.1Z" fill="#1565dc"/><path d="M457.0 411.5L459.5 415.8H454.5Z" fill="#1565dc"/><path d="M457.0 401.0L459.5 405.3H454.5Z" fill="#1565dc"/><path d="M457.0 398.9L459.5 403.2H454.5Z" fill="#1565dc"/><path d="M457.4 413.2L459.9 417.5H454.9Z" fill="#1565dc"/><path d="M457.4 403.9L459.9 408.2H454.9Z" fill="#1565dc"/><path d="M457.8 403.7L460.3 408.0H455.3Z" fill="#1565dc"/><path d="M457.8 387.8L460.3 392.1H455.3Z" fill="#1565dc"/><path d="M458.2 399.6L460.7 403.9H455.7Z" fill="#1565dc"/><path d="M458.2 391.6L460.7 395.9H455.7Z" fill="#1565dc"/><path d="M458.6 407.0L461.1 411.3H456.1Z" fill="#1565dc"/><path d="M458.6 402.4L461.1 406.7H456.1Z" fill="#1565dc"/><path d="M458.9 403.3L461.4 407.6H456.4Z" fill="#1565dc"/><path d="M458.9 407.9L461.4 412.2H456.4Z" fill="#1565dc"/><path d="M458.9 397.7L461.4 402.0H456.4Z" fill="#1565dc"/><path d="M459.3 401.2L461.8 405.5H456.8Z" fill="#1565dc"/><path d="M459.3 403.9L461.8 408.2H456.8Z" fill="#1565dc"/><path d="M459.7 407.9L462.2 412.2H457.2Z" fill="#1565dc"/><path d="M459.7 403.2L462.2 407.5H457.2Z" fill="#1565dc"/><path d="M459.7 395.2L462.2 399.5H457.2Z" fill="#1565dc"/><path d="M460.1 403.3L462.6 407.6H457.6Z" fill="#1565dc"/><path d="M460.1 409.8L462.6 414.1H457.6Z" fill="#1565dc"/><path d="M460.1 398.5L462.6 402.8H457.6Z" fill="#1565dc"/><path d="M460.5 399.2L463.0 403.5H458.0Z" fill="#1565dc"/><path d="M460.5 412.5L463.0 416.8H458.0Z" fill="#1565dc"/><path d="M460.5 387.0L463.0 391.3H458.0Z" fill="#1565dc"/><path d="M460.9 409.3L463.4 413.6H458.4Z" fill="#1565dc"/><path d="M460.9 401.9L463.4 406.2H458.4Z" fill="#1565dc"/><path d="M460.9 389.8L463.4 394.1H458.4Z" fill="#1565dc"/><path d="M461.2 413.7L463.7 418.0H458.7Z" fill="#1565dc"/><path d="M461.2 406.4L463.7 410.7H458.7Z" fill="#1565dc"/><path d="M461.6 399.6L464.1 403.9H459.1Z" fill="#1565dc"/><path d="M462.0 411.3L464.5 415.6H459.5Z" fill="#1565dc"/><path d="M462.0 397.5L464.5 401.8H459.5Z" fill="#1565dc"/><path d="M462.4 401.1L464.9 405.4H459.9Z" fill="#1565dc"/><path d="M462.4 402.9L464.9 407.2H459.9Z" fill="#1565dc"/><path d="M462.4 392.0L464.9 396.3H459.9Z" fill="#1565dc"/><path d="M462.8 400.9L465.3 405.2H460.3Z" fill="#1565dc"/><path d="M462.8 400.3L465.3 404.6H460.3Z" fill="#1565dc"/><path d="M462.8 398.0L465.3 402.3H460.3Z" fill="#1565dc"/><path d="M463.2 409.3L465.7 413.6H460.7Z" fill="#1565dc"/><path d="M463.2 401.0L465.7 405.3H460.7Z" fill="#1565dc"/><path d="M463.2 384.9L465.7 389.2H460.7Z" fill="#1565dc"/><path d="M463.6 404.2L466.1 408.5H461.1Z" fill="#1565dc"/><path d="M463.6 402.9L466.1 407.2H461.1Z" fill="#1565dc"/><path d="M463.6 392.2L466.1 396.5H461.1Z" fill="#1565dc"/><path d="M463.9 405.1L466.4 409.4H461.4Z" fill="#1565dc"/><path d="M463.9 404.3L466.4 408.6H461.4Z" fill="#1565dc"/><path d="M463.9 381.2L466.4 385.5H461.4Z" fill="#1565dc"/><path d="M464.3 401.4L466.8 405.7H461.8Z" fill="#1565dc"/><path d="M464.3 400.4L466.8 404.7H461.8Z" fill="#1565dc"/><path d="M464.7 406.1L467.2 410.4H462.2Z" fill="#1565dc"/><path d="M464.7 395.2L467.2 399.5H462.2Z" fill="#1565dc"/><path d="M465.1 406.4L467.6 410.7H462.6Z" fill="#1565dc"/><path d="M465.1 406.2L467.6 410.5H462.6Z" fill="#1565dc"/><path d="M465.1 393.5L467.6 397.8H462.6Z" fill="#1565dc"/><path d="M465.5 408.0L468.0 412.3H463.0Z" fill="#1565dc"/><path d="M465.5 413.4L468.0 417.7H463.0Z" fill="#1565dc"/><path d="M465.5 394.0L468.0 398.3H463.0Z" fill="#1565dc"/><path d="M465.9 411.7L468.4 416.0H463.4Z" fill="#1565dc"/><path d="M465.9 404.2L468.4 408.5H463.4Z" fill="#1565dc"/><path d="M466.2 402.0L468.7 406.3H463.7Z" fill="#1565dc"/><path d="M466.2 400.8L468.7 405.1H463.7Z" fill="#1565dc"/><path d="M466.2 397.5L468.7 401.8H463.7Z" fill="#1565dc"/><path d="M466.6 408.1L469.1 412.4H464.1Z" fill="#1565dc"/><path d="M466.6 406.1L469.1 410.4H464.1Z" fill="#1565dc"/><path d="M467.0 398.4L469.5 402.7H464.5Z" fill="#1565dc"/><path d="M467.0 381.1L469.5 385.4H464.5Z" fill="#1565dc"/><path d="M467.4 402.7L469.9 407.0H464.9Z" fill="#1565dc"/><path d="M467.4 410.6L469.9 414.9H464.9Z" fill="#1565dc"/><path d="M467.8 398.3L470.3 402.6H465.3Z" fill="#1565dc"/><path d="M467.8 404.1L470.3 408.4H465.3Z" fill="#1565dc"/><path d="M468.2 404.9L470.7 409.2H465.7Z" fill="#1565dc"/><path d="M468.2 407.3L470.7 411.6H465.7Z" fill="#1565dc"/><path d="M468.5 413.1L471.0 417.4H466.0Z" fill="#1565dc"/><path d="M468.5 409.0L471.0 413.3H466.0Z" fill="#1565dc"/><path d="M468.5 398.3L471.0 402.6H466.0Z" fill="#1565dc"/><path d="M468.9 412.2L471.4 416.5H466.4Z" fill="#1565dc"/><path d="M468.9 400.9L471.4 405.2H466.4Z" fill="#1565dc"/><path d="M469.3 400.1L471.8 404.4H466.8Z" fill="#1565dc"/><path d="M469.3 399.1L471.8 403.4H466.8Z" fill="#1565dc"/><path d="M469.7 400.4L472.2 404.7H467.2Z" fill="#1565dc"/><path d="M469.7 399.7L472.2 404.0H467.2Z" fill="#1565dc"/><path d="M469.7 387.2L472.2 391.5H467.2Z" fill="#1565dc"/><path d="M470.1 398.2L472.6 402.5H467.6Z" fill="#1565dc"/><path d="M470.1 411.2L472.6 415.5H467.6Z" fill="#1565dc"/><path d="M470.5 413.8L473.0 418.1H468.0Z" fill="#1565dc"/><path d="M470.5 387.6L473.0 391.9H468.0Z" fill="#1565dc"/><path d="M470.8 412.9L473.3 417.2H468.3Z" fill="#1565dc"/><path d="M470.8 398.5L473.3 402.8H468.3Z" fill="#1565dc"/><path d="M471.2 406.6L473.7 410.9H468.7Z" fill="#1565dc"/><path d="M471.2 409.4L473.7 413.7H468.7Z" fill="#1565dc"/><path d="M471.6 398.5L474.1 402.8H469.1Z" fill="#1565dc"/><path d="M472.0 408.1L474.5 412.4H469.5Z" fill="#1565dc"/><path d="M472.0 397.5L474.5 401.8H469.5Z" fill="#1565dc"/><path d="M472.0 399.0L474.5 403.3H469.5Z" fill="#1565dc"/><path d="M472.4 400.9L474.9 405.2H469.9Z" fill="#1565dc"/><path d="M472.4 399.1L474.9 403.4H469.9Z" fill="#1565dc"/><path d="M472.4 398.4L474.9 402.7H469.9Z" fill="#1565dc"/><path d="M472.8 401.2L475.3 405.5H470.3Z" fill="#1565dc"/><path d="M472.8 405.5L475.3 409.8H470.3Z" fill="#1565dc"/><path d="M472.8 392.1L475.3 396.4H470.3Z" fill="#1565dc"/><path d="M473.2 410.2L475.7 414.5H470.7Z" fill="#1565dc"/><path d="M473.2 398.0L475.7 402.3H470.7Z" fill="#1565dc"/><path d="M473.5 412.7L476.0 417.0H471.0Z" fill="#1565dc"/><path d="M473.5 401.8L476.0 406.1H471.0Z" fill="#1565dc"/><path d="M473.9 397.5L476.4 401.8H471.4Z" fill="#1565dc"/><path d="M473.9 388.9L476.4 393.2H471.4Z" fill="#1565dc"/><path d="M474.3 400.7L476.8 405.0H471.8Z" fill="#1565dc"/><path d="M474.3 406.3L476.8 410.6H471.8Z" fill="#1565dc"/><path d="M474.3 393.5L476.8 397.8H471.8Z" fill="#1565dc"/><path d="M474.7 410.2L477.2 414.5H472.2Z" fill="#1565dc"/><path d="M474.7 410.3L477.2 414.6H472.2Z" fill="#1565dc"/><path d="M474.7 388.5L477.2 392.8H472.2Z" fill="#1565dc"/><path d="M475.1 403.8L477.6 408.1H472.6Z" fill="#1565dc"/><path d="M475.1 408.1L477.6 412.4H472.6Z" fill="#1565dc"/><path d="M475.1 398.7L477.6 403.0H472.6Z" fill="#1565dc"/><path d="M475.5 400.6L478.0 404.9H473.0Z" fill="#1565dc"/><path d="M475.5 398.1L478.0 402.4H473.0Z" fill="#1565dc"/><path d="M475.8 403.8L478.3 408.1H473.3Z" fill="#1565dc"/><path d="M475.8 399.0L478.3 403.3H473.3Z" fill="#1565dc"/><path d="M476.2 401.2L478.7 405.5H473.7Z" fill="#1565dc"/><path d="M476.6 397.5L479.1 401.8H474.1Z" fill="#1565dc"/><path d="M476.6 407.4L479.1 411.7H474.1Z" fill="#1565dc"/><path d="M476.6 388.6L479.1 392.9H474.1Z" fill="#1565dc"/><path d="M477.0 408.3L479.5 412.6H474.5Z" fill="#1565dc"/><path d="M477.0 397.8L479.5 402.1H474.5Z" fill="#1565dc"/><path d="M477.0 392.0L479.5 396.3H474.5Z" fill="#1565dc"/><path d="M477.4 405.3L479.9 409.6H474.9Z" fill="#1565dc"/><path d="M477.4 409.5L479.9 413.8H474.9Z" fill="#1565dc"/><path d="M477.8 404.1L480.3 408.4H475.3Z" fill="#1565dc"/><path d="M477.8 399.6L480.3 403.9H475.3Z" fill="#1565dc"/><path d="M478.1 411.3L480.6 415.6H475.6Z" fill="#1565dc"/><path d="M478.1 404.5L480.6 408.8H475.6Z" fill="#1565dc"/><path d="M478.5 397.7L481.0 402.0H476.0Z" fill="#1565dc"/><path d="M478.5 407.6L481.0 411.9H476.0Z" fill="#1565dc"/><path d="M478.5 389.1L481.0 393.4H476.0Z" fill="#1565dc"/><path d="M478.9 399.0L481.4 403.3H476.4Z" fill="#1565dc"/><path d="M478.9 397.5L481.4 401.8H476.4Z" fill="#1565dc"/><path d="M479.3 412.3L481.8 416.6H476.8Z" fill="#1565dc"/><path d="M479.3 398.2L481.8 402.5H476.8Z" fill="#1565dc"/><path d="M479.3 388.0L481.8 392.3H476.8Z" fill="#1565dc"/><path d="M479.7 406.5L482.2 410.8H477.2Z" fill="#1565dc"/><path d="M479.7 413.5L482.2 417.8H477.2Z" fill="#1565dc"/><path d="M480.1 408.5L482.6 412.8H477.6Z" fill="#1565dc"/><path d="M480.1 401.2L482.6 405.5H477.6Z" fill="#1565dc"/><path d="M480.4 401.2L482.9 405.5H477.9Z" fill="#1565dc"/><path d="M480.4 407.9L482.9 412.2H477.9Z" fill="#1565dc"/><path d="M480.4 399.0L482.9 403.3H477.9Z" fill="#1565dc"/><path d="M480.8 411.2L483.3 415.5H478.3Z" fill="#1565dc"/><path d="M480.8 413.1L483.3 417.4H478.3Z" fill="#1565dc"/><path d="M481.2 405.8L483.7 410.1H478.7Z" fill="#1565dc"/><path d="M481.2 407.0L483.7 411.3H478.7Z" fill="#1565dc"/><path d="M481.2 382.2L483.7 386.5H478.7Z" fill="#1565dc"/><path d="M481.6 399.5L484.1 403.8H479.1Z" fill="#1565dc"/><path d="M481.6 413.1L484.1 417.4H479.1Z" fill="#1565dc"/><path d="M482.0 411.3L484.5 415.6H479.5Z" fill="#1565dc"/><path d="M482.0 397.9L484.5 402.2H479.5Z" fill="#1565dc"/><path d="M482.4 409.0L484.9 413.3H479.9Z" fill="#1565dc"/><path d="M482.4 413.2L484.9 417.5H479.9Z" fill="#1565dc"/><path d="M482.8 403.0L485.3 407.3H480.3Z" fill="#1565dc"/><path d="M482.8 412.3L485.3 416.6H480.3Z" fill="#1565dc"/><path d="M483.1 413.9L485.6 418.2H480.6Z" fill="#1565dc"/><path d="M483.1 404.8L485.6 409.1H480.6Z" fill="#1565dc"/><path d="M483.5 409.3L486.0 413.6H481.0Z" fill="#1565dc"/><path d="M483.5 404.8L486.0 409.1H481.0Z" fill="#1565dc"/><path d="M483.5 388.5L486.0 392.8H481.0Z" fill="#1565dc"/><path d="M483.9 407.5L486.4 411.8H481.4Z" fill="#1565dc"/><path d="M484.3 412.5L486.8 416.8H481.8Z" fill="#1565dc"/><path d="M484.3 400.6L486.8 404.9H481.8Z" fill="#1565dc"/><path d="M484.7 403.3L487.2 407.6H482.2Z" fill="#1565dc"/><path d="M484.7 400.7L487.2 405.0H482.2Z" fill="#1565dc"/><path d="M485.1 400.6L487.6 404.9H482.6Z" fill="#1565dc"/><path d="M485.1 405.8L487.6 410.1H482.6Z" fill="#1565dc"/><path d="M485.4 401.3L487.9 405.6H482.9Z" fill="#1565dc"/><path d="M485.4 406.1L487.9 410.4H482.9Z" fill="#1565dc"/><path d="M485.8 399.3L488.3 403.6H483.3Z" fill="#1565dc"/><path d="M485.8 398.7L488.3 403.0H483.3Z" fill="#1565dc"/><path d="M485.8 390.2L488.3 394.5H483.3Z" fill="#1565dc"/><path d="M486.2 406.3L488.7 410.6H483.7Z" fill="#1565dc"/><path d="M486.2 412.6L488.7 416.9H483.7Z" fill="#1565dc"/><path d="M486.2 385.6L488.7 389.9H483.7Z" fill="#1565dc"/><path d="M486.6 407.2L489.1 411.5H484.1Z" fill="#1565dc"/><path d="M486.6 411.5L489.1 415.8H484.1Z" fill="#1565dc"/><path d="M487.0 404.8L489.5 409.1H484.5Z" fill="#1565dc"/><path d="M487.0 396.4L489.5 400.7H484.5Z" fill="#1565dc"/><path d="M487.4 410.6L489.9 414.9H484.9Z" fill="#1565dc"/><path d="M487.4 406.8L489.9 411.1H484.9Z" fill="#1565dc"/><path d="M487.7 398.5L490.2 402.8H485.2Z" fill="#1565dc"/><path d="M487.7 410.5L490.2 414.8H485.2Z" fill="#1565dc"/><path d="M487.7 399.0L490.2 403.3H485.2Z" fill="#1565dc"/><path d="M488.1 403.8L490.6 408.1H485.6Z" fill="#1565dc"/><path d="M488.1 398.8L490.6 403.1H485.6Z" fill="#1565dc"/><path d="M488.5 402.7L491.0 407.0H486.0Z" fill="#1565dc"/><path d="M488.9 408.8L491.4 413.1H486.4Z" fill="#1565dc"/><path d="M488.9 412.0L491.4 416.3H486.4Z" fill="#1565dc"/><path d="M488.9 390.4L491.4 394.7H486.4Z" fill="#1565dc"/><path d="M489.3 407.9L491.8 412.2H486.8Z" fill="#1565dc"/><path d="M489.3 398.5L491.8 402.8H486.8Z" fill="#1565dc"/><path d="M489.7 404.3L492.2 408.6H487.2Z" fill="#1565dc"/><path d="M489.7 408.6L492.2 412.9H487.2Z" fill="#1565dc"/><path d="M489.7 391.2L492.2 395.5H487.2Z" fill="#1565dc"/><path d="M490.0 413.5L492.5 417.8H487.5Z" fill="#1565dc"/><path d="M490.0 407.9L492.5 412.2H487.5Z" fill="#1565dc"/><path d="M490.0 384.9L492.5 389.2H487.5Z" fill="#1565dc"/><path d="M490.4 404.7L492.9 409.0H487.9Z" fill="#1565dc"/><path d="M490.4 404.8L492.9 409.1H487.9Z" fill="#1565dc"/><path d="M490.4 398.3L492.9 402.6H487.9Z" fill="#1565dc"/><path d="M490.8 405.4L493.3 409.7H488.3Z" fill="#1565dc"/><path d="M490.8 406.4L493.3 410.7H488.3Z" fill="#1565dc"/><path d="M490.8 386.3L493.3 390.6H488.3Z" fill="#1565dc"/><path d="M491.2 403.3L493.7 407.6H488.7Z" fill="#1565dc"/><path d="M491.2 404.0L493.7 408.3H488.7Z" fill="#1565dc"/><path d="M491.6 401.8L494.1 406.1H489.1Z" fill="#1565dc"/><path d="M491.6 404.2L494.1 408.5H489.1Z" fill="#1565dc"/><path d="M492.0 406.8L494.5 411.1H489.5Z" fill="#1565dc"/><path d="M492.0 401.8L494.5 406.1H489.5Z" fill="#1565dc"/><path d="M492.4 403.7L494.9 408.0H489.9Z" fill="#1565dc"/><path d="M492.4 398.6L494.9 402.9H489.9Z" fill="#1565dc"/><path d="M492.7 401.7L495.2 406.0H490.2Z" fill="#1565dc"/><path d="M492.7 403.9L495.2 408.2H490.2Z" fill="#1565dc"/><path d="M493.1 406.8L495.6 411.1H490.6Z" fill="#1565dc"/><path d="M493.1 397.9L495.6 402.2H490.6Z" fill="#1565dc"/><path d="M493.5 402.1L496.0 406.4H491.0Z" fill="#1565dc"/><path d="M493.5 411.1L496.0 415.4H491.0Z" fill="#1565dc"/><path d="M493.9 406.5L496.4 410.8H491.4Z" fill="#1565dc"/><path d="M494.3 405.0L496.8 409.3H491.8Z" fill="#1565dc"/><path d="M494.3 406.1L496.8 410.4H491.8Z" fill="#1565dc"/><path d="M494.7 404.9L497.2 409.2H492.2Z" fill="#1565dc"/><path d="M494.7 399.6L497.2 403.9H492.2Z" fill="#1565dc"/><path d="M494.7 389.6L497.2 393.9H492.2Z" fill="#1565dc"/><path d="M495.0 404.0L497.5 408.3H492.5Z" fill="#1565dc"/><path d="M495.0 409.5L497.5 413.8H492.5Z" fill="#1565dc"/><path d="M495.4 408.4L497.9 412.7H492.9Z" fill="#1565dc"/><path d="M495.4 409.7L497.9 414.0H492.9Z" fill="#1565dc"/><path d="M495.8 406.7L498.3 411.0H493.3Z" fill="#1565dc"/><path d="M495.8 391.1L498.3 395.4H493.3Z" fill="#1565dc"/><path d="M496.2 412.4L498.7 416.7H493.7Z" fill="#1565dc"/><path d="M496.2 397.6L498.7 401.9H493.7Z" fill="#1565dc"/><path d="M496.2 398.8L498.7 403.1H493.7Z" fill="#1565dc"/><path d="M496.6 413.6L499.1 417.9H494.1Z" fill="#1565dc"/><path d="M496.6 411.2L499.1 415.5H494.1Z" fill="#1565dc"/><path d="M496.6 398.8L499.1 403.1H494.1Z" fill="#1565dc"/><path d="M497.0 404.2L499.5 408.5H494.5Z" fill="#1565dc"/><path d="M497.3 410.6L499.8 414.9H494.8Z" fill="#1565dc"/><path d="M497.3 405.8L499.8 410.1H494.8Z" fill="#1565dc"/><path d="M497.7 410.2L500.2 414.5H495.2Z" fill="#1565dc"/><path d="M497.7 402.5L500.2 406.8H495.2Z" fill="#1565dc"/><path d="M498.1 411.0L500.6 415.3H495.6Z" fill="#1565dc"/><path d="M498.1 412.5L500.6 416.8H495.6Z" fill="#1565dc"/><path d="M498.5 406.5L501.0 410.8H496.0Z" fill="#1565dc"/><path d="M498.5 411.5L501.0 415.8H496.0Z" fill="#1565dc"/><path d="M498.9 400.9L501.4 405.2H496.4Z" fill="#1565dc"/><path d="M498.9 409.8L501.4 414.1H496.4Z" fill="#1565dc"/><path d="M499.3 406.8L501.8 411.1H496.8Z" fill="#1565dc"/><path d="M499.6 411.9L502.1 416.2H497.1Z" fill="#1565dc"/><path d="M499.6 403.0L502.1 407.3H497.1Z" fill="#1565dc"/><path d="M500.0 401.1L502.5 405.4H497.5Z" fill="#1565dc"/><path d="M500.0 413.8L502.5 418.1H497.5Z" fill="#1565dc"/><path d="M500.4 409.8L502.9 414.1H497.9Z" fill="#1565dc"/><path d="M500.4 404.0L502.9 408.3H497.9Z" fill="#1565dc"/><path d="M500.4 388.8L502.9 393.1H497.9Z" fill="#1565dc"/><path d="M500.8 409.0L503.3 413.3H498.3Z" fill="#1565dc"/><path d="M500.8 398.2L503.3 402.5H498.3Z" fill="#1565dc"/><path d="M501.2 413.5L503.7 417.8H498.7Z" fill="#1565dc"/><path d="M501.2 398.9L503.7 403.2H498.7Z" fill="#1565dc"/><path d="M501.6 410.1L504.1 414.4H499.1Z" fill="#1565dc"/><path d="M501.6 401.0L504.1 405.3H499.1Z" fill="#1565dc"/><path d="M502.0 410.9L504.5 415.2H499.5Z" fill="#1565dc"/><path d="M502.0 412.8L504.5 417.1H499.5Z" fill="#1565dc"/><path d="M502.0 392.1L504.5 396.4H499.5Z" fill="#1565dc"/><path d="M502.3 407.1L504.8 411.4H499.8Z" fill="#1565dc"/><path d="M502.3 400.0L504.8 404.3H499.8Z" fill="#1565dc"/><path d="M502.7 404.8L505.2 409.1H500.2Z" fill="#1565dc"/><path d="M502.7 409.8L505.2 414.1H500.2Z" fill="#1565dc"/><path d="M502.7 389.3L505.2 393.6H500.2Z" fill="#1565dc"/><path d="M503.1 410.0L505.6 414.3H500.6Z" fill="#1565dc"/><path d="M503.1 408.9L505.6 413.2H500.6Z" fill="#1565dc"/><path d="M503.5 401.4L506.0 405.7H501.0Z" fill="#1565dc"/><path d="M503.5 401.2L506.0 405.5H501.0Z" fill="#1565dc"/><path d="M503.9 400.2L506.4 404.5H501.4Z" fill="#1565dc"/><path d="M503.9 407.0L506.4 411.3H501.4Z" fill="#1565dc"/><path d="M504.3 411.7L506.8 416.0H501.8Z" fill="#1565dc"/><path d="M504.6 409.0L507.1 413.3H502.1Z" fill="#1565dc"/><path d="M504.6 398.4L507.1 402.7H502.1Z" fill="#1565dc"/><path d="M505.0 400.4L507.5 404.7H502.5Z" fill="#1565dc"/><path d="M505.0 409.1L507.5 413.4H502.5Z" fill="#1565dc"/><path d="M505.4 407.0L507.9 411.3H502.9Z" fill="#1565dc"/><path d="M505.4 398.4L507.9 402.7H502.9Z" fill="#1565dc"/><path d="M505.8 398.1L508.3 402.4H503.3Z" fill="#1565dc"/><path d="M505.8 402.7L508.3 407.0H503.3Z" fill="#1565dc"/><path d="M505.8 382.4L508.3 386.7H503.3Z" fill="#1565dc"/><path d="M506.2 404.8L508.7 409.1H503.7Z" fill="#1565dc"/><path d="M506.2 393.2L508.7 397.5H503.7Z" fill="#1565dc"/><path d="M506.6 413.5L509.1 417.8H504.1Z" fill="#1565dc"/><path d="M506.6 405.2L509.1 409.5H504.1Z" fill="#1565dc"/><path d="M506.9 399.1L509.4 403.4H504.4Z" fill="#1565dc"/><path d="M506.9 408.2L509.4 412.5H504.4Z" fill="#1565dc"/><path d="M507.3 407.5L509.8 411.8H504.8Z" fill="#1565dc"/><path d="M507.3 407.7L509.8 412.0H504.8Z" fill="#1565dc"/><path d="M507.3 395.1L509.8 399.4H504.8Z" fill="#1565dc"/><path d="M507.7 406.8L510.2 411.1H505.2Z" fill="#1565dc"/><path d="M507.7 397.8L510.2 402.1H505.2Z" fill="#1565dc"/><path d="M508.1 404.1L510.6 408.4H505.6Z" fill="#1565dc"/><path d="M508.1 412.8L510.6 417.1H505.6Z" fill="#1565dc"/><path d="M508.1 395.6L510.6 399.9H505.6Z" fill="#1565dc"/><path d="M508.5 403.5L511.0 407.8H506.0Z" fill="#1565dc"/><path d="M508.5 411.5L511.0 415.8H506.0Z" fill="#1565dc"/><path d="M508.9 408.8L511.4 413.1H506.4Z" fill="#1565dc"/><path d="M508.9 398.1L511.4 402.4H506.4Z" fill="#1565dc"/><path d="M508.9 396.9L511.4 401.2H506.4Z" fill="#1565dc"/><path d="M509.2 405.7L511.7 410.0H506.7Z" fill="#1565dc"/><path d="M509.2 402.5L511.7 406.8H506.7Z" fill="#1565dc"/><path d="M509.6 413.5L512.1 417.8H507.1Z" fill="#1565dc"/><path d="M509.6 405.3L512.1 409.6H507.1Z" fill="#1565dc"/><path d="M510.0 409.0L512.5 413.3H507.5Z" fill="#1565dc"/><path d="M510.0 400.9L512.5 405.2H507.5Z" fill="#1565dc"/><path d="M510.4 412.2L512.9 416.5H507.9Z" fill="#1565dc"/><path d="M510.4 406.8L512.9 411.1H507.9Z" fill="#1565dc"/><path d="M510.8 401.8L513.3 406.1H508.3Z" fill="#1565dc"/><path d="M510.8 404.0L513.3 408.3H508.3Z" fill="#1565dc"/><path d="M511.2 401.3L513.7 405.6H508.7Z" fill="#1565dc"/><path d="M511.2 406.0L513.7 410.3H508.7Z" fill="#1565dc"/><path d="M511.2 386.5L513.7 390.8H508.7Z" fill="#1565dc"/><path d="M511.6 399.4L514.1 403.7H509.1Z" fill="#1565dc"/><path d="M511.9 407.2L514.4 411.5H509.4Z" fill="#1565dc"/><path d="M511.9 403.1L514.4 407.4H509.4Z" fill="#1565dc"/><path d="M511.9 389.4L514.4 393.7H509.4Z" fill="#1565dc"/><path d="M512.3 411.2L514.8 415.5H509.8Z" fill="#1565dc"/><path d="M512.3 406.0L514.8 410.3H509.8Z" fill="#1565dc"/><path d="M512.7 407.4L515.2 411.7H510.2Z" fill="#1565dc"/><path d="M512.7 401.4L515.2 405.7H510.2Z" fill="#1565dc"/><path d="M512.7 393.2L515.2 397.5H510.2Z" fill="#1565dc"/><path d="M513.1 402.5L515.6 406.8H510.6Z" fill="#1565dc"/><path d="M513.1 412.6L515.6 416.9H510.6Z" fill="#1565dc"/><path d="M513.5 410.7L516.0 415.0H511.0Z" fill="#1565dc"/><path d="M513.5 400.8L516.0 405.1H511.0Z" fill="#1565dc"/><path d="M513.9 405.5L516.4 409.8H511.4Z" fill="#1565dc"/><path d="M513.9 406.3L516.4 410.6H511.4Z" fill="#1565dc"/><path d="M513.9 396.5L516.4 400.8H511.4Z" fill="#1565dc"/><path d="M514.2 398.2L516.7 402.5H511.7Z" fill="#1565dc"/><path d="M514.2 406.9L516.7 411.2H511.7Z" fill="#1565dc"/><path d="M514.6 412.8L517.1 417.1H512.1Z" fill="#1565dc"/><path d="M514.6 401.8L517.1 406.1H512.1Z" fill="#1565dc"/><path d="M515.0 403.4L517.5 407.7H512.5Z" fill="#1565dc"/><path d="M515.0 412.7L517.5 417.0H512.5Z" fill="#1565dc"/><path d="M515.0 387.6L517.5 391.9H512.5Z" fill="#1565dc"/><path d="M515.4 412.6L517.9 416.9H512.9Z" fill="#1565dc"/><path d="M515.4 400.1L517.9 404.4H512.9Z" fill="#1565dc"/><path d="M515.8 398.1L518.3 402.4H513.3Z" fill="#1565dc"/><path d="M515.8 413.3L518.3 417.6H513.3Z" fill="#1565dc"/><path d="M515.8 387.6L518.3 391.9H513.3Z" fill="#1565dc"/><path d="M516.2 404.6L518.7 408.9H513.7Z" fill="#1565dc"/><path d="M516.2 387.5L518.7 391.8H513.7Z" fill="#1565dc"/><path d="M516.5 406.3L519.0 410.6H514.0Z" fill="#1565dc"/><path d="M516.5 389.8L519.0 394.1H514.0Z" fill="#1565dc"/><path d="M516.9 399.4L519.4 403.7H514.4Z" fill="#1565dc"/><path d="M516.9 399.0L519.4 403.3H514.4Z" fill="#1565dc"/><path d="M517.3 401.4L519.8 405.7H514.8Z" fill="#1565dc"/><path d="M517.3 411.1L519.8 415.4H514.8Z" fill="#1565dc"/><path d="M517.7 408.6L520.2 412.9H515.2Z" fill="#1565dc"/><path d="M517.7 413.0L520.2 417.3H515.2Z" fill="#1565dc"/><path d="M518.1 409.0L520.6 413.3H515.6Z" fill="#1565dc"/><path d="M518.1 400.3L520.6 404.6H515.6Z" fill="#1565dc"/><path d="M518.1 399.0L520.6 403.3H515.6Z" fill="#1565dc"/><path d="M518.5 412.8L521.0 417.1H516.0Z" fill="#1565dc"/><path d="M518.5 404.7L521.0 409.0H516.0Z" fill="#1565dc"/><path d="M518.8 402.8L521.3 407.1H516.3Z" fill="#1565dc"/><path d="M518.8 409.4L521.3 413.7H516.3Z" fill="#1565dc"/><path d="M519.2 405.1L521.7 409.4H516.7Z" fill="#1565dc"/><path d="M519.2 398.8L521.7 403.1H516.7Z" fill="#1565dc"/><path d="M519.6 403.2L522.1 407.5H517.1Z" fill="#1565dc"/><path d="M519.6 407.5L522.1 411.8H517.1Z" fill="#1565dc"/><path d="M520.0 409.0L522.5 413.3H517.5Z" fill="#1565dc"/><path d="M520.0 381.4L522.5 385.7H517.5Z" fill="#1565dc"/>
<rect x="336.5" y="390.1" width="3.0" height="3.0" fill="#6a6a6a"/><rect x="336.9" y="391.4" width="3.0" height="3.0" fill="#6a6a6a"/><rect x="342.2" y="398.6" width="3.0" height="3.0" fill="#6a6a6a"/><rect x="345.7" y="390.2" width="3.0" height="3.0" fill="#6a6a6a"/><rect x="346.1" y="387.0" width="3.0" height="3.0" fill="#6a6a6a"/><rect x="347.2" y="395.9" width="3.0" height="3.0" fill="#6a6a6a"/><rect x="349.5" y="399.2" width="3.0" height="3.0" fill="#6a6a6a"/><rect x="352.2" y="400.3" width="3.0" height="3.0" fill="#6a6a6a"/><rect x="353.4" y="387.3" width="3.0" height="3.0" fill="#6a6a6a"/><rect x="360.7" y="397.3" width="3.0" height="3.0" fill="#6a6a6a"/><rect x="364.5" y="395.5" width="3.0" height="3.0" fill="#6a6a6a"/><rect x="368.0" y="390.7" width="3.0" height="3.0" fill="#6a6a6a"/><rect x="375.7" y="393.6" width="3.0" height="3.0" fill="#6a6a6a"/><rect x="376.4" y="388.2" width="3.0" height="3.0" fill="#6a6a6a"/><rect x="382.9" y="395.1" width="3.0" height="3.0" fill="#6a6a6a"/><rect x="387.9" y="390.0" width="3.0" height="3.0" fill="#6a6a6a"/><rect x="391.0" y="398.3" width="3.0" height="3.0" fill="#6a6a6a"/><rect x="391.8" y="392.2" width="3.0" height="3.0" fill="#6a6a6a"/><rect x="397.5" y="385.4" width="3.0" height="3.0" fill="#6a6a6a"/><rect x="400.6" y="387.0" width="3.0" height="3.0" fill="#6a6a6a"/><rect x="401.0" y="391.3" width="3.0" height="3.0" fill="#6a6a6a"/><rect x="402.5" y="387.6" width="3.0" height="3.0" fill="#6a6a6a"/><rect x="403.3" y="398.2" width="3.0" height="3.0" fill="#6a6a6a"/><rect x="412.9" y="392.9" width="3.0" height="3.0" fill="#6a6a6a"/><rect x="414.4" y="386.2" width="3.0" height="3.0" fill="#6a6a6a"/><rect x="414.8" y="390.8" width="3.0" height="3.0" fill="#6a6a6a"/><rect x="415.2" y="393.1" width="3.0" height="3.0" fill="#6a6a6a"/><rect x="415.6" y="393.7" width="3.0" height="3.0" fill="#6a6a6a"/><rect x="421.0" y="398.7" width="3.0" height="3.0" fill="#6a6a6a"/><rect x="422.9" y="397.5" width="3.0" height="3.0" fill="#6a6a6a"/><rect x="427.5" y="387.4" width="3.0" height="3.0" fill="#6a6a6a"/><rect x="432.1" y="386.0" width="3.0" height="3.0" fill="#6a6a6a"/><rect x="436.3" y="396.8" width="3.0" height="3.0" fill="#6a6a6a"/><rect x="436.7" y="395.6" width="3.0" height="3.0" fill="#6a6a6a"/><rect x="437.1" y="388.7" width="3.0" height="3.0" fill="#6a6a6a"/><rect x="439.0" y="401.0" width="3.0" height="3.0" fill="#6a6a6a"/><rect x="442.5" y="385.4" width="3.0" height="3.0" fill="#6a6a6a"/><rect x="444.0" y="401.2" width="3.0" height="3.0" fill="#6a6a6a"/><rect x="445.2" y="398.7" width="3.0" height="3.0" fill="#6a6a6a"/><rect x="447.1" y="387.3" width="3.0" height="3.0" fill="#6a6a6a"/><rect x="450.9" y="389.9" width="3.0" height="3.0" fill="#6a6a6a"/><rect x="452.5" y="398.0" width="3.0" height="3.0" fill="#6a6a6a"/><rect x="454.4" y="395.2" width="3.0" height="3.0" fill="#6a6a6a"/><rect x="455.1" y="390.6" width="3.0" height="3.0" fill="#6a6a6a"/><rect x="461.3" y="399.1" width="3.0" height="3.0" fill="#6a6a6a"/><rect x="466.3" y="397.7" width="3.0" height="3.0" fill="#6a6a6a"/><rect x="467.0" y="393.8" width="3.0" height="3.0" fill="#6a6a6a"/><rect x="469.3" y="393.8" width="3.0" height="3.0" fill="#6a6a6a"/><rect x="469.7" y="396.3" width="3.0" height="3.0" fill="#6a6a6a"/><rect x="470.5" y="398.3" width="3.0" height="3.0" fill="#6a6a6a"/><rect x="475.1" y="396.7" width="3.0" height="3.0" fill="#6a6a6a"/><rect x="475.9" y="396.0" width="3.0" height="3.0" fill="#6a6a6a"/><rect x="476.3" y="399.6" width="3.0" height="3.0" fill="#6a6a6a"/><rect x="478.2" y="393.1" width="3.0" height="3.0" fill="#6a6a6a"/><rect x="481.3" y="394.5" width="3.0" height="3.0" fill="#6a6a6a"/><rect x="484.3" y="390.6" width="3.0" height="3.0" fill="#6a6a6a"/><rect x="485.1" y="399.8" width="3.0" height="3.0" fill="#6a6a6a"/><rect x="486.2" y="388.4" width="3.0" height="3.0" fill="#6a6a6a"/><rect x="489.3" y="398.0" width="3.0" height="3.0" fill="#6a6a6a"/><rect x="490.9" y="392.0" width="3.0" height="3.0" fill="#6a6a6a"/><rect x="496.6" y="401.2" width="3.0" height="3.0" fill="#6a6a6a"/><rect x="497.4" y="399.7" width="3.0" height="3.0" fill="#6a6a6a"/><rect x="507.7" y="400.9" width="3.0" height="3.0" fill="#6a6a6a"/><rect x="512.0" y="391.6" width="3.0" height="3.0" fill="#6a6a6a"/><rect x="513.5" y="401.1" width="3.0" height="3.0" fill="#6a6a6a"/>
<circle cx="333.0" cy="413.6" r="1.2" fill="#ff2a2a"/><circle cx="338.8" cy="411.2" r="1.2" fill="#ff2a2a"/><circle cx="350.3" cy="406.6" r="1.2" fill="#ff2a2a"/><circle cx="354.1" cy="414.7" r="1.2" fill="#ff2a2a"/><circle cx="354.9" cy="415.0" r="1.2" fill="#ff2a2a"/><circle cx="363.7" cy="406.0" r="1.2" fill="#ff2a2a"/><circle cx="372.2" cy="407.0" r="1.2" fill="#ff2a2a"/><circle cx="378.7" cy="413.5" r="1.2" fill="#ff2a2a"/><circle cx="381.8" cy="411.9" r="1.2" fill="#ff2a2a"/><circle cx="384.4" cy="410.9" r="1.2" fill="#ff2a2a"/><circle cx="407.1" cy="407.6" r="1.2" fill="#ff2a2a"/><circle cx="416.3" cy="415.5" r="1.2" fill="#ff2a2a"/><circle cx="418.2" cy="414.7" r="1.2" fill="#ff2a2a"/><circle cx="421.3" cy="410.9" r="1.2" fill="#ff2a2a"/><circle cx="424.0" cy="413.7" r="1.2" fill="#ff2a2a"/><circle cx="433.2" cy="408.8" r="1.2" fill="#ff2a2a"/><circle cx="444.0" cy="414.4" r="1.2" fill="#ff2a2a"/><circle cx="450.1" cy="413.0" r="1.2" fill="#ff2a2a"/><circle cx="453.2" cy="411.7" r="1.2" fill="#ff2a2a"/><circle cx="454.0" cy="414.2" r="1.2" fill="#ff2a2a"/><circle cx="455.9" cy="409.1" r="1.2" fill="#ff2a2a"/><circle cx="461.2" cy="411.7" r="1.2" fill="#ff2a2a"/><circle cx="463.2" cy="410.4" r="1.2" fill="#ff2a2a"/><circle cx="468.2" cy="409.2" r="1.2" fill="#ff2a2a"/><circle cx="468.5" cy="407.1" r="1.2" fill="#ff2a2a"/><circle cx="473.5" cy="415.2" r="1.2" fill="#ff2a2a"/><circle cx="475.1" cy="409.1" r="1.2" fill="#ff2a2a"/><circle cx="477.0" cy="412.8" r="1.2" fill="#ff2a2a"/><circle cx="479.3" cy="408.0" r="1.2" fill="#ff2a2a"/><circle cx="483.5" cy="414.6" r="1.2" fill="#ff2a2a"/><circle cx="486.6" cy="411.6" r="1.2" fill="#ff2a2a"/><circle cx="501.2" cy="408.6" r="1.2" fill="#ff2a2a"/><circle cx="508.1" cy="408.4" r="1.2" fill="#ff2a2a"/><circle cx="510.4" cy="406.6" r="1.2" fill="#ff2a2a"/><circle cx="518.1" cy="415.6" r="1.2" fill="#ff2a2a"/>
<rect x="327.0" y="282.8" width="3.4" height="3.4" fill="#5a5a5a"/><rect x="327.0" y="286.3" width="3.4" height="3.4" fill="#5a5a5a"/><rect x="332.3" y="328.8" width="3.4" height="3.4" fill="#5a5a5a"/><rect x="331.9" y="336.5" width="3.4" height="3.4" fill="#5a5a5a"/><rect x="358.0" y="329.8" width="3.4" height="3.4" fill="#5a5a5a"/><rect x="413.3" y="333.3" width="3.4" height="3.4" fill="#5a5a5a"/><rect x="380.3" y="344.3" width="3.4" height="3.4" fill="#5a5a5a"/><rect x="387.7" y="343.3" width="3.4" height="3.4" fill="#5a5a5a"/><rect x="382.3" y="346.3" width="3.4" height="3.4" fill="#5a5a5a"/><rect x="402.3" y="346.9" width="3.4" height="3.4" fill="#5a5a5a"/><rect x="418.3" y="344.9" width="3.4" height="3.4" fill="#5a5a5a"/><rect x="422.3" y="345.3" width="3.4" height="3.4" fill="#5a5a5a"/><rect x="426.3" y="324.3" width="3.4" height="3.4" fill="#5a5a5a"/><rect x="477.9" y="331.3" width="3.4" height="3.4" fill="#5a5a5a"/><rect x="420.3" y="345.3" width="3.4" height="3.4" fill="#5a5a5a"/><rect x="359.9" y="343.1" width="3.4" height="3.4" fill="#5a5a5a"/><rect x="356.8" y="348.6" width="3.4" height="3.4" fill="#5a5a5a"/><rect x="355.6" y="354.2" width="3.4" height="3.4" fill="#5a5a5a"/><rect x="361.7" y="355.4" width="3.4" height="3.4" fill="#5a5a5a"/><rect x="369.7" y="354.8" width="3.4" height="3.4" fill="#5a5a5a"/><rect x="371.0" y="357.9" width="3.4" height="3.4" fill="#5a5a5a"/><rect x="374.1" y="356.0" width="3.4" height="3.4" fill="#5a5a5a"/><rect x="377.1" y="357.3" width="3.4" height="3.4" fill="#5a5a5a"/><rect x="384.3" y="361.3" width="3.4" height="3.4" fill="#5a5a5a"/><rect x="397.3" y="360.3" width="3.4" height="3.4" fill="#5a5a5a"/><rect x="400.3" y="354.3" width="3.4" height="3.4" fill="#5a5a5a"/><rect x="390.3" y="349.3" width="3.4" height="3.4" fill="#5a5a5a"/><rect x="419.3" y="351.3" width="3.4" height="3.4" fill="#5a5a5a"/><rect x="404.3" y="367.3" width="3.4" height="3.4" fill="#5a5a5a"/><rect x="407.3" y="369.3" width="3.4" height="3.4" fill="#5a5a5a"/><rect x="409.3" y="371.3" width="3.4" height="3.4" fill="#5a5a5a"/><rect x="394.3" y="370.3" width="3.4" height="3.4" fill="#5a5a5a"/><rect x="398.3" y="375.3" width="3.4" height="3.4" fill="#5a5a5a"/><rect x="353.3" y="361.3" width="3.4" height="3.4" fill="#5a5a5a"/><rect x="368.3" y="365.3" width="3.4" height="3.4" fill="#5a5a5a"/><rect x="372.3" y="369.3" width="3.4" height="3.4" fill="#5a5a5a"/><rect x="377.3" y="375.3" width="3.4" height="3.4" fill="#5a5a5a"/><rect x="379.3" y="378.3" width="3.4" height="3.4" fill="#5a5a5a"/><rect x="383.3" y="379.3" width="3.4" height="3.4" fill="#5a5a5a"/><rect x="351.3" y="375.3" width="3.4" height="3.4" fill="#5a5a5a"/><rect x="355.3" y="376.3" width="3.4" height="3.4" fill="#5a5a5a"/><rect x="383.9" y="361.0" width="3.4" height="3.4" fill="#5a5a5a"/><rect x="381.5" y="365.9" width="3.4" height="3.4" fill="#5a5a5a"/><rect x="353.7" y="360.3" width="3.4" height="3.4" fill="#5a5a5a"/><rect x="367.9" y="364.7" width="3.4" height="3.4" fill="#5a5a5a"/><rect x="372.2" y="369.0" width="3.4" height="3.4" fill="#5a5a5a"/><rect x="378.3" y="371.5" width="3.4" height="3.4" fill="#5a5a5a"/><rect x="351.3" y="375.2" width="3.4" height="3.4" fill="#5a5a5a"/><rect x="371.6" y="379.5" width="3.4" height="3.4" fill="#5a5a5a"/><rect x="375.3" y="377.0" width="3.4" height="3.4" fill="#5a5a5a"/><rect x="379.0" y="378.3" width="3.4" height="3.4" fill="#5a5a5a"/><rect x="422.3" y="345.9" width="3.4" height="3.4" fill="#5a5a5a"/><rect x="425.3" y="357.3" width="3.4" height="3.4" fill="#5a5a5a"/><rect x="427.3" y="358.3" width="3.4" height="3.4" fill="#5a5a5a"/><rect x="433.3" y="365.3" width="3.4" height="3.4" fill="#5a5a5a"/><rect x="435.3" y="369.3" width="3.4" height="3.4" fill="#5a5a5a"/><rect x="429.3" y="376.3" width="3.4" height="3.4" fill="#5a5a5a"/><rect x="436.3" y="377.3" width="3.4" height="3.4" fill="#5a5a5a"/><rect x="459.3" y="370.3" width="3.4" height="3.4" fill="#5a5a5a"/><rect x="486.3" y="358.3" width="3.4" height="3.4" fill="#5a5a5a"/><rect x="504.3" y="360.3" width="3.4" height="3.4" fill="#5a5a5a"/><rect x="494.3" y="369.3" width="3.4" height="3.4" fill="#5a5a5a"/><rect x="499.3" y="377.3" width="3.4" height="3.4" fill="#5a5a5a"/><rect x="456.3" y="380.3" width="3.4" height="3.4" fill="#5a5a5a"/><rect x="469.3" y="377.3" width="3.4" height="3.4" fill="#5a5a5a"/><rect x="506.3" y="381.3" width="3.4" height="3.4" fill="#5a5a5a"/><rect x="513.3" y="380.3" width="3.4" height="3.4" fill="#5a5a5a"/>
<circle cx="403.8" cy="266.6" r="2.1" fill="#ff2a2a"/><circle cx="396.0" cy="279.0" r="2.1" fill="#ff2a2a"/><circle cx="416.4" cy="282.6" r="2.1" fill="#ff2a2a"/><circle cx="376.0" cy="316.4" r="2.1" fill="#ff2a2a"/><circle cx="385.6" cy="318.6" r="2.1" fill="#ff2a2a"/><circle cx="328.8" cy="342.2" r="2.1" fill="#ff2a2a"/><circle cx="364.0" cy="343.0" r="2.1" fill="#ff2a2a"/><circle cx="362.0" cy="346.0" r="2.1" fill="#ff2a2a"/><circle cx="367.4" cy="347.4" r="2.1" fill="#ff2a2a"/><circle cx="452.0" cy="288.0" r="2.1" fill="#ff2a2a"/><circle cx="506.0" cy="289.0" r="2.1" fill="#ff2a2a"/><circle cx="436.0" cy="313.0" r="2.1" fill="#ff2a2a"/><circle cx="484.6" cy="328.6" r="2.1" fill="#ff2a2a"/><circle cx="483.6" cy="340.0" r="2.1" fill="#ff2a2a"/><circle cx="363.4" cy="343.6" r="2.1" fill="#ff2a2a"/><circle cx="362.2" cy="346.0" r="2.1" fill="#ff2a2a"/><circle cx="367.1" cy="347.3" r="2.1" fill="#ff2a2a"/><circle cx="365.9" cy="350.3" r="2.1" fill="#ff2a2a"/><circle cx="369.6" cy="352.8" r="2.1" fill="#ff2a2a"/><circle cx="368.4" cy="354.7" r="2.1" fill="#ff2a2a"/><circle cx="396.0" cy="366.0" r="2.1" fill="#ff2a2a"/><circle cx="363.4" cy="375.6" r="2.1" fill="#ff2a2a"/><circle cx="366.5" cy="376.2" r="2.1" fill="#ff2a2a"/><circle cx="361.6" cy="380.6" r="2.1" fill="#ff2a2a"/><circle cx="369.6" cy="380.0" r="2.1" fill="#ff2a2a"/><circle cx="364.7" cy="384.3" r="2.1" fill="#ff2a2a"/><circle cx="369.0" cy="384.3" r="2.1" fill="#ff2a2a"/><circle cx="362.2" cy="386.7" r="2.1" fill="#ff2a2a"/><circle cx="367.7" cy="386.7" r="2.1" fill="#ff2a2a"/><circle cx="361.0" cy="375.0" r="2.1" fill="#ff2a2a"/><circle cx="365.0" cy="374.0" r="2.1" fill="#ff2a2a"/><circle cx="369.0" cy="376.0" r="2.1" fill="#ff2a2a"/><circle cx="363.0" cy="379.0" r="2.1" fill="#ff2a2a"/><circle cx="367.0" cy="380.0" r="2.1" fill="#ff2a2a"/><circle cx="371.0" cy="379.0" r="2.1" fill="#ff2a2a"/><circle cx="361.0" cy="384.0" r="2.1" fill="#ff2a2a"/><circle cx="365.0" cy="386.0" r="2.1" fill="#ff2a2a"/><circle cx="369.0" cy="385.0" r="2.1" fill="#ff2a2a"/><circle cx="372.0" cy="383.0" r="2.1" fill="#ff2a2a"/><circle cx="364.0" cy="389.0" r="2.1" fill="#ff2a2a"/><circle cx="368.0" cy="389.0" r="2.1" fill="#ff2a2a"/>
<path d="M328.8 293.4L331.3 297.7H326.3Z" fill="#1565dc"/><path d="M328.7 300.8L331.2 305.1H326.2Z" fill="#1565dc"/><path d="M330.6 358.4L333.1 362.7H328.1Z" fill="#1565dc"/><path d="M329.0 373.4L331.5 377.7H326.5Z" fill="#1565dc"/><path d="M356.0 363.2L358.5 367.5H353.5Z" fill="#1565dc"/><path d="M365.3 363.8L367.8 368.1H362.8Z" fill="#1565dc"/><path d="M354.8 369.9L357.3 374.2H352.3Z" fill="#1565dc"/><path d="M377.0 369.9L379.5 374.2H374.5Z" fill="#1565dc"/><path d="M353.6 377.4L356.1 381.7H351.1Z" fill="#1565dc"/><path d="M377.0 378.0L379.5 382.3H374.5Z" fill="#1565dc"/><path d="M343.0 379.2L345.5 383.5H340.5Z" fill="#1565dc"/><path d="M410.0 378.4L412.5 382.7H407.5Z" fill="#1565dc"/><path d="M417.0 376.4L419.5 380.7H414.5Z" fill="#1565dc"/><path d="M461.6 329.0L464.1 333.3H459.1Z" fill="#1565dc"/><path d="M494.0 327.0L496.5 331.3H491.5Z" fill="#1565dc"/><path d="M450.0 370.4L452.5 374.7H447.5Z" fill="#1565dc"/><path d="M455.0 373.4L457.5 377.7H452.5Z" fill="#1565dc"/><path d="M469.0 375.4L471.5 379.7H466.5Z" fill="#1565dc"/><path d="M489.0 375.4L491.5 379.7H486.5Z" fill="#1565dc"/><path d="M504.0 361.4L506.5 365.7H501.5Z" fill="#1565dc"/><path d="M506.0 366.4L508.5 370.7H503.5Z" fill="#1565dc"/><path d="M499.0 367.4L501.5 371.7H496.5Z" fill="#1565dc"/><path d="M505.0 374.4L507.5 378.7H502.5Z" fill="#1565dc"/><path d="M519.0 371.4L521.5 375.7H516.5Z" fill="#1565dc"/><path d="M511.0 377.4L513.5 381.7H508.5Z" fill="#1565dc"/><path d="M481.0 378.4L483.5 382.7H478.5Z" fill="#1565dc"/><path d="M456.0 377.4L458.5 381.7H453.5Z" fill="#1565dc"/>
<path d="M309.6 383.44H539.3 M309.6 416.50H539.3" stroke="#ff7f0a" stroke-width="2.1"/>
<rect x="332.3" y="249.1" width="140.4" height="9.7" fill="#fff" stroke="#8a8a8a" stroke-width="0.8"/>
<rect x="339.2" y="252.4" width="3.6" height="3.6" fill="#666"/><circle cx="389.0" cy="254.2" r="2.1" fill="#ff2a2a"/><path d="M426.9 252.0L429.4 256.2H424.4Z" fill="#1565dc"/>
<text x="350.90" y="256.80" font-size="7.4" text-anchor="start" font-weight="normal" fill="#2a2a2a" textLength="30.1" lengthAdjust="spacingAndGlyphs">Q-learning</text>
<text x="398.30" y="256.80" font-size="7.4" text-anchor="start" font-weight="normal" fill="#2a2a2a" textLength="20.6" lengthAdjust="spacingAndGlyphs">DDQN</text>
<text x="436.70" y="256.80" font-size="7.4" text-anchor="start" font-weight="normal" fill="#2a2a2a" textLength="35.6" lengthAdjust="spacingAndGlyphs">PAC-DDQN</text>
</svg></body></html>
